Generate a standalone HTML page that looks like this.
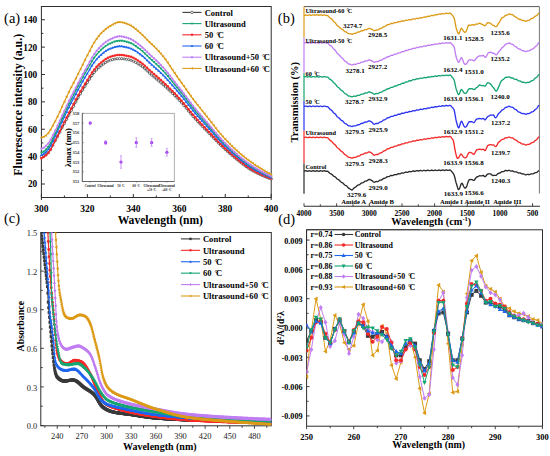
<!DOCTYPE html>
<html><head><meta charset="utf-8"><style>html,body{margin:0;padding:0;background:#fff;width:550px;height:456px;overflow:hidden;position:relative}</style></head><body>
<svg width="550" height="456" viewBox="0 0 550 456" style="position:absolute;left:0;top:0">
<rect width="550" height="456" fill="#fff"/>
<g font-family='"Liberation Serif", serif'>
<rect x="41.4" y="6.5" width="229.80" height="191.00" fill="none" stroke="#2e2e2e" stroke-width="1"/>
<line x1="41.40" y1="184.00" x2="44.90" y2="184.00" stroke="#2e2e2e" stroke-width="1.0"/>
<text x="37.20" y="187.44" font-size="9.3" font-weight="bold" text-anchor="end" fill="#000">20</text>
<line x1="41.40" y1="156.62" x2="44.90" y2="156.62" stroke="#2e2e2e" stroke-width="1.0"/>
<text x="37.20" y="160.06" font-size="9.3" font-weight="bold" text-anchor="end" fill="#000">40</text>
<line x1="41.40" y1="129.24" x2="44.90" y2="129.24" stroke="#2e2e2e" stroke-width="1.0"/>
<text x="37.20" y="132.68" font-size="9.3" font-weight="bold" text-anchor="end" fill="#000">60</text>
<line x1="41.40" y1="101.86" x2="44.90" y2="101.86" stroke="#2e2e2e" stroke-width="1.0"/>
<text x="37.20" y="105.30" font-size="9.3" font-weight="bold" text-anchor="end" fill="#000">80</text>
<line x1="41.40" y1="74.48" x2="44.90" y2="74.48" stroke="#2e2e2e" stroke-width="1.0"/>
<text x="37.20" y="77.92" font-size="9.3" font-weight="bold" text-anchor="end" fill="#000">100</text>
<line x1="41.40" y1="47.10" x2="44.90" y2="47.10" stroke="#2e2e2e" stroke-width="1.0"/>
<text x="37.20" y="50.54" font-size="9.3" font-weight="bold" text-anchor="end" fill="#000">120</text>
<line x1="41.40" y1="19.72" x2="44.90" y2="19.72" stroke="#2e2e2e" stroke-width="1.0"/>
<text x="37.20" y="23.16" font-size="9.3" font-weight="bold" text-anchor="end" fill="#000">140</text>
<line x1="41.40" y1="170.31" x2="43.40" y2="170.31" stroke="#2e2e2e" stroke-width="1.0"/>
<line x1="41.40" y1="142.93" x2="43.40" y2="142.93" stroke="#2e2e2e" stroke-width="1.0"/>
<line x1="41.40" y1="115.55" x2="43.40" y2="115.55" stroke="#2e2e2e" stroke-width="1.0"/>
<line x1="41.40" y1="88.17" x2="43.40" y2="88.17" stroke="#2e2e2e" stroke-width="1.0"/>
<line x1="41.40" y1="60.79" x2="43.40" y2="60.79" stroke="#2e2e2e" stroke-width="1.0"/>
<line x1="41.40" y1="33.41" x2="43.40" y2="33.41" stroke="#2e2e2e" stroke-width="1.0"/>
<line x1="41.40" y1="197.50" x2="41.40" y2="194.00" stroke="#2e2e2e" stroke-width="1.0"/>
<text x="41.40" y="211.81" font-size="9.5" font-weight="bold" text-anchor="middle" fill="#000">300</text>
<line x1="87.36" y1="197.50" x2="87.36" y2="194.00" stroke="#2e2e2e" stroke-width="1.0"/>
<text x="87.36" y="211.81" font-size="9.5" font-weight="bold" text-anchor="middle" fill="#000">320</text>
<line x1="133.32" y1="197.50" x2="133.32" y2="194.00" stroke="#2e2e2e" stroke-width="1.0"/>
<text x="133.32" y="211.81" font-size="9.5" font-weight="bold" text-anchor="middle" fill="#000">340</text>
<line x1="179.28" y1="197.50" x2="179.28" y2="194.00" stroke="#2e2e2e" stroke-width="1.0"/>
<text x="179.28" y="211.81" font-size="9.5" font-weight="bold" text-anchor="middle" fill="#000">360</text>
<line x1="225.24" y1="197.50" x2="225.24" y2="194.00" stroke="#2e2e2e" stroke-width="1.0"/>
<text x="225.24" y="211.81" font-size="9.5" font-weight="bold" text-anchor="middle" fill="#000">380</text>
<line x1="271.20" y1="197.50" x2="271.20" y2="194.00" stroke="#2e2e2e" stroke-width="1.0"/>
<text x="271.20" y="211.81" font-size="9.5" font-weight="bold" text-anchor="middle" fill="#000">400</text>
<line x1="64.38" y1="197.50" x2="64.38" y2="195.50" stroke="#2e2e2e" stroke-width="1.0"/>
<line x1="110.34" y1="197.50" x2="110.34" y2="195.50" stroke="#2e2e2e" stroke-width="1.0"/>
<line x1="156.30" y1="197.50" x2="156.30" y2="195.50" stroke="#2e2e2e" stroke-width="1.0"/>
<line x1="202.26" y1="197.50" x2="202.26" y2="195.50" stroke="#2e2e2e" stroke-width="1.0"/>
<line x1="248.22" y1="197.50" x2="248.22" y2="195.50" stroke="#2e2e2e" stroke-width="1.0"/>
<line x1="41.40" y1="197.50" x2="41.40" y2="200.00" stroke="#2e2e2e" stroke-width="1.0"/>
<line x1="271.20" y1="197.50" x2="271.20" y2="200.00" stroke="#2e2e2e" stroke-width="1.0"/>
<text x="160.30" y="224.31" font-size="11.6" font-weight="bold" text-anchor="middle" fill="#000">Wavelength (nm)</text>
<text x="18.40" y="108.82" font-size="11.9" font-weight="bold" text-anchor="middle" fill="#000" transform="rotate(-90 18.40 104.80)">Fluorescence intensity (a.u.)</text>
<text x="12.10" y="23.19" font-size="14.5" font-weight="normal" text-anchor="middle" fill="#000">(a)</text>
<path d="M41.40,156.62 L43.70,155.95 L46.00,154.45 L48.29,152.51 L50.59,149.51 L52.89,145.26 L55.19,140.88 L57.49,136.64 L59.78,132.24 L62.08,127.87 L64.38,123.59 L66.68,119.34 L68.98,115.08 L71.27,110.75 L73.57,106.32 L75.87,101.94 L78.17,97.75 L80.47,93.80 L82.76,89.98 L85.06,86.28 L87.36,82.69 L89.66,79.08 L91.96,75.54 L94.25,72.41 L96.55,69.88 L98.85,67.68 L101.15,65.76 L103.45,64.06 L105.74,62.45 L108.04,61.11 L110.34,60.25 L112.64,59.62 L114.94,59.10 L117.23,58.73 L119.53,58.60 L121.83,58.69 L124.13,58.93 L126.43,59.28 L128.72,59.69 L131.02,60.31 L133.32,61.26 L135.62,62.44 L137.92,63.78 L140.21,65.18 L142.51,66.83 L144.81,68.79 L147.11,70.93 L149.41,73.10 L151.70,75.16 L154.00,77.10 L156.30,79.01 L158.60,80.91 L160.90,82.84 L163.19,84.82 L165.49,86.88 L167.79,88.99 L170.09,91.14 L172.39,93.34 L174.68,95.60 L176.98,97.92 L179.28,100.31 L181.58,102.80 L183.88,105.44 L186.17,108.19 L188.47,110.98 L190.77,113.77 L193.07,116.48 L195.37,119.07 L197.66,121.56 L199.96,123.99 L202.26,126.38 L204.56,128.74 L206.86,131.09 L209.15,133.46 L211.45,135.85 L213.75,138.26 L216.05,140.66 L218.35,143.00 L220.64,145.23 L222.94,147.39 L225.24,149.51 L227.54,151.57 L229.84,153.59 L232.13,155.56 L234.43,157.47 L236.73,159.36 L239.03,161.25 L241.33,163.10 L243.62,164.89 L245.92,166.60 L248.22,168.19 L250.52,169.63 L252.82,170.96 L255.11,172.19 L257.41,173.33 L259.71,174.42 L262.01,175.45 L264.31,176.44 L266.60,177.38 L268.90,178.26 L271.20,179.07" fill="none" stroke="#3a3a3a" stroke-width="1.2" stroke-linejoin="round" marker-start="url(#ma_black)" marker-mid="url(#ma_black)" marker-end="url(#ma_black)"/>
<path d="M41.40,158.13 L43.70,157.12 L46.00,155.30 L48.29,153.00 L50.59,149.63 L52.89,145.10 L55.19,140.44 L57.49,135.89 L59.78,131.17 L62.08,126.49 L64.38,121.91 L66.68,117.38 L68.98,112.87 L71.27,108.39 L73.57,103.96 L75.87,99.57 L78.17,95.36 L80.47,91.33 L82.76,87.43 L85.06,83.64 L87.36,79.96 L89.66,76.25 L91.96,72.62 L94.25,69.40 L96.55,66.78 L98.85,64.49 L101.15,62.50 L103.45,60.75 L105.74,59.11 L108.04,57.73 L110.34,56.81 L112.64,56.12 L114.94,55.52 L117.23,55.10 L119.53,54.94 L121.83,55.05 L124.13,55.32 L126.43,55.72 L128.72,56.18 L131.02,56.85 L133.32,57.85 L135.62,59.10 L137.92,60.49 L140.21,61.95 L142.51,63.65 L144.81,65.65 L147.11,67.82 L149.41,69.99 L151.70,72.07 L154.00,74.03 L156.30,75.97 L158.60,77.93 L160.90,79.93 L163.19,81.99 L165.49,84.13 L167.79,86.35 L170.09,88.64 L172.39,90.97 L174.68,93.35 L176.98,95.77 L179.28,98.24 L181.58,100.81 L183.88,103.51 L186.17,106.31 L188.47,109.16 L190.77,111.99 L193.07,114.74 L195.37,117.37 L197.66,119.90 L199.96,122.38 L202.26,124.81 L204.56,127.23 L206.86,129.64 L209.15,132.06 L211.45,134.50 L213.75,136.97 L216.05,139.43 L218.35,141.83 L220.64,144.11 L222.94,146.32 L225.24,148.47 L227.54,150.58 L229.84,152.63 L232.13,154.62 L234.43,156.57 L236.73,158.48 L239.03,160.38 L241.33,162.24 L243.62,164.05 L245.92,165.77 L248.22,167.37 L250.52,168.84 L252.82,170.20 L255.11,171.46 L257.41,172.64 L259.71,173.76 L262.01,174.83 L264.31,175.86 L266.60,176.83 L268.90,177.75 L271.20,178.61" fill="none" stroke="#f42a2a" stroke-width="1.2" stroke-linejoin="round" marker-start="url(#ma_red)" marker-mid="url(#ma_red)" marker-end="url(#ma_red)"/>
<path d="M41.40,154.90 L43.70,153.75 L46.00,151.83 L48.29,149.32 L50.59,145.70 L52.89,141.06 L55.19,136.32 L57.49,131.59 L59.78,126.62 L62.08,121.69 L64.38,116.87 L66.68,112.08 L68.98,107.35 L71.27,102.73 L73.57,98.29 L75.87,93.89 L78.17,89.61 L80.47,85.43 L82.76,81.31 L85.06,77.29 L87.36,73.38 L89.66,69.46 L91.96,65.61 L94.25,62.17 L96.55,59.34 L98.85,56.85 L101.15,54.69 L103.45,52.81 L105.74,51.07 L108.04,49.61 L110.34,48.57 L112.64,47.70 L114.94,46.93 L117.23,46.38 L119.53,46.17 L121.83,46.31 L124.13,46.66 L126.43,47.16 L128.72,47.73 L131.02,48.53 L133.32,49.67 L135.62,51.07 L137.92,52.61 L140.21,54.21 L142.51,56.03 L144.81,58.12 L147.11,60.34 L149.41,62.54 L151.70,64.64 L154.00,66.66 L156.30,68.68 L158.60,70.77 L160.90,72.93 L163.19,75.18 L165.49,77.54 L167.79,80.03 L170.09,82.63 L172.39,85.29 L174.68,87.95 L176.98,90.61 L179.28,93.29 L181.58,96.03 L183.88,98.87 L186.17,101.80 L188.47,104.77 L190.77,107.72 L193.07,110.58 L195.37,113.31 L197.66,115.94 L199.96,118.51 L202.26,121.07 L204.56,123.61 L206.86,126.16 L209.15,128.71 L211.45,131.27 L213.75,133.87 L216.05,136.48 L218.35,139.01 L220.64,141.42 L222.94,143.74 L225.24,145.99 L227.54,148.18 L229.84,150.31 L232.13,152.38 L234.43,154.39 L236.73,156.36 L239.03,158.29 L241.33,160.19 L243.62,162.02 L245.92,163.77 L248.22,165.42 L250.52,166.95 L252.82,168.37 L255.11,169.71 L257.41,170.98 L259.71,172.18 L262.01,173.34 L264.31,174.46 L266.60,175.53 L268.90,176.54 L271.20,177.49" fill="none" stroke="#1f66f0" stroke-width="1.2" stroke-linejoin="round" marker-start="url(#ma_blue)" marker-mid="url(#ma_blue)" marker-end="url(#ma_blue)"/>
<path d="M41.40,152.70 L43.70,151.48 L46.00,149.52 L48.29,146.89 L50.59,143.13 L52.89,138.44 L55.19,133.66 L57.49,128.83 L59.78,123.73 L62.08,118.66 L64.38,113.69 L66.68,108.74 L68.98,103.89 L71.27,99.20 L73.57,94.74 L75.87,90.34 L78.17,86.01 L80.47,81.73 L82.76,77.49 L85.06,73.33 L87.36,69.28 L89.66,65.21 L91.96,61.22 L94.25,57.65 L96.55,54.69 L98.85,52.08 L101.15,49.80 L103.45,47.85 L105.74,46.06 L108.04,44.54 L110.34,43.42 L112.64,42.44 L114.94,41.56 L117.23,40.93 L119.53,40.69 L121.83,40.84 L124.13,41.25 L126.43,41.81 L128.72,42.45 L131.02,43.33 L133.32,44.56 L135.62,46.05 L137.92,47.69 L140.21,49.37 L142.51,51.26 L144.81,53.42 L147.11,55.67 L149.41,57.89 L151.70,60.00 L154.00,62.05 L156.30,64.13 L158.60,66.30 L160.90,68.56 L163.19,70.93 L165.49,73.42 L167.79,76.08 L170.09,78.88 L172.39,81.74 L174.68,84.58 L176.98,87.38 L179.28,90.19 L181.58,93.04 L183.88,95.97 L186.17,98.98 L188.47,102.03 L190.77,105.05 L193.07,107.97 L195.37,110.76 L197.66,113.45 L199.96,116.09 L202.26,118.72 L204.56,121.35 L206.86,123.98 L209.15,126.61 L211.45,129.26 L213.75,131.94 L216.05,134.63 L218.35,137.25 L220.64,139.74 L222.94,142.12 L225.24,144.44 L227.54,146.68 L229.84,148.87 L232.13,150.98 L234.43,153.03 L236.73,155.03 L239.03,156.99 L241.33,158.91 L243.62,160.75 L245.92,162.52 L248.22,164.20 L250.52,165.76 L252.82,167.23 L255.11,168.62 L257.41,169.93 L259.71,171.20 L262.01,172.41 L264.31,173.59 L266.60,174.71 L268.90,175.78 L271.20,176.79" fill="none" stroke="#16a571" stroke-width="1.2" stroke-linejoin="round" marker-start="url(#ma_green)" marker-mid="url(#ma_green)" marker-end="url(#ma_green)"/>
<path d="M41.40,148.76 L43.70,147.70 L46.00,145.92 L48.29,143.39 L50.59,139.72 L52.89,135.18 L55.19,130.56 L57.49,125.83 L59.78,120.78 L62.08,115.76 L64.38,110.82 L66.68,105.89 L68.98,101.04 L71.27,96.37 L73.57,91.91 L75.87,87.50 L78.17,83.14 L80.47,78.78 L82.76,74.43 L85.06,70.15 L87.36,65.99 L89.66,61.82 L91.96,57.71 L94.25,54.03 L96.55,50.97 L98.85,48.26 L101.15,45.90 L103.45,43.87 L105.74,42.04 L108.04,40.48 L110.34,39.29 L112.64,38.23 L114.94,37.27 L117.23,36.57 L119.53,36.30 L121.83,36.47 L124.13,36.91 L126.43,37.53 L128.72,38.23 L131.02,39.17 L133.32,40.47 L135.62,42.04 L137.92,43.75 L140.21,45.50 L142.51,47.45 L144.81,49.65 L147.11,51.93 L149.41,54.16 L151.70,56.28 L154.00,58.36 L156.30,60.48 L158.60,62.72 L160.90,65.07 L163.19,67.53 L165.49,70.13 L167.79,72.92 L170.09,75.88 L172.39,78.90 L174.68,81.88 L176.98,84.80 L179.28,87.71 L181.58,90.65 L183.88,93.65 L186.17,96.73 L188.47,99.84 L190.77,102.91 L193.07,105.89 L195.37,108.73 L197.66,111.47 L199.96,114.16 L202.26,116.85 L204.56,119.55 L206.86,122.24 L209.15,124.93 L211.45,127.64 L213.75,130.39 L216.05,133.15 L218.35,135.85 L220.64,138.40 L222.94,140.83 L225.24,143.19 L227.54,145.49 L229.84,147.71 L232.13,149.86 L234.43,151.94 L236.73,153.97 L239.03,155.95 L241.33,157.88 L243.62,159.74 L245.92,161.52 L248.22,163.22 L250.52,164.81 L252.82,166.31 L255.11,167.74 L257.41,169.10 L259.71,170.41 L262.01,171.67 L264.31,172.89 L266.60,174.06 L268.90,175.17 L271.20,176.23" fill="none" stroke="#c07ef2" stroke-width="1.2" stroke-linejoin="round" marker-start="url(#ma_violet)" marker-mid="url(#ma_violet)" marker-end="url(#ma_violet)"/>
<path d="M41.40,137.45 L43.70,136.76 L46.00,135.40 L48.29,133.09 L50.59,129.56 L52.89,125.39 L55.19,121.16 L57.49,116.61 L59.78,111.64 L62.08,106.65 L64.38,101.72 L66.68,96.74 L68.98,91.85 L71.27,87.18 L73.57,82.69 L75.87,78.28 L78.17,73.80 L80.47,69.18 L82.76,64.50 L85.06,59.84 L87.36,55.31 L89.66,50.78 L91.96,46.31 L94.25,42.28 L96.55,38.89 L98.85,35.85 L101.15,33.20 L103.45,30.97 L105.74,28.99 L108.04,27.29 L110.34,25.90 L112.64,24.56 L114.94,23.32 L117.23,22.40 L119.53,22.05 L121.83,22.27 L124.13,22.84 L126.43,23.63 L128.72,24.51 L131.02,25.64 L133.32,27.18 L135.62,28.99 L137.92,30.95 L140.21,32.92 L142.51,35.06 L144.81,37.41 L147.11,39.79 L149.41,42.05 L151.70,44.21 L154.00,46.37 L156.30,48.64 L158.60,51.09 L160.90,53.70 L163.19,56.47 L165.49,59.42 L167.79,62.64 L170.09,66.12 L172.39,69.67 L174.68,73.11 L176.98,76.41 L179.28,79.66 L181.58,82.88 L183.88,86.12 L186.17,89.40 L188.47,92.71 L190.77,95.97 L193.07,99.12 L195.37,102.12 L197.66,105.02 L199.96,107.88 L202.26,110.76 L204.56,113.67 L206.86,116.58 L209.15,119.49 L211.45,122.40 L213.75,125.35 L216.05,128.35 L218.35,131.27 L220.64,134.03 L222.94,136.64 L225.24,139.16 L227.54,141.59 L229.84,143.95 L232.13,146.22 L234.43,148.41 L236.73,150.52 L239.03,152.56 L241.33,154.54 L243.62,156.45 L245.92,158.28 L248.22,160.04 L250.52,161.73 L252.82,163.35 L255.11,164.90 L257.41,166.40 L259.71,167.85 L262.01,169.25 L264.31,170.61 L266.60,171.93 L268.90,173.20 L271.20,174.42" fill="none" stroke="#dc9b18" stroke-width="1.2" stroke-linejoin="round" marker-start="url(#ma_orange)" marker-mid="url(#ma_orange)" marker-end="url(#ma_orange)"/>
<line x1="182.40" y1="12.40" x2="201.50" y2="12.40" stroke="#3a3a3a" stroke-width="1.1"/>
<circle cx="192.00" cy="12.40" r="1.30" fill="#fff" stroke="#444" stroke-width="0.7"/>
<text x="204.70" y="15.57" font-size="8.5" font-weight="bold" text-anchor="start" fill="#000">Control</text>
<line x1="182.40" y1="23.60" x2="201.50" y2="23.60" stroke="#16a571" stroke-width="1.1"/>
<path d="M192.00,25.04 L193.32,22.64 L190.68,22.64Z" fill="#16a571"/>
<text x="204.70" y="26.77" font-size="8.5" font-weight="bold" text-anchor="start" fill="#000">Ultrasound</text>
<line x1="182.40" y1="34.80" x2="201.50" y2="34.80" stroke="#f42a2a" stroke-width="1.1"/>
<circle cx="192.00" cy="34.80" r="1.20" fill="#f42a2a"/>
<text x="204.70" y="37.97" font-size="8.5" font-weight="bold" text-anchor="start" fill="#000">50 <tspan font-weight="normal" dx="0.1em">°</tspan><tspan dx="-0.22em">C</tspan></text>
<line x1="182.40" y1="46.00" x2="201.50" y2="46.00" stroke="#1f66f0" stroke-width="1.1"/>
<path d="M192.00,44.56 L193.32,46.96 L190.68,46.96Z" fill="#1f66f0"/>
<text x="204.70" y="49.17" font-size="8.5" font-weight="bold" text-anchor="start" fill="#000">60 <tspan font-weight="normal" dx="0.1em">°</tspan><tspan dx="-0.22em">C</tspan></text>
<line x1="182.40" y1="57.20" x2="201.50" y2="57.20" stroke="#c07ef2" stroke-width="1.1"/>
<path d="M192.00,55.70 L193.20,57.20 L192.00,58.70 L190.80,57.20Z" fill="#c07ef2"/>
<text x="204.70" y="60.37" font-size="8.5" font-weight="bold" text-anchor="start" fill="#000">Ultrasound+50 <tspan font-weight="normal" dx="0.1em">°</tspan><tspan dx="-0.22em">C</tspan></text>
<line x1="182.40" y1="68.40" x2="201.50" y2="68.40" stroke="#dc9b18" stroke-width="1.1"/>
<path d="M190.56,68.40 L192.96,67.08 L192.96,69.72Z" fill="#dc9b18"/>
<text x="204.70" y="71.57" font-size="8.5" font-weight="bold" text-anchor="start" fill="#000">Ultrasound+60 <tspan font-weight="normal" dx="0.1em">°</tspan><tspan dx="-0.22em">C</tspan></text>
<rect x="82.3" y="113.3" width="92.00" height="68.20" fill="#fff" stroke="#9a9a9a" stroke-width="0.8"/>
<line x1="82.30" y1="113.30" x2="82.30" y2="181.50" stroke="#555" stroke-width="0.8"/>
<line x1="82.30" y1="181.50" x2="174.30" y2="181.50" stroke="#555" stroke-width="0.8"/>
<line x1="82.30" y1="181.50" x2="83.80" y2="181.50" stroke="#444" stroke-width="0.5"/>
<text x="79.30" y="183.05" font-size="4.6" font-weight="bold" text-anchor="end" fill="#333">351</text>
<line x1="82.30" y1="171.76" x2="83.80" y2="171.76" stroke="#444" stroke-width="0.5"/>
<text x="79.30" y="173.31" font-size="4.6" font-weight="bold" text-anchor="end" fill="#333">352</text>
<line x1="82.30" y1="162.01" x2="83.80" y2="162.01" stroke="#444" stroke-width="0.5"/>
<text x="79.30" y="163.57" font-size="4.6" font-weight="bold" text-anchor="end" fill="#333">353</text>
<line x1="82.30" y1="152.27" x2="83.80" y2="152.27" stroke="#444" stroke-width="0.5"/>
<text x="79.30" y="153.82" font-size="4.6" font-weight="bold" text-anchor="end" fill="#333">354</text>
<line x1="82.30" y1="142.53" x2="83.80" y2="142.53" stroke="#444" stroke-width="0.5"/>
<text x="79.30" y="144.08" font-size="4.6" font-weight="bold" text-anchor="end" fill="#333">355</text>
<line x1="82.30" y1="132.79" x2="83.80" y2="132.79" stroke="#444" stroke-width="0.5"/>
<text x="79.30" y="134.34" font-size="4.6" font-weight="bold" text-anchor="end" fill="#333">356</text>
<line x1="82.30" y1="123.04" x2="83.80" y2="123.04" stroke="#444" stroke-width="0.5"/>
<text x="79.30" y="124.60" font-size="4.6" font-weight="bold" text-anchor="end" fill="#333">357</text>
<line x1="82.30" y1="113.30" x2="83.80" y2="113.30" stroke="#444" stroke-width="0.5"/>
<text x="79.30" y="114.85" font-size="4.6" font-weight="bold" text-anchor="end" fill="#333">358</text>
<line x1="90.20" y1="181.50" x2="90.20" y2="182.70" stroke="#444" stroke-width="0.5"/>
<line x1="90.20" y1="122.07" x2="90.20" y2="124.02" stroke="#c58af5" stroke-width="0.9"/>
<line x1="89.00" y1="122.07" x2="91.40" y2="122.07" stroke="#c58af5" stroke-width="0.6"/>
<line x1="89.00" y1="124.02" x2="91.40" y2="124.02" stroke="#c58af5" stroke-width="0.6"/>
<circle cx="90.2" cy="123.04" r="1.6" fill="#9a32f0"/>
<line x1="90.20" y1="122.14" x2="90.20" y2="123.94" stroke="#e6c8ff" stroke-width="0.5"/>
<text x="90.20" y="186.91" font-size="3.3" font-weight="bold" text-anchor="middle" fill="#222">Control</text>
<line x1="105.60" y1="181.50" x2="105.60" y2="182.70" stroke="#444" stroke-width="0.5"/>
<line x1="105.60" y1="140.58" x2="105.60" y2="144.48" stroke="#c58af5" stroke-width="0.9"/>
<line x1="104.40" y1="140.58" x2="106.80" y2="140.58" stroke="#c58af5" stroke-width="0.6"/>
<line x1="104.40" y1="144.48" x2="106.80" y2="144.48" stroke="#c58af5" stroke-width="0.6"/>
<circle cx="105.6" cy="142.53" r="1.6" fill="#9a32f0"/>
<line x1="105.60" y1="141.63" x2="105.60" y2="143.43" stroke="#e6c8ff" stroke-width="0.5"/>
<text x="105.60" y="186.91" font-size="3.3" font-weight="bold" text-anchor="middle" fill="#222">Ultrasound</text>
<line x1="121.00" y1="181.50" x2="121.00" y2="182.70" stroke="#444" stroke-width="0.5"/>
<line x1="121.00" y1="155.68" x2="121.00" y2="168.35" stroke="#c58af5" stroke-width="0.9"/>
<line x1="119.80" y1="155.68" x2="122.20" y2="155.68" stroke="#c58af5" stroke-width="0.6"/>
<line x1="119.80" y1="168.35" x2="122.20" y2="168.35" stroke="#c58af5" stroke-width="0.6"/>
<circle cx="121.0" cy="162.01" r="1.6" fill="#9a32f0"/>
<line x1="121.00" y1="161.11" x2="121.00" y2="162.91" stroke="#e6c8ff" stroke-width="0.5"/>
<text x="121.00" y="186.91" font-size="3.3" font-weight="bold" text-anchor="middle" fill="#222">50 <tspan font-weight="normal" dx="0.1em">°</tspan><tspan dx="-0.22em">C</tspan></text>
<line x1="136.30" y1="181.50" x2="136.30" y2="182.70" stroke="#444" stroke-width="0.5"/>
<line x1="136.30" y1="137.66" x2="136.30" y2="147.40" stroke="#c58af5" stroke-width="0.9"/>
<line x1="135.10" y1="137.66" x2="137.50" y2="137.66" stroke="#c58af5" stroke-width="0.6"/>
<line x1="135.10" y1="147.40" x2="137.50" y2="147.40" stroke="#c58af5" stroke-width="0.6"/>
<circle cx="136.3" cy="142.53" r="1.6" fill="#9a32f0"/>
<line x1="136.30" y1="141.63" x2="136.30" y2="143.43" stroke="#e6c8ff" stroke-width="0.5"/>
<text x="136.30" y="186.91" font-size="3.3" font-weight="bold" text-anchor="middle" fill="#222">60 <tspan font-weight="normal" dx="0.1em">°</tspan><tspan dx="-0.22em">C</tspan></text>
<line x1="151.60" y1="181.50" x2="151.60" y2="182.70" stroke="#444" stroke-width="0.5"/>
<line x1="151.60" y1="138.63" x2="151.60" y2="146.43" stroke="#c58af5" stroke-width="0.9"/>
<line x1="150.40" y1="138.63" x2="152.80" y2="138.63" stroke="#c58af5" stroke-width="0.6"/>
<line x1="150.40" y1="146.43" x2="152.80" y2="146.43" stroke="#c58af5" stroke-width="0.6"/>
<circle cx="151.6" cy="142.53" r="1.6" fill="#9a32f0"/>
<line x1="151.60" y1="141.63" x2="151.60" y2="143.43" stroke="#e6c8ff" stroke-width="0.5"/>
<text x="151.60" y="186.91" font-size="3.3" font-weight="bold" text-anchor="middle" fill="#222">Ultrasound</text>
<text x="151.60" y="191.21" font-size="3.3" font-weight="bold" text-anchor="middle" fill="#222">+50 <tspan font-weight="normal" dx="0.1em">°</tspan><tspan dx="-0.22em">C</tspan></text>
<line x1="166.90" y1="181.50" x2="166.90" y2="182.70" stroke="#444" stroke-width="0.5"/>
<line x1="166.90" y1="148.37" x2="166.90" y2="156.17" stroke="#c58af5" stroke-width="0.9"/>
<line x1="165.70" y1="148.37" x2="168.10" y2="148.37" stroke="#c58af5" stroke-width="0.6"/>
<line x1="165.70" y1="156.17" x2="168.10" y2="156.17" stroke="#c58af5" stroke-width="0.6"/>
<circle cx="166.9" cy="152.27" r="1.6" fill="#9a32f0"/>
<line x1="166.90" y1="151.37" x2="166.90" y2="153.17" stroke="#e6c8ff" stroke-width="0.5"/>
<text x="166.90" y="186.91" font-size="3.3" font-weight="bold" text-anchor="middle" fill="#222">Ultrasound</text>
<text x="166.90" y="191.21" font-size="3.3" font-weight="bold" text-anchor="middle" fill="#222">+60 <tspan font-weight="normal" dx="0.1em">°</tspan><tspan dx="-0.22em">C</tspan></text>
<text x="68.40" y="150.34" font-size="8.4" font-weight="bold" text-anchor="middle" fill="#000" transform="rotate(-90 68.40 147.50)">λmax (nm)</text>
<line x1="304.00" y1="6.60" x2="539.40" y2="6.60" stroke="#555" stroke-width="1.0"/>
<line x1="539.40" y1="6.60" x2="539.40" y2="193.50" stroke="#666" stroke-width="0.9"/>
<line x1="304.00" y1="206.30" x2="540.00" y2="206.30" stroke="#2e2e2e" stroke-width="1.1"/>
<line x1="304.00" y1="206.30" x2="304.00" y2="203.30" stroke="#2e2e2e" stroke-width="0.9"/>
<text x="304.00" y="215.93" font-size="7.5" font-weight="bold" text-anchor="middle" fill="#000">4000</text>
<line x1="336.65" y1="206.30" x2="336.65" y2="203.30" stroke="#2e2e2e" stroke-width="0.9"/>
<text x="336.65" y="215.93" font-size="7.5" font-weight="bold" text-anchor="middle" fill="#000">3500</text>
<line x1="369.31" y1="206.30" x2="369.31" y2="203.30" stroke="#2e2e2e" stroke-width="0.9"/>
<text x="369.31" y="215.93" font-size="7.5" font-weight="bold" text-anchor="middle" fill="#000">3000</text>
<line x1="401.97" y1="206.30" x2="401.97" y2="203.30" stroke="#2e2e2e" stroke-width="0.9"/>
<text x="401.97" y="215.93" font-size="7.5" font-weight="bold" text-anchor="middle" fill="#000">2500</text>
<line x1="434.62" y1="206.30" x2="434.62" y2="203.30" stroke="#2e2e2e" stroke-width="0.9"/>
<text x="434.62" y="215.93" font-size="7.5" font-weight="bold" text-anchor="middle" fill="#000">2000</text>
<line x1="467.27" y1="206.30" x2="467.27" y2="203.30" stroke="#2e2e2e" stroke-width="0.9"/>
<text x="467.27" y="215.93" font-size="7.5" font-weight="bold" text-anchor="middle" fill="#000">1500</text>
<line x1="499.93" y1="206.30" x2="499.93" y2="203.30" stroke="#2e2e2e" stroke-width="0.9"/>
<text x="499.93" y="215.93" font-size="7.5" font-weight="bold" text-anchor="middle" fill="#000">1000</text>
<line x1="532.59" y1="206.30" x2="532.59" y2="203.30" stroke="#2e2e2e" stroke-width="0.9"/>
<text x="532.59" y="215.93" font-size="7.5" font-weight="bold" text-anchor="middle" fill="#000">500</text>
<line x1="320.33" y1="206.30" x2="320.33" y2="204.30" stroke="#2e2e2e" stroke-width="0.9"/>
<line x1="352.98" y1="206.30" x2="352.98" y2="204.30" stroke="#2e2e2e" stroke-width="0.9"/>
<line x1="385.64" y1="206.30" x2="385.64" y2="204.30" stroke="#2e2e2e" stroke-width="0.9"/>
<line x1="418.29" y1="206.30" x2="418.29" y2="204.30" stroke="#2e2e2e" stroke-width="0.9"/>
<line x1="450.95" y1="206.30" x2="450.95" y2="204.30" stroke="#2e2e2e" stroke-width="0.9"/>
<line x1="483.60" y1="206.30" x2="483.60" y2="204.30" stroke="#2e2e2e" stroke-width="0.9"/>
<line x1="516.26" y1="206.30" x2="516.26" y2="204.30" stroke="#2e2e2e" stroke-width="0.9"/>
<text x="431.20" y="225.28" font-size="10.3" font-weight="bold" text-anchor="middle" fill="#000">Wavelength (cm<tspan font-size="6.5" dy="-4">-1</tspan><tspan dy="4">)</tspan></text>
<text x="294.20" y="105.78" font-size="10.6" font-weight="bold" text-anchor="middle" fill="#000" transform="rotate(-90 294.20 102.20)">Transmission (%)</text>
<text x="286.30" y="23.39" font-size="14.5" font-weight="normal" text-anchor="middle" fill="#000">(b)</text>
<path d="M304.00,15.65 L304.50,15.53 L305.00,15.31 L305.50,15.10 L306.00,15.04 L306.50,15.15 L307.00,15.33 L307.50,15.45 L308.00,15.41 L308.50,15.22 L309.00,15.00 L309.50,14.89 L310.00,14.94 L310.50,15.12 L311.00,15.29 L311.50,15.32 L312.00,15.19 L312.50,14.98 L313.00,14.81 L313.50,14.81 L314.00,14.96 L314.50,15.16 L315.00,15.26 L315.50,15.20 L316.00,15.01 L316.50,14.82 L317.00,14.75 L317.50,14.86 L318.00,15.06 L318.50,15.22 L319.00,15.24 L319.50,15.09 L320.00,14.89 L320.50,14.77 L321.00,14.83 L321.50,15.01 L322.00,15.22 L322.50,15.31 L323.00,15.23 L323.50,15.05 L324.00,14.90 L324.50,14.89 L325.00,15.05 L325.50,15.28 L326.00,15.44 L326.50,15.49 L327.00,15.50 L327.50,15.56 L328.00,15.80 L328.50,16.26 L329.00,16.87 L329.50,17.49 L330.00,17.98 L330.50,18.30 L331.00,18.51 L331.50,18.79 L332.00,19.27 L332.50,19.93 L333.00,20.66 L333.50,21.31 L334.00,21.81 L334.50,22.20 L335.00,22.60 L335.50,23.12 L336.00,23.82 L336.50,24.59 L337.00,25.30 L337.50,25.83 L338.00,26.18 L338.50,26.45 L339.00,26.76 L339.50,27.20 L340.00,27.76 L340.50,28.32 L341.00,28.77 L341.50,29.05 L342.00,29.23 L342.50,29.45 L343.00,29.80 L343.50,30.32 L344.00,30.89 L344.50,31.37 L345.00,31.68 L345.50,31.83 L346.00,31.94 L346.50,32.16 L347.00,32.52 L347.50,32.97 L348.00,33.38 L348.50,33.62 L349.00,33.67 L349.50,33.62 L350.00,33.60 L350.50,33.71 L351.00,33.93 L351.50,34.15 L352.00,34.23 L352.50,34.12 L353.00,33.85 L353.50,33.57 L354.00,33.40 L354.50,33.37 L355.00,33.42 L355.50,33.40 L356.00,33.22 L356.50,32.87 L357.00,32.47 L357.50,32.16 L358.00,32.03 L358.50,32.02 L359.00,32.02 L359.50,31.91 L360.00,31.64 L360.50,31.28 L361.00,30.95 L361.50,30.77 L362.00,30.74 L362.50,30.77 L363.00,30.72 L363.50,30.50 L364.00,30.15 L364.50,29.79 L365.00,29.55 L365.50,29.49 L366.00,29.54 L366.50,29.56 L367.00,29.42 L367.50,29.12 L368.00,28.76 L368.50,28.48 L369.00,28.39 L369.50,28.49 L370.00,28.66 L370.50,28.84 L371.00,28.98 L371.50,29.11 L372.00,29.30 L372.50,29.62 L373.00,30.07 L373.50,30.50 L374.00,30.73 L374.50,30.71 L375.00,30.50 L375.50,30.23 L376.00,30.03 L376.50,29.98 L377.00,30.03 L377.50,30.06 L378.00,29.94 L378.50,29.64 L379.00,29.22 L379.50,28.84 L380.00,28.60 L380.50,28.51 L381.00,28.46 L381.50,28.32 L382.00,28.00 L382.50,27.55 L383.00,27.08 L383.50,26.73 L384.00,26.56 L384.50,26.48 L385.00,26.38 L385.50,26.14 L386.00,25.74 L386.50,25.28 L387.00,24.91 L387.50,24.71 L388.00,24.67 L388.50,24.67 L389.00,24.57 L389.50,24.31 L390.00,23.97 L390.50,23.66 L391.00,23.48 L391.50,23.48 L392.00,23.56 L392.50,23.57 L393.00,23.42 L393.50,23.13 L394.00,22.81 L394.50,22.58 L395.00,22.53 L395.50,22.61 L396.00,22.67 L396.50,22.61 L397.00,22.38 L397.50,22.06 L398.00,21.80 L398.50,21.69 L399.00,21.74 L399.50,21.84 L400.00,21.85 L400.50,21.69 L401.00,21.40 L401.50,21.11 L402.00,20.95 L402.50,20.95 L403.00,21.06 L403.50,21.12 L404.00,21.04 L404.50,20.80 L405.00,20.50 L405.50,20.28 L406.00,20.23 L406.50,20.32 L407.00,20.42 L407.50,20.41 L408.00,20.23 L408.50,19.94 L409.00,19.68 L409.50,19.57 L410.00,19.61 L410.50,19.73 L411.00,19.78 L411.50,19.67 L412.00,19.42 L412.50,19.13 L413.00,18.95 L413.50,18.94 L414.00,19.05 L414.50,19.15 L415.00,19.11 L415.50,18.90 L416.00,18.61 L416.50,18.37 L417.00,18.30 L417.50,18.37 L418.00,18.49 L418.50,18.51 L419.00,18.36 L419.50,18.09 L420.00,17.81 L420.50,17.66 L421.00,17.68 L421.50,17.79 L422.00,17.86 L422.50,17.77 L423.00,17.52 L423.50,17.22 L424.00,17.00 L424.50,16.94 L425.00,17.03 L425.50,17.12 L426.00,17.09 L426.50,16.89 L427.00,16.58 L427.50,16.31 L428.00,16.18 L428.50,16.22 L429.00,16.32 L429.50,16.35 L430.00,16.21 L430.50,15.93 L431.00,15.63 L431.50,15.44 L432.00,15.42 L432.50,15.51 L433.00,15.59 L433.50,15.53 L434.00,15.30 L434.50,15.00 L435.00,14.76 L435.50,14.68 L436.00,14.75 L436.50,14.86 L437.00,14.87 L437.50,14.71 L438.00,14.44 L438.50,14.17 L439.00,14.04 L439.50,14.07 L440.00,14.20 L440.50,14.28 L441.00,14.21 L441.50,13.99 L442.00,13.72 L442.50,13.54 L443.00,13.54 L443.50,13.66 L444.00,13.80 L444.50,13.82 L445.00,13.67 L445.50,13.43 L446.00,13.23 L446.50,13.18 L447.00,13.29 L447.50,13.48 L448.00,13.58 L448.50,13.53 L449.00,13.34 L449.50,13.13 L450.00,13.05 L450.50,13.24 L451.00,13.71 L451.50,14.32 L452.00,14.92 L452.50,15.48 L453.00,16.07 L453.50,16.82 L454.00,17.79 L454.50,19.47 L455.00,21.99 L455.50,24.74 L456.00,27.20 L456.50,28.98 L457.00,30.41 L457.50,31.92 L458.00,33.21 L458.50,33.88 L459.00,33.64 L459.50,32.65 L460.00,31.21 L460.50,29.73 L461.00,28.64 L461.50,28.31 L462.00,28.73 L462.50,29.50 L463.00,30.36 L463.50,31.13 L464.00,31.72 L464.50,32.15 L465.00,32.37 L465.50,32.22 L466.00,31.62 L466.50,30.60 L467.00,29.25 L467.50,27.74 L468.00,26.38 L468.50,25.44 L469.00,25.15 L469.50,25.26 L470.00,25.36 L470.50,25.33 L471.00,25.15 L471.50,24.91 L472.00,24.74 L472.50,24.74 L473.00,24.87 L473.50,25.02 L474.00,25.05 L474.50,24.88 L475.00,24.57 L475.50,24.26 L476.00,24.07 L476.50,24.04 L477.00,24.09 L477.50,24.08 L478.00,23.92 L478.50,23.64 L479.00,23.34 L479.50,23.17 L480.00,23.22 L480.50,23.48 L481.00,23.84 L481.50,24.16 L482.00,24.36 L482.50,24.50 L483.00,24.68 L483.50,24.98 L484.00,25.36 L484.50,25.71 L485.00,25.82 L485.50,25.47 L486.00,24.77 L486.50,23.94 L487.00,23.22 L487.50,22.76 L488.00,22.62 L488.50,22.73 L489.00,22.87 L489.50,22.95 L490.00,23.04 L490.50,23.25 L491.00,23.65 L491.50,24.17 L492.00,24.67 L492.50,25.05 L493.00,25.29 L493.50,25.45 L494.00,25.61 L494.50,25.87 L495.00,26.23 L495.50,26.57 L496.00,26.72 L496.50,26.47 L497.00,25.85 L497.50,25.03 L498.00,24.17 L498.50,23.39 L499.00,22.66 L499.50,21.91 L500.00,21.04 L500.50,20.06 L501.00,19.10 L501.50,18.33 L502.00,17.90 L502.50,17.68 L503.00,17.51 L503.50,17.26 L504.00,16.84 L504.50,16.31 L505.00,15.79 L505.50,15.41 L506.00,15.23 L506.50,15.17 L507.00,15.09 L507.50,14.89 L508.00,14.57 L508.50,14.23 L509.00,14.02 L509.50,14.01 L510.00,14.18 L510.50,14.43 L511.00,14.61 L511.50,14.67 L512.00,14.67 L512.50,14.73 L513.00,14.97 L513.50,15.41 L514.00,15.93 L514.50,16.40 L515.00,16.71 L515.50,16.89 L516.00,17.05 L516.50,17.31 L517.00,17.73 L517.50,18.26 L518.00,18.75 L518.50,19.08 L519.00,19.21 L519.50,19.23 L520.00,19.27 L520.50,19.45 L521.00,19.78 L521.50,20.16 L522.00,20.43 L522.50,20.53 L523.00,20.49 L523.50,20.44 L524.00,20.51 L524.50,20.72 L525.00,21.01 L525.50,21.21 L526.00,21.23 L526.50,21.05 L527.00,20.76 L527.50,20.51 L528.00,20.39 L528.50,20.37 L529.00,20.33 L529.50,20.14 L530.00,19.77 L530.50,19.29 L531.00,18.83 L531.50,18.54 L532.00,18.41 L532.50,18.34 L533.00,18.18 L533.50,17.83 L534.00,17.33 L534.50,16.80 L535.00,16.36 L535.50,16.08 L536.00,15.89 L536.50,15.67 L537.00,15.29 L537.50,14.74 L538.00,14.10 L538.50,13.52 L539.00,13.08" fill="none" stroke="#dc9b18" stroke-width="1.35" stroke-linejoin="round"/>
<line x1="304.00" y1="6.60" x2="304.00" y2="37.70" stroke="#dc9b18" stroke-width="1.2"/>
<path d="M304.00,43.05 L304.50,42.96 L305.00,42.77 L305.50,42.59 L306.00,42.56 L306.50,42.69 L307.00,42.90 L307.50,43.04 L308.00,43.02 L308.50,42.85 L309.00,42.65 L309.50,42.55 L310.00,42.62 L310.50,42.82 L311.00,43.00 L311.50,43.05 L312.00,42.93 L312.50,42.72 L313.00,42.57 L313.50,42.57 L314.00,42.73 L314.50,42.94 L315.00,43.05 L315.50,42.99 L316.00,42.80 L316.50,42.61 L317.00,42.55 L317.50,42.66 L318.00,42.86 L318.50,43.02 L319.00,43.03 L319.50,42.88 L320.00,42.68 L320.50,42.56 L321.00,42.60 L321.50,42.78 L322.00,42.97 L322.50,43.05 L323.00,42.96 L323.50,42.76 L324.00,42.59 L324.50,42.56 L325.00,42.70 L325.50,42.90 L326.00,43.04 L326.50,43.07 L327.00,43.05 L327.50,43.08 L328.00,43.30 L328.50,43.73 L329.00,44.33 L329.50,44.93 L330.00,45.40 L330.50,45.71 L331.00,45.91 L331.50,46.19 L332.00,46.66 L332.50,47.32 L333.00,48.05 L333.50,48.71 L334.00,49.23 L334.50,49.64 L335.00,50.06 L335.50,50.62 L336.00,51.36 L336.50,52.18 L337.00,52.95 L337.50,53.56 L338.00,53.99 L338.50,54.35 L339.00,54.77 L339.50,55.33 L340.00,55.99 L340.50,56.64 L341.00,57.19 L341.50,57.58 L342.00,57.89 L342.50,58.23 L343.00,58.72 L343.50,59.37 L344.00,60.08 L344.50,60.71 L345.00,61.16 L345.50,61.46 L346.00,61.71 L346.50,62.06 L347.00,62.55 L347.50,63.13 L348.00,63.65 L348.50,64.00 L349.00,64.14 L349.50,64.17 L350.00,64.21 L350.50,64.37 L351.00,64.62 L351.50,64.85 L352.00,64.94 L352.50,64.84 L353.00,64.61 L353.50,64.37 L354.00,64.25 L354.50,64.29 L355.00,64.40 L355.50,64.44 L356.00,64.32 L356.50,64.04 L357.00,63.70 L357.50,63.44 L358.00,63.35 L358.50,63.38 L359.00,63.41 L359.50,63.31 L360.00,63.04 L360.50,62.67 L361.00,62.34 L361.50,62.15 L362.00,62.13 L362.50,62.17 L363.00,62.13 L363.50,61.93 L364.00,61.59 L364.50,61.24 L365.00,61.02 L365.50,60.97 L366.00,61.04 L366.50,61.07 L367.00,60.94 L367.50,60.64 L368.00,60.27 L368.50,59.99 L369.00,59.90 L369.50,59.99 L370.00,60.16 L370.50,60.34 L371.00,60.48 L371.50,60.61 L372.00,60.80 L372.50,61.12 L373.00,61.57 L373.50,62.00 L374.00,62.23 L374.50,62.21 L375.00,62.01 L375.50,61.75 L376.00,61.57 L376.50,61.53 L377.00,61.60 L377.50,61.66 L378.00,61.56 L378.50,61.29 L379.00,60.90 L379.50,60.55 L380.00,60.35 L380.50,60.28 L381.00,60.27 L381.50,60.16 L382.00,59.87 L382.50,59.45 L383.00,59.01 L383.50,58.69 L384.00,58.54 L384.50,58.49 L385.00,58.41 L385.50,58.18 L386.00,57.79 L386.50,57.35 L387.00,56.98 L387.50,56.79 L388.00,56.74 L388.50,56.73 L389.00,56.61 L389.50,56.34 L390.00,55.97 L390.50,55.62 L391.00,55.42 L391.50,55.38 L392.00,55.41 L392.50,55.39 L393.00,55.20 L393.50,54.86 L394.00,54.49 L394.50,54.22 L395.00,54.11 L395.50,54.13 L396.00,54.15 L396.50,54.02 L397.00,53.74 L397.50,53.36 L398.00,53.04 L398.50,52.87 L399.00,52.85 L399.50,52.89 L400.00,52.83 L400.50,52.61 L401.00,52.26 L401.50,51.90 L402.00,51.67 L402.50,51.61 L403.00,51.64 L403.50,51.64 L404.00,51.49 L404.50,51.19 L405.00,50.82 L405.50,50.54 L406.00,50.42 L406.50,50.44 L407.00,50.48 L407.50,50.41 L408.00,50.17 L408.50,49.82 L409.00,49.50 L409.50,49.32 L410.00,49.31 L410.50,49.38 L411.00,49.37 L411.50,49.21 L412.00,48.90 L412.50,48.57 L413.00,48.34 L413.50,48.29 L414.00,48.35 L414.50,48.41 L415.00,48.33 L415.50,48.09 L416.00,47.76 L416.50,47.50 L417.00,47.39 L417.50,47.45 L418.00,47.54 L418.50,47.54 L419.00,47.38 L419.50,47.09 L420.00,46.81 L420.50,46.66 L421.00,46.67 L421.50,46.78 L422.00,46.85 L422.50,46.76 L423.00,46.51 L423.50,46.21 L424.00,45.99 L424.50,45.94 L425.00,46.03 L425.50,46.12 L426.00,46.10 L426.50,45.91 L427.00,45.61 L427.50,45.35 L428.00,45.24 L428.50,45.28 L429.00,45.40 L429.50,45.43 L430.00,45.31 L430.50,45.05 L431.00,44.76 L431.50,44.58 L432.00,44.58 L432.50,44.69 L433.00,44.78 L433.50,44.73 L434.00,44.52 L434.50,44.23 L435.00,44.01 L435.50,43.95 L436.00,44.04 L436.50,44.16 L437.00,44.19 L437.50,44.05 L438.00,43.79 L438.50,43.54 L439.00,43.42 L439.50,43.48 L440.00,43.62 L440.50,43.72 L441.00,43.66 L441.50,43.45 L442.00,43.19 L442.50,43.03 L443.00,43.04 L443.50,43.18 L444.00,43.33 L444.50,43.36 L445.00,43.22 L445.50,42.99 L446.00,42.79 L446.50,42.75 L447.00,42.87 L447.50,43.06 L448.00,43.17 L448.50,43.12 L449.00,42.93 L449.50,42.73 L450.00,42.65 L450.50,42.82 L451.00,43.25 L451.50,43.79 L452.00,44.32 L452.50,44.79 L453.00,45.28 L453.50,45.92 L454.00,46.79 L454.50,48.43 L455.00,50.98 L455.50,53.79 L456.00,56.27 L456.50,57.98 L457.00,59.25 L457.50,60.56 L458.00,61.68 L458.50,62.28 L459.00,62.11 L459.50,61.31 L460.00,60.11 L460.50,58.88 L461.00,57.97 L461.50,57.71 L462.00,58.27 L462.50,59.42 L463.00,60.78 L463.50,62.10 L464.00,63.21 L464.50,64.00 L465.00,64.37 L465.50,64.38 L466.00,64.21 L466.50,63.79 L467.00,63.07 L467.50,62.17 L468.00,61.25 L468.50,60.51 L469.00,60.06 L469.50,59.88 L470.00,59.92 L470.50,59.97 L471.00,59.92 L471.50,59.84 L472.00,59.84 L472.50,60.02 L473.00,60.32 L473.50,60.62 L474.00,60.75 L474.50,60.57 L475.00,60.01 L475.50,59.28 L476.00,58.57 L476.50,57.98 L477.00,57.51 L477.50,57.09 L478.00,56.70 L478.50,56.37 L479.00,56.04 L479.50,55.82 L480.00,55.77 L480.50,55.87 L481.00,55.97 L481.50,55.95 L482.00,55.79 L482.50,55.55 L483.00,55.37 L483.50,55.44 L484.00,55.94 L484.50,56.63 L485.00,57.20 L485.50,57.39 L486.00,57.01 L486.50,56.12 L487.00,55.05 L487.50,54.05 L488.00,53.25 L488.50,52.72 L489.00,52.54 L489.50,52.42 L490.00,52.27 L490.50,52.22 L491.00,52.36 L491.50,52.66 L492.00,52.99 L492.50,53.21 L493.00,53.26 L493.50,53.26 L494.00,53.38 L494.50,53.68 L495.00,54.13 L495.50,54.60 L496.00,54.91 L496.50,54.88 L497.00,54.39 L497.50,53.60 L498.00,52.74 L498.50,51.98 L499.00,51.38 L499.50,50.91 L500.00,50.43 L500.50,49.78 L501.00,49.03 L501.50,48.33 L502.00,47.78 L502.50,47.39 L503.00,47.06 L503.50,46.64 L504.00,46.08 L504.50,45.41 L505.00,44.78 L505.50,44.31 L506.00,44.05 L506.50,43.94 L507.00,43.84 L507.50,43.64 L508.00,43.36 L508.50,43.08 L509.00,42.97 L509.50,43.07 L510.00,43.36 L510.50,43.71 L511.00,43.98 L511.50,44.12 L512.00,44.19 L512.50,44.31 L513.00,44.60 L513.50,45.08 L514.00,45.64 L514.50,46.13 L515.00,46.47 L515.50,46.66 L516.00,46.83 L516.50,47.10 L517.00,47.52 L517.50,48.05 L518.00,48.53 L518.50,48.85 L519.00,48.98 L519.50,49.00 L520.00,49.08 L520.50,49.33 L521.00,49.74 L521.50,50.19 L522.00,50.53 L522.50,50.69 L523.00,50.72 L523.50,50.73 L524.00,50.84 L524.50,51.09 L525.00,51.39 L525.50,51.61 L526.00,51.63 L526.50,51.45 L527.00,51.17 L527.50,50.96 L528.00,50.87 L528.50,50.90 L529.00,50.90 L529.50,50.76 L530.00,50.44 L530.50,49.99 L531.00,49.57 L531.50,49.30 L532.00,49.17 L532.50,49.11 L533.00,48.95 L533.50,48.58 L534.00,48.03 L534.50,47.42 L535.00,46.89 L535.50,46.49 L536.00,46.17 L536.50,45.80 L537.00,45.26 L537.50,44.54 L538.00,43.72 L538.50,42.94 L539.00,42.32" fill="none" stroke="#c07ef2" stroke-width="1.35" stroke-linejoin="round"/>
<line x1="304.00" y1="37.70" x2="304.00" y2="73.30" stroke="#c07ef2" stroke-width="1.2"/>
<path d="M304.00,77.05 L304.50,76.96 L305.00,76.77 L305.50,76.59 L306.00,76.56 L306.50,76.69 L307.00,76.90 L307.50,77.04 L308.00,77.02 L308.50,76.85 L309.00,76.65 L309.50,76.55 L310.00,76.62 L310.50,76.82 L311.00,77.00 L311.50,77.05 L312.00,76.93 L312.50,76.72 L313.00,76.57 L313.50,76.57 L314.00,76.73 L314.50,76.94 L315.00,77.05 L315.50,76.99 L316.00,76.80 L316.50,76.61 L317.00,76.55 L317.50,76.66 L318.00,76.86 L318.50,77.02 L319.00,77.03 L319.50,76.88 L320.00,76.68 L320.50,76.56 L321.00,76.60 L321.50,76.78 L322.00,76.97 L322.50,77.05 L323.00,76.96 L323.50,76.76 L324.00,76.59 L324.50,76.56 L325.00,76.70 L325.50,76.90 L326.00,77.04 L326.50,77.07 L327.00,77.05 L327.50,77.09 L328.00,77.31 L328.50,77.75 L329.00,78.35 L329.50,78.95 L330.00,79.42 L330.50,79.72 L331.00,79.91 L331.50,80.17 L332.00,80.61 L332.50,81.24 L333.00,81.93 L333.50,82.54 L334.00,83.00 L334.50,83.35 L335.00,83.71 L335.50,84.21 L336.00,84.88 L336.50,85.63 L337.00,86.33 L337.50,86.87 L338.00,87.23 L338.50,87.53 L339.00,87.89 L339.50,88.39 L340.00,88.99 L340.50,89.59 L341.00,90.08 L341.50,90.41 L342.00,90.65 L342.50,90.93 L343.00,91.36 L343.50,91.95 L344.00,92.60 L344.50,93.16 L345.00,93.55 L345.50,93.79 L346.00,93.98 L346.50,94.28 L347.00,94.71 L347.50,95.24 L348.00,95.72 L348.50,96.02 L349.00,96.13 L349.50,96.13 L350.00,96.15 L350.50,96.28 L351.00,96.52 L351.50,96.75 L352.00,96.84 L352.50,96.75 L353.00,96.51 L353.50,96.28 L354.00,96.16 L354.50,96.20 L355.00,96.31 L355.50,96.36 L356.00,96.24 L356.50,95.96 L357.00,95.63 L357.50,95.38 L358.00,95.29 L358.50,95.32 L359.00,95.36 L359.50,95.26 L360.00,95.00 L360.50,94.63 L361.00,94.30 L361.50,94.13 L362.00,94.11 L362.50,94.15 L363.00,94.11 L363.50,93.91 L364.00,93.58 L364.50,93.24 L365.00,93.02 L365.50,92.97 L366.00,93.04 L366.50,93.07 L367.00,92.94 L367.50,92.64 L368.00,92.27 L368.50,91.99 L369.00,91.90 L369.50,91.99 L370.00,92.16 L370.50,92.34 L371.00,92.48 L371.50,92.61 L372.00,92.80 L372.50,93.12 L373.00,93.57 L373.50,94.00 L374.00,94.23 L374.50,94.21 L375.00,94.01 L375.50,93.75 L376.00,93.57 L376.50,93.54 L377.00,93.61 L377.50,93.66 L378.00,93.57 L378.50,93.30 L379.00,92.91 L379.50,92.57 L380.00,92.36 L380.50,92.30 L381.00,92.29 L381.50,92.18 L382.00,91.89 L382.50,91.47 L383.00,91.03 L383.50,90.71 L384.00,90.56 L384.50,90.51 L385.00,90.43 L385.50,90.20 L386.00,89.82 L386.50,89.37 L387.00,89.00 L387.50,88.81 L388.00,88.76 L388.50,88.74 L389.00,88.62 L389.50,88.35 L390.00,87.97 L390.50,87.62 L391.00,87.41 L391.50,87.36 L392.00,87.38 L392.50,87.35 L393.00,87.15 L393.50,86.80 L394.00,86.41 L394.50,86.13 L395.00,86.01 L395.50,86.01 L396.00,86.01 L396.50,85.87 L397.00,85.57 L397.50,85.18 L398.00,84.83 L398.50,84.65 L399.00,84.62 L399.50,84.63 L400.00,84.56 L400.50,84.32 L401.00,83.94 L401.50,83.57 L402.00,83.32 L402.50,83.24 L403.00,83.26 L403.50,83.24 L404.00,83.07 L404.50,82.75 L405.00,82.36 L405.50,82.06 L406.00,81.93 L406.50,81.93 L407.00,81.96 L407.50,81.87 L408.00,81.61 L408.50,81.25 L409.00,80.91 L409.50,80.73 L410.00,80.70 L410.50,80.76 L411.00,80.74 L411.50,80.57 L412.00,80.25 L412.50,79.91 L413.00,79.68 L413.50,79.62 L414.00,79.68 L414.50,79.74 L415.00,79.66 L415.50,79.41 L416.00,79.09 L416.50,78.83 L417.00,78.73 L417.50,78.79 L418.00,78.89 L418.50,78.90 L419.00,78.75 L419.50,78.48 L420.00,78.21 L420.50,78.07 L421.00,78.11 L421.50,78.23 L422.00,78.31 L422.50,78.24 L423.00,78.01 L423.50,77.73 L424.00,77.53 L424.50,77.51 L425.00,77.61 L425.50,77.73 L426.00,77.73 L426.50,77.56 L427.00,77.28 L427.50,77.04 L428.00,76.95 L428.50,77.02 L429.00,77.15 L429.50,77.21 L430.00,77.11 L430.50,76.87 L431.00,76.60 L431.50,76.45 L432.00,76.47 L432.50,76.60 L433.00,76.71 L433.50,76.69 L434.00,76.50 L434.50,76.23 L435.00,76.03 L435.50,75.99 L436.00,76.10 L436.50,76.24 L437.00,76.29 L437.50,76.17 L438.00,75.93 L438.50,75.70 L439.00,75.60 L439.50,75.67 L440.00,75.83 L440.50,75.94 L441.00,75.90 L441.50,75.71 L442.00,75.47 L442.50,75.32 L443.00,75.34 L443.50,75.49 L444.00,75.65 L444.50,75.69 L445.00,75.57 L445.50,75.34 L446.00,75.16 L446.50,75.13 L447.00,75.26 L447.50,75.45 L448.00,75.56 L448.50,75.52 L449.00,75.33 L449.50,75.13 L450.00,75.05 L450.50,75.24 L451.00,75.72 L451.50,76.33 L452.00,76.94 L452.50,77.51 L453.00,78.10 L453.50,78.83 L454.00,79.79 L454.50,81.37 L455.00,83.67 L455.50,86.16 L456.00,88.37 L456.50,89.98 L457.00,91.30 L457.50,92.72 L458.00,93.94 L458.50,94.58 L459.00,94.38 L459.50,93.48 L460.00,92.16 L460.50,90.80 L461.00,89.81 L461.50,89.51 L462.00,89.92 L462.50,90.66 L463.00,91.48 L463.50,92.20 L464.00,92.76 L464.50,93.16 L465.00,93.37 L465.50,93.38 L466.00,93.19 L466.50,92.74 L467.00,92.00 L467.50,91.07 L468.00,90.12 L468.50,89.35 L469.00,88.88 L469.50,88.69 L470.00,88.72 L470.50,88.77 L471.00,88.72 L471.50,88.64 L472.00,88.64 L472.50,88.82 L473.00,89.12 L473.50,89.42 L474.00,89.55 L474.50,89.41 L475.00,89.01 L475.50,88.49 L476.00,88.03 L476.50,87.66 L477.00,87.34 L477.50,86.96 L478.00,86.45 L478.50,85.86 L479.00,85.32 L479.50,85.01 L480.00,85.02 L480.50,85.24 L481.00,85.50 L481.50,85.65 L482.00,85.65 L482.50,85.56 L483.00,85.53 L483.50,85.63 L484.00,85.87 L484.50,86.12 L485.00,86.21 L485.50,85.81 L486.00,85.02 L486.50,84.09 L487.00,83.31 L487.50,82.84 L488.00,82.76 L488.50,82.97 L489.00,83.19 L489.50,83.38 L490.00,83.60 L490.50,83.97 L491.00,84.53 L491.50,85.25 L492.00,85.97 L492.50,86.57 L493.00,87.15 L493.50,87.71 L494.00,88.34 L494.50,89.08 L495.00,89.90 L495.50,90.63 L496.00,91.08 L496.50,91.08 L497.00,90.51 L497.50,89.54 L498.00,88.39 L498.50,87.23 L499.00,86.09 L499.50,84.91 L500.00,83.68 L500.50,82.45 L501.00,81.38 L501.50,80.67 L502.00,80.20 L502.50,79.89 L503.00,79.64 L503.50,79.32 L504.00,78.85 L504.50,78.29 L505.00,77.77 L505.50,77.42 L506.00,77.28 L506.50,77.29 L507.00,77.31 L507.50,77.24 L508.00,77.09 L508.50,76.92 L509.00,76.87 L509.50,77.03 L510.00,77.34 L510.50,77.69 L511.00,77.94 L511.50,78.02 L512.00,78.01 L512.50,78.02 L513.00,78.17 L513.50,78.47 L514.00,78.83 L514.50,79.13 L515.00,79.29 L515.50,79.31 L516.00,79.31 L516.50,79.43 L517.00,79.73 L517.50,80.14 L518.00,80.54 L518.50,80.81 L519.00,80.90 L519.50,80.91 L520.00,80.98 L520.50,81.20 L521.00,81.56 L521.50,81.95 L522.00,82.23 L522.50,82.32 L523.00,82.27 L523.50,82.21 L524.00,82.26 L524.50,82.46 L525.00,82.73 L525.50,82.92 L526.00,82.93 L526.50,82.75 L527.00,82.50 L527.50,82.31 L528.00,82.26 L528.50,82.32 L529.00,82.36 L529.50,82.25 L530.00,81.95 L530.50,81.52 L531.00,81.10 L531.50,80.81 L532.00,80.66 L532.50,80.55 L533.00,80.35 L533.50,79.95 L534.00,79.40 L534.50,78.80 L535.00,78.31 L535.50,77.96 L536.00,77.70 L536.50,77.41 L537.00,76.95 L537.50,76.32 L538.00,75.60 L538.50,74.92 L539.00,74.40" fill="none" stroke="#16a571" stroke-width="1.35" stroke-linejoin="round"/>
<line x1="304.00" y1="73.30" x2="304.00" y2="100.80" stroke="#16a571" stroke-width="1.2"/>
<path d="M304.00,106.55 L304.50,106.46 L305.00,106.27 L305.50,106.09 L306.00,106.06 L306.50,106.19 L307.00,106.40 L307.50,106.54 L308.00,106.52 L308.50,106.35 L309.00,106.15 L309.50,106.05 L310.00,106.12 L310.50,106.32 L311.00,106.50 L311.50,106.55 L312.00,106.43 L312.50,106.22 L313.00,106.07 L313.50,106.07 L314.00,106.23 L314.50,106.44 L315.00,106.55 L315.50,106.49 L316.00,106.30 L316.50,106.11 L317.00,106.05 L317.50,106.16 L318.00,106.36 L318.50,106.52 L319.00,106.53 L319.50,106.38 L320.00,106.18 L320.50,106.06 L321.00,106.10 L321.50,106.28 L322.00,106.47 L322.50,106.55 L323.00,106.46 L323.50,106.26 L324.00,106.09 L324.50,106.06 L325.00,106.20 L325.50,106.40 L326.00,106.54 L326.50,106.58 L327.00,106.59 L327.50,106.68 L328.00,106.95 L328.50,107.45 L329.00,108.12 L329.50,108.79 L330.00,109.32 L330.50,109.68 L331.00,109.91 L331.50,110.20 L332.00,110.67 L332.50,111.32 L333.00,112.02 L333.50,112.65 L334.00,113.11 L334.50,113.46 L335.00,113.82 L335.50,114.31 L336.00,114.97 L336.50,115.72 L337.00,116.41 L337.50,116.93 L338.00,117.28 L338.50,117.56 L339.00,117.91 L339.50,118.40 L340.00,118.99 L340.50,119.58 L341.00,120.06 L341.50,120.38 L342.00,120.60 L342.50,120.87 L343.00,121.28 L343.50,121.85 L344.00,122.48 L344.50,123.03 L345.00,123.40 L345.50,123.62 L346.00,123.80 L346.50,124.07 L347.00,124.50 L347.50,125.01 L348.00,125.47 L348.50,125.76 L349.00,125.86 L349.50,125.84 L350.00,125.86 L350.50,125.99 L351.00,126.23 L351.50,126.45 L352.00,126.54 L352.50,126.44 L353.00,126.19 L353.50,125.94 L354.00,125.81 L354.50,125.83 L355.00,125.92 L355.50,125.94 L356.00,125.80 L356.50,125.49 L357.00,125.12 L357.50,124.84 L358.00,124.72 L358.50,124.72 L359.00,124.72 L359.50,124.59 L360.00,124.29 L360.50,123.89 L361.00,123.53 L361.50,123.32 L362.00,123.27 L362.50,123.29 L363.00,123.22 L363.50,123.00 L364.00,122.64 L364.50,122.28 L365.00,122.04 L365.50,121.98 L366.00,122.04 L366.50,122.07 L367.00,121.93 L367.50,121.63 L368.00,121.26 L368.50,120.98 L369.00,120.89 L369.50,120.99 L370.00,121.16 L370.50,121.38 L371.00,121.64 L371.50,121.93 L372.00,122.30 L372.50,122.81 L373.00,123.41 L373.50,123.96 L374.00,124.23 L374.50,124.21 L375.00,124.00 L375.50,123.73 L376.00,123.52 L376.50,123.46 L377.00,123.51 L377.50,123.53 L378.00,123.40 L378.50,123.08 L379.00,122.66 L379.50,122.26 L380.00,122.01 L380.50,121.90 L381.00,121.84 L381.50,121.68 L382.00,121.35 L382.50,120.87 L383.00,120.39 L383.50,120.02 L384.00,119.82 L384.50,119.73 L385.00,119.61 L385.50,119.34 L386.00,118.92 L386.50,118.44 L387.00,118.05 L387.50,117.83 L388.00,117.76 L388.50,117.74 L389.00,117.61 L389.50,117.34 L390.00,116.97 L390.50,116.63 L391.00,116.44 L391.50,116.41 L392.00,116.45 L392.50,116.44 L393.00,116.27 L393.50,115.95 L394.00,115.60 L394.50,115.35 L395.00,115.27 L395.50,115.31 L396.00,115.35 L396.50,115.25 L397.00,114.99 L397.50,114.64 L398.00,114.35 L398.50,114.21 L399.00,114.23 L399.50,114.29 L400.00,114.27 L400.50,114.08 L401.00,113.76 L401.50,113.44 L402.00,113.24 L402.50,113.22 L403.00,113.29 L403.50,113.33 L404.00,113.21 L404.50,112.94 L405.00,112.61 L405.50,112.37 L406.00,112.29 L406.50,112.34 L407.00,112.42 L407.50,112.38 L408.00,112.18 L408.50,111.86 L409.00,111.58 L409.50,111.44 L410.00,111.46 L410.50,111.56 L411.00,111.59 L411.50,111.45 L412.00,111.18 L412.50,110.87 L413.00,110.68 L413.50,110.65 L414.00,110.74 L414.50,110.82 L415.00,110.77 L415.50,110.55 L416.00,110.25 L416.50,110.00 L417.00,109.92 L417.50,109.99 L418.00,110.10 L418.50,110.11 L419.00,109.96 L419.50,109.69 L420.00,109.41 L420.50,109.27 L421.00,109.29 L421.50,109.40 L422.00,109.47 L422.50,109.39 L423.00,109.15 L423.50,108.85 L424.00,108.64 L424.50,108.60 L425.00,108.69 L425.50,108.79 L426.00,108.77 L426.50,108.58 L427.00,108.29 L427.50,108.03 L428.00,107.92 L428.50,107.97 L429.00,108.08 L429.50,108.12 L430.00,108.00 L430.50,107.74 L431.00,107.45 L431.50,107.28 L432.00,107.28 L432.50,107.39 L433.00,107.48 L433.50,107.43 L434.00,107.22 L434.50,106.94 L435.00,106.72 L435.50,106.65 L436.00,106.74 L436.50,106.87 L437.00,106.90 L437.50,106.76 L438.00,106.50 L438.50,106.25 L439.00,106.13 L439.50,106.18 L440.00,106.33 L440.50,106.42 L441.00,106.36 L441.50,106.15 L442.00,105.90 L442.50,105.73 L443.00,105.74 L443.50,105.88 L444.00,106.03 L444.50,106.06 L445.00,105.92 L445.50,105.69 L446.00,105.49 L446.50,105.45 L447.00,105.58 L447.50,105.76 L448.00,105.87 L448.50,105.82 L449.00,105.63 L449.50,105.43 L450.00,105.35 L450.50,105.53 L451.00,105.97 L451.50,106.54 L452.00,107.10 L452.50,107.61 L453.00,108.16 L453.50,108.85 L454.00,109.79 L454.50,111.52 L455.00,114.20 L455.50,117.19 L456.00,119.93 L456.50,121.98 L457.00,123.71 L457.50,125.55 L458.00,127.11 L458.50,127.88 L459.00,127.56 L459.50,126.39 L460.00,124.71 L460.50,122.99 L461.00,121.72 L461.50,121.31 L462.00,121.82 L462.50,122.84 L463.00,124.03 L463.50,125.16 L464.00,126.09 L464.50,126.75 L465.00,127.07 L465.50,127.06 L466.00,126.82 L466.50,126.29 L467.00,125.46 L467.50,124.42 L468.00,123.37 L468.50,122.50 L469.00,121.95 L469.50,121.71 L470.00,121.72 L470.50,121.78 L471.00,121.76 L471.50,121.72 L472.00,121.76 L472.50,121.97 L473.00,122.28 L473.50,122.55 L474.00,122.58 L474.50,122.15 L475.00,121.37 L475.50,120.49 L476.00,119.73 L476.50,119.22 L477.00,118.97 L477.50,118.93 L478.00,118.92 L478.50,118.76 L479.00,118.55 L479.50,118.45 L480.00,118.52 L480.50,118.71 L481.00,118.89 L481.50,118.95 L482.00,118.83 L482.50,118.63 L483.00,118.47 L483.50,118.59 L484.00,119.08 L484.50,119.62 L485.00,119.84 L485.50,119.58 L486.00,118.94 L486.50,118.14 L487.00,117.40 L487.50,116.83 L488.00,116.45 L488.50,116.21 L489.00,116.03 L489.50,115.71 L490.00,115.35 L490.50,115.08 L491.00,114.99 L491.50,115.06 L492.00,115.17 L492.50,115.19 L493.00,115.07 L493.50,114.95 L494.00,115.55 L494.50,116.60 L495.00,117.51 L495.50,117.75 L496.00,117.60 L496.50,117.08 L497.00,116.26 L497.50,115.31 L498.00,114.42 L498.50,113.69 L499.00,113.14 L499.50,112.69 L500.00,112.26 L500.50,111.72 L501.00,111.09 L501.50,110.52 L502.00,110.10 L502.50,109.85 L503.00,109.64 L503.50,109.36 L504.00,108.92 L504.50,108.37 L505.00,107.84 L505.50,107.47 L506.00,107.29 L506.50,107.24 L507.00,107.19 L507.50,107.01 L508.00,106.73 L508.50,106.43 L509.00,106.26 L509.50,106.31 L510.00,106.55 L510.50,106.84 L511.00,107.06 L511.50,107.15 L512.00,107.17 L512.50,107.26 L513.00,107.51 L513.50,107.95 L514.00,108.49 L514.50,108.96 L515.00,109.29 L515.50,109.48 L516.00,109.65 L516.50,109.94 L517.00,110.39 L517.50,110.95 L518.00,111.48 L518.50,111.87 L519.00,112.07 L519.50,112.17 L520.00,112.30 L520.50,112.57 L521.00,112.96 L521.50,113.35 L522.00,113.60 L522.50,113.65 L523.00,113.57 L523.50,113.49 L524.00,113.54 L524.50,113.74 L525.00,114.01 L525.50,114.21 L526.00,114.23 L526.50,114.06 L527.00,113.80 L527.50,113.59 L528.00,113.53 L528.50,113.56 L529.00,113.59 L529.50,113.46 L530.00,113.15 L530.50,112.71 L531.00,112.30 L531.50,112.02 L532.00,111.90 L532.50,111.82 L533.00,111.67 L533.50,111.35 L534.00,110.85 L534.50,110.27 L535.00,109.76 L535.50,109.37 L536.00,109.05 L536.50,108.67 L537.00,108.11 L537.50,107.36 L538.00,106.51 L538.50,105.70 L539.00,105.04" fill="none" stroke="#2b35f0" stroke-width="1.35" stroke-linejoin="round"/>
<line x1="304.00" y1="100.80" x2="304.00" y2="130.80" stroke="#2b35f0" stroke-width="1.2"/>
<path d="M304.00,137.65 L304.50,137.56 L305.00,137.37 L305.50,137.19 L306.00,137.16 L306.50,137.29 L307.00,137.50 L307.50,137.64 L308.00,137.62 L308.50,137.45 L309.00,137.25 L309.50,137.15 L310.00,137.22 L310.50,137.42 L311.00,137.60 L311.50,137.65 L312.00,137.53 L312.50,137.32 L313.00,137.17 L313.50,137.17 L314.00,137.33 L314.50,137.54 L315.00,137.65 L315.50,137.59 L316.00,137.40 L316.50,137.21 L317.00,137.15 L317.50,137.26 L318.00,137.46 L318.50,137.62 L319.00,137.63 L319.50,137.48 L320.00,137.28 L320.50,137.16 L321.00,137.20 L321.50,137.38 L322.00,137.57 L322.50,137.65 L323.00,137.56 L323.50,137.36 L324.00,137.19 L324.50,137.16 L325.00,137.30 L325.50,137.50 L326.00,137.64 L326.50,137.68 L327.00,137.68 L327.50,137.76 L328.00,138.02 L328.50,138.51 L329.00,139.16 L329.50,139.82 L330.00,140.34 L330.50,140.68 L331.00,140.91 L331.50,141.19 L332.00,141.66 L332.50,142.30 L333.00,142.99 L333.50,143.61 L334.00,144.07 L334.50,144.41 L335.00,144.77 L335.50,145.26 L336.00,145.91 L336.50,146.66 L337.00,147.35 L337.50,147.88 L338.00,148.23 L338.50,148.52 L339.00,148.88 L339.50,149.38 L340.00,149.99 L340.50,150.60 L341.00,151.10 L341.50,151.45 L342.00,151.70 L342.50,152.00 L343.00,152.44 L343.50,153.05 L344.00,153.71 L344.50,154.29 L345.00,154.70 L345.50,154.95 L346.00,155.17 L346.50,155.48 L347.00,155.93 L347.50,156.47 L348.00,156.97 L348.50,157.28 L349.00,157.40 L349.50,157.41 L350.00,157.44 L350.50,157.58 L351.00,157.82 L351.50,158.05 L352.00,158.14 L352.50,158.03 L353.00,157.78 L353.50,157.52 L354.00,157.37 L354.50,157.37 L355.00,157.44 L355.50,157.44 L356.00,157.27 L356.50,156.94 L357.00,156.55 L357.50,156.24 L358.00,156.09 L358.50,156.06 L359.00,156.03 L359.50,155.87 L360.00,155.54 L360.50,155.11 L361.00,154.72 L361.50,154.49 L362.00,154.41 L362.50,154.40 L363.00,154.31 L363.50,154.07 L364.00,153.69 L364.50,153.31 L365.00,153.06 L365.50,152.99 L366.00,153.04 L366.50,153.06 L367.00,152.93 L367.50,152.62 L368.00,152.26 L368.50,151.98 L369.00,151.89 L369.50,151.99 L370.00,152.16 L370.50,152.38 L371.00,152.64 L371.50,152.93 L372.00,153.30 L372.50,153.81 L373.00,154.41 L373.50,154.96 L374.00,155.23 L374.50,155.21 L375.00,155.00 L375.50,154.73 L376.00,154.53 L376.50,154.47 L377.00,154.51 L377.50,154.54 L378.00,154.41 L378.50,154.10 L379.00,153.68 L379.50,153.29 L380.00,153.04 L380.50,152.93 L381.00,152.87 L381.50,152.71 L382.00,152.38 L382.50,151.91 L383.00,151.43 L383.50,151.06 L384.00,150.87 L384.50,150.77 L385.00,150.65 L385.50,150.38 L386.00,149.96 L386.50,149.48 L387.00,149.08 L387.50,148.86 L388.00,148.79 L388.50,148.76 L389.00,148.63 L389.50,148.35 L390.00,147.97 L390.50,147.62 L391.00,147.42 L391.50,147.38 L392.00,147.41 L392.50,147.39 L393.00,147.20 L393.50,146.87 L394.00,146.50 L394.50,146.24 L395.00,146.14 L395.50,146.17 L396.00,146.19 L396.50,146.08 L397.00,145.80 L397.50,145.44 L398.00,145.12 L398.50,144.97 L399.00,144.97 L399.50,145.02 L400.00,144.97 L400.50,144.77 L401.00,144.43 L401.50,144.09 L402.00,143.87 L402.50,143.83 L403.00,143.88 L403.50,143.90 L404.00,143.77 L404.50,143.48 L405.00,143.14 L405.50,142.87 L406.00,142.77 L406.50,142.81 L407.00,142.88 L407.50,142.82 L408.00,142.60 L408.50,142.27 L409.00,141.97 L409.50,141.82 L410.00,141.83 L410.50,141.91 L411.00,141.93 L411.50,141.79 L412.00,141.50 L412.50,141.19 L413.00,140.98 L413.50,140.95 L414.00,141.03 L414.50,141.11 L415.00,141.05 L415.50,140.83 L416.00,140.52 L416.50,140.28 L417.00,140.19 L417.50,140.26 L418.00,140.37 L418.50,140.39 L419.00,140.25 L419.50,139.98 L420.00,139.71 L420.50,139.57 L421.00,139.61 L421.50,139.73 L422.00,139.81 L422.50,139.74 L423.00,139.51 L423.50,139.22 L424.00,139.02 L424.50,138.99 L425.00,139.10 L425.50,139.21 L426.00,139.21 L426.50,139.03 L427.00,138.75 L427.50,138.51 L428.00,138.41 L428.50,138.48 L429.00,138.61 L429.50,138.66 L430.00,138.56 L430.50,138.31 L431.00,138.04 L431.50,137.88 L432.00,137.90 L432.50,138.02 L433.00,138.13 L433.50,138.10 L434.00,137.91 L434.50,137.64 L435.00,137.43 L435.50,137.38 L436.00,137.49 L436.50,137.63 L437.00,137.67 L437.50,137.55 L438.00,137.30 L438.50,137.06 L439.00,136.96 L439.50,137.03 L440.00,137.18 L440.50,137.29 L441.00,137.24 L441.50,137.05 L442.00,136.80 L442.50,136.65 L443.00,136.67 L443.50,136.82 L444.00,136.98 L444.50,137.01 L445.00,136.88 L445.50,136.65 L446.00,136.47 L446.50,136.43 L447.00,136.56 L447.50,136.75 L448.00,136.87 L448.50,136.82 L449.00,136.63 L449.50,136.43 L450.00,136.35 L450.50,136.56 L451.00,137.10 L451.50,137.81 L452.00,138.53 L452.50,139.21 L453.00,139.90 L453.50,141.30 L454.00,143.75 L454.50,146.78 L455.00,149.81 L455.50,152.25 L456.00,154.30 L456.50,156.25 L457.00,157.73 L457.50,158.36 L458.00,158.24 L458.50,157.83 L459.00,157.14 L459.50,156.22 L460.00,155.22 L460.50,154.40 L461.00,154.05 L461.50,154.28 L462.00,154.89 L462.50,155.69 L463.00,156.45 L463.50,157.04 L464.00,157.44 L464.50,157.71 L465.00,157.87 L465.50,157.85 L466.00,157.61 L466.50,157.07 L467.00,156.22 L467.50,155.17 L468.00,154.10 L468.50,153.22 L469.00,152.66 L469.50,152.41 L470.00,152.42 L470.50,152.53 L471.00,152.64 L471.50,152.78 L472.00,153.02 L472.50,153.42 L473.00,153.88 L473.50,154.25 L474.00,154.27 L474.50,153.73 L475.00,152.80 L475.50,151.73 L476.00,150.78 L476.50,150.09 L477.00,149.71 L477.50,149.63 L478.00,149.62 L478.50,149.46 L479.00,149.25 L479.50,149.15 L480.00,149.22 L480.50,149.41 L481.00,149.59 L481.50,149.65 L482.00,149.53 L482.50,149.33 L483.00,149.17 L483.50,149.30 L484.00,149.83 L484.50,150.41 L485.00,150.64 L485.50,150.22 L486.00,149.27 L486.50,148.08 L487.00,146.91 L487.50,145.98 L488.00,145.35 L488.50,145.06 L489.00,145.03 L489.50,144.89 L490.00,144.69 L490.50,144.56 L491.00,144.59 L491.50,144.77 L492.00,144.97 L492.50,145.05 L493.00,144.96 L493.50,144.82 L494.00,145.14 L494.50,145.81 L495.00,146.44 L495.50,146.64 L496.00,146.48 L496.50,145.93 L497.00,145.08 L497.50,144.10 L498.00,143.18 L498.50,142.45 L499.00,141.93 L499.50,141.52 L500.00,141.18 L500.50,140.75 L501.00,140.24 L501.50,139.79 L502.00,139.50 L502.50,139.38 L503.00,139.31 L503.50,139.16 L504.00,138.86 L504.50,138.44 L505.00,138.04 L505.50,137.78 L506.00,137.72 L506.50,137.77 L507.00,137.80 L507.50,137.70 L508.00,137.47 L508.50,137.21 L509.00,137.06 L509.50,137.11 L510.00,137.34 L510.50,137.62 L511.00,137.82 L511.50,137.88 L512.00,137.88 L512.50,137.93 L513.00,138.15 L513.50,138.55 L514.00,139.05 L514.50,139.48 L515.00,139.77 L515.50,139.92 L516.00,140.06 L516.50,140.31 L517.00,140.73 L517.50,141.27 L518.00,141.78 L518.50,142.15 L519.00,142.34 L519.50,142.43 L520.00,142.57 L520.50,142.86 L521.00,143.26 L521.50,143.69 L522.00,143.98 L522.50,144.08 L523.00,144.07 L523.50,144.06 L524.00,144.18 L524.50,144.44 L525.00,144.76 L525.50,145.00 L526.00,145.03 L526.50,144.86 L527.00,144.59 L527.50,144.39 L528.00,144.32 L528.50,144.35 L529.00,144.37 L529.50,144.24 L530.00,143.92 L530.50,143.49 L531.00,143.07 L531.50,142.80 L532.00,142.67 L532.50,142.61 L533.00,142.46 L533.50,142.15 L534.00,141.67 L534.50,141.13 L535.00,140.67 L535.50,140.34 L536.00,140.09 L536.50,139.79 L537.00,139.32 L537.50,138.66 L538.00,137.91 L538.50,137.21 L539.00,136.65" fill="none" stroke="#f42a2a" stroke-width="1.35" stroke-linejoin="round"/>
<line x1="304.00" y1="130.80" x2="304.00" y2="163.50" stroke="#f42a2a" stroke-width="1.2"/>
<path d="M304.00,171.25 L304.50,171.16 L305.00,170.97 L305.50,170.79 L306.00,170.76 L306.50,170.89 L307.00,171.10 L307.50,171.24 L308.00,171.22 L308.50,171.05 L309.00,170.85 L309.50,170.75 L310.00,170.82 L310.50,171.02 L311.00,171.20 L311.50,171.25 L312.00,171.13 L312.50,170.92 L313.00,170.77 L313.50,170.77 L314.00,170.93 L314.50,171.14 L315.00,171.25 L315.50,171.19 L316.00,171.00 L316.50,170.81 L317.00,170.75 L317.50,170.86 L318.00,171.06 L318.50,171.22 L319.00,171.23 L319.50,171.08 L320.00,170.88 L320.50,170.76 L321.00,170.80 L321.50,170.98 L322.00,171.17 L322.50,171.25 L323.00,171.16 L323.50,170.96 L324.00,170.79 L324.50,170.76 L325.00,170.90 L325.50,171.10 L326.00,171.24 L326.50,171.27 L327.00,171.25 L327.50,171.28 L328.00,171.48 L328.50,171.91 L329.00,172.49 L329.50,173.06 L330.00,173.50 L330.50,173.76 L331.00,173.91 L331.50,174.11 L332.00,174.47 L332.50,174.99 L333.00,175.57 L333.50,176.05 L334.00,176.37 L334.50,176.57 L335.00,176.78 L335.50,177.13 L336.00,177.64 L336.50,178.25 L337.00,178.81 L337.50,179.23 L338.00,179.48 L338.50,179.68 L339.00,179.96 L339.50,180.41 L340.00,180.99 L340.50,181.57 L341.00,182.04 L341.50,182.33 L342.00,182.53 L342.50,182.76 L343.00,183.14 L343.50,183.68 L344.00,184.28 L344.50,184.81 L345.00,185.16 L345.50,185.38 L346.00,185.57 L346.50,185.87 L347.00,186.34 L347.50,186.94 L348.00,187.58 L348.50,188.10 L349.00,188.45 L349.50,188.70 L350.00,188.96 L350.50,189.30 L351.00,189.67 L351.50,189.95 L352.00,189.97 L352.50,189.67 L353.00,189.14 L353.50,188.54 L354.00,188.03 L354.50,187.65 L355.00,187.38 L355.50,187.10 L356.00,186.73 L356.50,186.25 L357.00,185.73 L357.50,185.31 L358.00,185.06 L358.50,184.94 L359.00,184.83 L359.50,184.60 L360.00,184.20 L360.50,183.71 L361.00,183.27 L361.50,182.98 L362.00,182.86 L362.50,182.80 L363.00,182.67 L363.50,182.37 L364.00,181.95 L364.50,181.51 L365.00,181.20 L365.50,181.06 L366.00,181.04 L366.50,180.98 L367.00,180.76 L367.50,180.37 L368.00,179.93 L368.50,179.58 L369.00,179.44 L369.50,179.50 L370.00,179.66 L370.50,179.86 L371.00,180.06 L371.50,180.27 L372.00,180.55 L372.50,180.96 L373.00,181.49 L373.50,181.98 L374.00,182.23 L374.50,182.21 L375.00,182.01 L375.50,181.74 L376.00,181.55 L376.50,181.50 L377.00,181.56 L377.50,181.60 L378.00,181.50 L378.50,181.21 L379.00,180.81 L379.50,180.44 L380.00,180.22 L380.50,180.15 L381.00,180.12 L381.50,179.99 L382.00,179.70 L382.50,179.26 L383.00,178.81 L383.50,178.49 L384.00,178.33 L384.50,178.28 L385.00,178.20 L385.50,177.97 L386.00,177.59 L386.50,177.16 L387.00,176.81 L387.50,176.63 L388.00,176.61 L388.50,176.62 L389.00,176.54 L389.50,176.30 L390.00,175.97 L390.50,175.67 L391.00,175.51 L391.50,175.51 L392.00,175.60 L392.50,175.61 L393.00,175.47 L393.50,175.18 L394.00,174.86 L394.50,174.64 L395.00,174.58 L395.50,174.65 L396.00,174.72 L396.50,174.65 L397.00,174.41 L397.50,174.09 L398.00,173.82 L398.50,173.70 L399.00,173.74 L399.50,173.83 L400.00,173.83 L400.50,173.67 L401.00,173.37 L401.50,173.07 L402.00,172.90 L402.50,172.89 L403.00,172.99 L403.50,173.05 L404.00,172.96 L404.50,172.72 L405.00,172.41 L405.50,172.19 L406.00,172.13 L406.50,172.22 L407.00,172.32 L407.50,172.32 L408.00,172.14 L408.50,171.86 L409.00,171.60 L409.50,171.49 L410.00,171.55 L410.50,171.68 L411.00,171.75 L411.50,171.65 L412.00,171.41 L412.50,171.15 L413.00,170.99 L413.50,171.01 L414.00,171.15 L414.50,171.28 L415.00,171.27 L415.50,171.10 L416.00,170.85 L416.50,170.66 L417.00,170.63 L417.50,170.76 L418.00,170.93 L418.50,171.01 L419.00,170.92 L419.50,170.71 L420.00,170.51 L420.50,170.44 L421.00,170.53 L421.50,170.72 L422.00,170.87 L422.50,170.86 L423.00,170.69 L423.50,170.47 L424.00,170.34 L424.50,170.37 L425.00,170.54 L425.50,170.72 L426.00,170.78 L426.50,170.67 L427.00,170.46 L427.50,170.28 L428.00,170.24 L428.50,170.37 L429.00,170.57 L429.50,170.69 L430.00,170.64 L430.50,170.46 L431.00,170.25 L431.50,170.15 L432.00,170.23 L432.50,170.41 L433.00,170.58 L433.50,170.61 L434.00,170.47 L434.50,170.25 L435.00,170.10 L435.50,170.11 L436.00,170.27 L436.50,170.46 L437.00,170.55 L437.50,170.48 L438.00,170.28 L438.50,170.09 L439.00,170.03 L439.50,170.14 L440.00,170.34 L440.50,170.48 L441.00,170.48 L441.50,170.32 L442.00,170.11 L442.50,169.99 L443.00,170.04 L443.50,170.22 L444.00,170.41 L444.50,170.47 L445.00,170.36 L445.50,170.16 L446.00,169.99 L446.50,169.97 L447.00,170.12 L447.50,170.32 L448.00,170.45 L448.50,170.41 L449.00,170.23 L449.50,170.03 L450.00,169.95 L450.50,170.14 L451.00,170.64 L451.50,171.27 L452.00,171.90 L452.50,172.49 L453.00,173.10 L453.50,173.84 L454.00,174.79 L454.50,176.24 L455.00,178.24 L455.50,180.40 L456.00,182.39 L456.50,183.98 L457.00,185.56 L457.50,187.34 L458.00,188.90 L458.50,189.68 L459.00,189.48 L459.50,188.57 L460.00,187.18 L460.50,185.64 L461.00,184.30 L461.50,183.46 L462.00,183.30 L462.50,183.87 L463.00,184.87 L463.50,185.99 L464.00,187.01 L464.50,187.80 L465.00,188.17 L465.50,188.06 L466.00,187.58 L466.50,186.68 L467.00,185.40 L467.50,183.87 L468.00,182.33 L468.50,181.02 L469.00,180.09 L469.50,179.60 L470.00,179.52 L470.50,179.58 L471.00,179.56 L471.50,179.52 L472.00,179.56 L472.50,179.77 L473.00,180.08 L473.50,180.35 L474.00,180.39 L474.50,179.98 L475.00,179.25 L475.50,178.42 L476.00,177.69 L476.50,177.18 L477.00,176.87 L477.50,176.73 L478.00,176.58 L478.50,176.28 L479.00,175.96 L479.50,175.75 L480.00,175.72 L480.50,175.82 L481.00,175.94 L481.50,175.93 L482.00,175.77 L482.50,175.54 L483.00,175.37 L483.50,175.49 L484.00,175.98 L484.50,176.52 L485.00,176.74 L485.50,176.51 L486.00,175.94 L486.50,175.25 L487.00,174.63 L487.50,174.21 L488.00,174.00 L488.50,173.94 L489.00,173.95 L489.50,173.90 L490.00,173.84 L490.50,173.92 L491.00,174.19 L491.50,174.62 L492.00,175.07 L492.50,175.39 L493.00,175.50 L493.50,175.46 L494.00,175.37 L494.50,175.35 L495.00,175.40 L495.50,175.45 L496.00,175.36 L496.50,175.06 L497.00,174.58 L497.50,174.05 L498.00,173.62 L498.50,173.37 L499.00,173.26 L499.50,173.17 L500.00,173.01 L500.50,172.69 L501.00,172.27 L501.50,171.91 L502.00,171.71 L502.50,171.66 L503.00,171.66 L503.50,171.58 L504.00,171.34 L504.50,170.98 L505.00,170.65 L505.50,170.47 L506.00,170.47 L506.50,170.61 L507.00,170.73 L507.50,170.73 L508.00,170.60 L508.50,170.42 L509.00,170.33 L509.50,170.43 L510.00,170.67 L510.50,170.93 L511.00,171.09 L511.50,171.08 L512.00,170.98 L512.50,170.91 L513.00,171.00 L513.50,171.26 L514.00,171.59 L514.50,171.85 L515.00,171.95 L515.50,171.92 L516.00,171.86 L516.50,171.91 L517.00,172.13 L517.50,172.47 L518.00,172.79 L518.50,172.97 L519.00,172.99 L519.50,172.92 L520.00,172.91 L520.50,173.06 L521.00,173.35 L521.50,173.68 L522.00,173.90 L522.50,173.96 L523.00,173.91 L523.50,173.88 L524.00,173.98 L524.50,174.24 L525.00,174.56 L525.50,174.80 L526.00,174.83 L526.50,174.67 L527.00,174.46 L527.50,174.32 L528.00,174.34 L528.50,174.49 L529.00,174.64 L529.50,174.65 L530.00,174.48 L530.50,174.20 L531.00,173.95 L531.50,173.83 L532.00,173.86 L532.50,173.94 L533.00,173.93 L533.50,173.74 L534.00,173.39 L534.50,173.01 L535.00,172.73 L535.50,172.61 L536.00,172.57 L536.50,172.50 L537.00,172.27 L537.50,171.85 L538.00,171.35 L538.50,170.89 L539.00,170.57" fill="none" stroke="#2a2a2a" stroke-width="1.35" stroke-linejoin="round"/>
<line x1="304.00" y1="163.50" x2="304.00" y2="193.80" stroke="#2a2a2a" stroke-width="1.2"/>
<text x="305.50" y="12.63" font-size="6.3" font-weight="bold" text-anchor="start" fill="#000">Ultrasound-60 <tspan font-weight="normal" dx="0.1em">°</tspan><tspan dx="-0.22em">C</tspan></text>
<text x="352.60" y="28.26" font-size="7.0" font-weight="bold" text-anchor="middle" fill="#000">3274.7</text>
<text x="377.60" y="37.46" font-size="7.0" font-weight="bold" text-anchor="middle" fill="#000">2928.5</text>
<text x="452.80" y="39.76" font-size="7.0" font-weight="bold" text-anchor="middle" fill="#000">1631.1</text>
<text x="474.20" y="40.96" font-size="7.0" font-weight="bold" text-anchor="middle" fill="#000">1528.5</text>
<text x="500.20" y="34.96" font-size="7.0" font-weight="bold" text-anchor="middle" fill="#000">1235.6</text>
<text x="305.50" y="42.73" font-size="6.3" font-weight="bold" text-anchor="start" fill="#000">Ultrasound-50 <tspan font-weight="normal" dx="0.1em">°</tspan><tspan dx="-0.22em">C</tspan></text>
<text x="355.00" y="72.96" font-size="7.0" font-weight="bold" text-anchor="middle" fill="#000">3278.1</text>
<text x="377.60" y="69.26" font-size="7.0" font-weight="bold" text-anchor="middle" fill="#000">2927.2</text>
<text x="452.80" y="72.36" font-size="7.0" font-weight="bold" text-anchor="middle" fill="#000">1632.4</text>
<text x="474.20" y="73.56" font-size="7.0" font-weight="bold" text-anchor="middle" fill="#000">1531.0</text>
<text x="500.20" y="61.46" font-size="7.0" font-weight="bold" text-anchor="middle" fill="#000">1235.2</text>
<text x="305.50" y="76.33" font-size="6.3" font-weight="bold" text-anchor="start" fill="#000">60 <tspan font-weight="normal" dx="0.1em">°</tspan><tspan dx="-0.22em">C</tspan></text>
<text x="354.50" y="104.16" font-size="7.0" font-weight="bold" text-anchor="middle" fill="#000">3278.7</text>
<text x="377.90" y="100.76" font-size="7.0" font-weight="bold" text-anchor="middle" fill="#000">2932.9</text>
<text x="452.80" y="101.26" font-size="7.0" font-weight="bold" text-anchor="middle" fill="#000">1633.0</text>
<text x="474.20" y="101.26" font-size="7.0" font-weight="bold" text-anchor="middle" fill="#000">1536.1</text>
<text x="500.20" y="98.86" font-size="7.0" font-weight="bold" text-anchor="middle" fill="#000">1240.0</text>
<text x="305.50" y="103.93" font-size="6.3" font-weight="bold" text-anchor="start" fill="#000">50 <tspan font-weight="normal" dx="0.1em">°</tspan><tspan dx="-0.22em">C</tspan></text>
<text x="354.50" y="133.96" font-size="7.0" font-weight="bold" text-anchor="middle" fill="#000">3279.5</text>
<text x="378.00" y="131.86" font-size="7.0" font-weight="bold" text-anchor="middle" fill="#000">2925.9</text>
<text x="452.80" y="133.96" font-size="7.0" font-weight="bold" text-anchor="middle" fill="#000">1632.9</text>
<text x="474.20" y="133.96" font-size="7.0" font-weight="bold" text-anchor="middle" fill="#000">1531.2</text>
<text x="500.70" y="124.66" font-size="7.0" font-weight="bold" text-anchor="middle" fill="#000">1237.2</text>
<text x="305.50" y="135.03" font-size="6.3" font-weight="bold" text-anchor="start" fill="#000">Ultrasound</text>
<text x="354.50" y="165.56" font-size="7.0" font-weight="bold" text-anchor="middle" fill="#000">3279.5</text>
<text x="378.00" y="162.86" font-size="7.0" font-weight="bold" text-anchor="middle" fill="#000">2928.3</text>
<text x="452.80" y="165.46" font-size="7.0" font-weight="bold" text-anchor="middle" fill="#000">1633.9</text>
<text x="474.20" y="165.46" font-size="7.0" font-weight="bold" text-anchor="middle" fill="#000">1536.8</text>
<text x="500.70" y="154.86" font-size="7.0" font-weight="bold" text-anchor="middle" fill="#000">1239.7</text>
<text x="305.50" y="168.93" font-size="6.3" font-weight="bold" text-anchor="start" fill="#000">Control</text>
<text x="356.50" y="196.86" font-size="7.0" font-weight="bold" text-anchor="middle" fill="#000">3279.6</text>
<text x="378.00" y="190.26" font-size="7.0" font-weight="bold" text-anchor="middle" fill="#000">2929.0</text>
<text x="453.40" y="196.36" font-size="7.0" font-weight="bold" text-anchor="middle" fill="#000">1633.9</text>
<text x="474.20" y="194.56" font-size="7.0" font-weight="bold" text-anchor="middle" fill="#000">1536.6</text>
<text x="500.70" y="183.16" font-size="7.0" font-weight="bold" text-anchor="middle" fill="#000">1240.3</text>
<text x="367.60" y="204.13" font-size="6.6" font-weight="bold" text-anchor="middle" fill="#000">Amide A&#160;&#160;Amide B</text>
<text x="480.60" y="203.83" font-size="6.6" font-weight="bold" text-anchor="middle" fill="#000">Amide I&#160;Amide II&#160;&#160;Amide III</text>
<rect x="40.8" y="232.5" width="230.50" height="193.30" fill="none" stroke="#2e2e2e" stroke-width="1"/>
<line x1="40.80" y1="425.50" x2="43.80" y2="425.50" stroke="#2e2e2e" stroke-width="0.9"/>
<text x="37.30" y="429.13" font-size="8.4" font-weight="normal" text-anchor="end" fill="#222">0.0</text>
<line x1="40.80" y1="386.90" x2="43.80" y2="386.90" stroke="#2e2e2e" stroke-width="0.9"/>
<text x="37.30" y="390.53" font-size="8.4" font-weight="normal" text-anchor="end" fill="#222">0.3</text>
<line x1="40.80" y1="348.30" x2="43.80" y2="348.30" stroke="#2e2e2e" stroke-width="0.9"/>
<text x="37.30" y="351.93" font-size="8.4" font-weight="normal" text-anchor="end" fill="#222">0.6</text>
<line x1="40.80" y1="309.70" x2="43.80" y2="309.70" stroke="#2e2e2e" stroke-width="0.9"/>
<text x="37.30" y="313.33" font-size="8.4" font-weight="normal" text-anchor="end" fill="#222">0.9</text>
<line x1="40.80" y1="271.10" x2="43.80" y2="271.10" stroke="#2e2e2e" stroke-width="0.9"/>
<text x="37.30" y="274.73" font-size="8.4" font-weight="normal" text-anchor="end" fill="#222">1.2</text>
<line x1="40.80" y1="232.50" x2="43.80" y2="232.50" stroke="#2e2e2e" stroke-width="0.9"/>
<text x="37.30" y="236.13" font-size="8.4" font-weight="normal" text-anchor="end" fill="#222">1.5</text>
<line x1="40.80" y1="406.20" x2="42.80" y2="406.20" stroke="#2e2e2e" stroke-width="0.9"/>
<line x1="40.80" y1="367.60" x2="42.80" y2="367.60" stroke="#2e2e2e" stroke-width="0.9"/>
<line x1="40.80" y1="329.00" x2="42.80" y2="329.00" stroke="#2e2e2e" stroke-width="0.9"/>
<line x1="40.80" y1="290.40" x2="42.80" y2="290.40" stroke="#2e2e2e" stroke-width="0.9"/>
<line x1="40.80" y1="251.80" x2="42.80" y2="251.80" stroke="#2e2e2e" stroke-width="0.9"/>
<line x1="57.23" y1="425.80" x2="57.23" y2="428.80" stroke="#2e2e2e" stroke-width="0.9"/>
<text x="57.23" y="439.23" font-size="8.4" font-weight="normal" text-anchor="middle" fill="#222">240</text>
<line x1="81.88" y1="425.80" x2="81.88" y2="428.80" stroke="#2e2e2e" stroke-width="0.9"/>
<text x="81.88" y="439.23" font-size="8.4" font-weight="normal" text-anchor="middle" fill="#222">270</text>
<line x1="106.54" y1="425.80" x2="106.54" y2="428.80" stroke="#2e2e2e" stroke-width="0.9"/>
<text x="106.54" y="439.23" font-size="8.4" font-weight="normal" text-anchor="middle" fill="#222">300</text>
<line x1="131.19" y1="425.80" x2="131.19" y2="428.80" stroke="#2e2e2e" stroke-width="0.9"/>
<text x="131.19" y="439.23" font-size="8.4" font-weight="normal" text-anchor="middle" fill="#222">330</text>
<line x1="155.84" y1="425.80" x2="155.84" y2="428.80" stroke="#2e2e2e" stroke-width="0.9"/>
<text x="155.84" y="439.23" font-size="8.4" font-weight="normal" text-anchor="middle" fill="#222">360</text>
<line x1="180.49" y1="425.80" x2="180.49" y2="428.80" stroke="#2e2e2e" stroke-width="0.9"/>
<text x="180.49" y="439.23" font-size="8.4" font-weight="normal" text-anchor="middle" fill="#222">390</text>
<line x1="205.14" y1="425.80" x2="205.14" y2="428.80" stroke="#2e2e2e" stroke-width="0.9"/>
<text x="205.14" y="439.23" font-size="8.4" font-weight="normal" text-anchor="middle" fill="#222">420</text>
<line x1="229.79" y1="425.80" x2="229.79" y2="428.80" stroke="#2e2e2e" stroke-width="0.9"/>
<text x="229.79" y="439.23" font-size="8.4" font-weight="normal" text-anchor="middle" fill="#222">450</text>
<line x1="254.44" y1="425.80" x2="254.44" y2="428.80" stroke="#2e2e2e" stroke-width="0.9"/>
<text x="254.44" y="439.23" font-size="8.4" font-weight="normal" text-anchor="middle" fill="#222">480</text>
<line x1="44.91" y1="425.80" x2="44.91" y2="427.80" stroke="#2e2e2e" stroke-width="0.9"/>
<line x1="69.56" y1="425.80" x2="69.56" y2="427.80" stroke="#2e2e2e" stroke-width="0.9"/>
<line x1="94.21" y1="425.80" x2="94.21" y2="427.80" stroke="#2e2e2e" stroke-width="0.9"/>
<line x1="118.86" y1="425.80" x2="118.86" y2="427.80" stroke="#2e2e2e" stroke-width="0.9"/>
<line x1="143.51" y1="425.80" x2="143.51" y2="427.80" stroke="#2e2e2e" stroke-width="0.9"/>
<line x1="168.16" y1="425.80" x2="168.16" y2="427.80" stroke="#2e2e2e" stroke-width="0.9"/>
<line x1="192.81" y1="425.80" x2="192.81" y2="427.80" stroke="#2e2e2e" stroke-width="0.9"/>
<line x1="217.47" y1="425.80" x2="217.47" y2="427.80" stroke="#2e2e2e" stroke-width="0.9"/>
<line x1="242.12" y1="425.80" x2="242.12" y2="427.80" stroke="#2e2e2e" stroke-width="0.9"/>
<line x1="266.77" y1="425.80" x2="266.77" y2="427.80" stroke="#2e2e2e" stroke-width="0.9"/>
<text x="159.80" y="450.38" font-size="10.0" font-weight="bold" text-anchor="middle" fill="#000">Wavelength (nm)</text>
<text x="20.20" y="329.54" font-size="9.9" font-weight="bold" text-anchor="middle" fill="#000" transform="rotate(-90 20.20 326.20)">Absorbance</text>
<text x="12.00" y="223.09" font-size="14.5" font-weight="normal" text-anchor="middle" fill="#000">(c)</text>
<clipPath id="cc"><rect x="40.8" y="232.5" width="230.5" height="193.3"/></clipPath>
<g clip-path="url(#cc)">
<path d="M41.30,232.50 L41.71,235.92 L42.12,239.38 L42.53,242.88 L42.94,246.40 L43.35,249.96 L43.76,253.56 L44.17,257.19 L44.58,260.85 L44.99,264.54 L45.40,268.26 L45.81,271.99 L46.22,275.50 L46.63,278.93 L47.04,282.52 L47.45,286.66 L47.86,293.12 L48.27,302.17 L48.68,307.79 L49.09,312.59 L49.50,317.30 L49.91,322.25 L50.32,327.15 L50.73,331.94 L51.14,336.59 L51.55,341.33 L51.96,345.88 L52.37,349.95 L52.78,353.61 L53.19,357.62 L53.60,361.61 L54.01,365.08 L54.42,367.91 L54.83,370.20 L55.24,372.06 L55.65,373.57 L56.06,374.83 L56.47,375.86 L56.88,376.56 L57.29,377.11 L57.70,377.58 L58.11,378.01 L58.52,378.39 L58.93,378.74 L59.34,379.07 L59.75,379.37 L60.16,379.65 L60.57,379.91 L60.98,380.14 L61.39,380.36 L61.80,380.55 L62.21,380.71 L62.62,380.85 L63.03,380.97 L63.44,381.05 L63.85,381.09 L64.26,381.10 L64.67,381.08 L65.08,381.06 L65.49,381.02 L65.90,380.97 L66.31,380.91 L66.72,380.85 L67.13,380.79 L67.54,380.72 L67.95,380.65 L68.36,380.57 L68.77,380.50 L69.18,380.43 L69.59,380.36 L70.00,380.29 L70.41,380.22 L70.82,380.16 L71.23,380.11 L71.64,380.07 L72.05,380.03 L72.46,380.01 L72.87,380.00 L73.28,380.01 L73.69,380.06 L74.10,380.14 L74.51,380.25 L74.92,380.38 L75.33,380.55 L75.74,380.74 L76.15,380.96 L76.56,381.20 L76.97,381.47 L77.38,381.76 L77.79,382.06 L78.20,382.39 L78.61,382.73 L79.02,383.08 L79.43,383.44 L79.84,383.80 L80.25,384.18 L80.66,384.55 L81.07,384.93 L81.48,385.30 L81.89,385.67 L82.30,386.03 L82.71,386.38 L83.12,386.72 L83.53,387.04 L83.94,387.35 L84.35,387.63 L84.76,387.91 L85.17,388.18 L85.58,388.44 L85.99,388.70 L86.40,388.96 L86.81,389.21 L87.22,389.47 L87.63,389.72 L88.04,389.97 L88.45,390.23 L88.86,390.49 L89.27,390.75 L89.68,391.01 L90.09,391.28 L90.50,391.56 L90.91,391.84 L91.32,392.14 L91.73,392.44 L92.14,392.75 L92.55,393.08 L92.96,393.42 L93.37,393.79 L93.78,394.18 L94.19,394.60 L94.60,395.07 L95.01,395.58 L95.42,396.12 L95.83,396.71 L96.24,397.34 L96.65,398.00 L97.06,398.69 L97.47,399.40 L97.88,400.12 L98.29,400.85 L98.70,401.57 L99.11,402.27 L99.52,402.96 L99.93,403.61 L100.34,404.22 L100.75,404.80 L101.16,405.33 L101.57,405.82 L101.98,406.27 L102.39,406.68 L102.80,407.04 L103.21,407.36 L103.62,407.67 L104.03,407.96 L104.44,408.24 L104.85,408.51 L105.26,408.76 L105.67,409.01 L106.08,409.24 L106.49,409.47 L106.90,409.69 L107.31,409.90 L107.72,410.10 L108.13,410.30 L108.54,410.48 L108.95,410.66 L109.36,410.83 L109.77,410.99 L110.18,411.15 L110.59,411.29 L111.00,411.43 L111.41,411.55 L111.82,411.67 L112.23,411.78 L112.64,411.88 L113.05,411.98 L113.46,412.07 L113.87,412.16 L114.28,412.25 L114.69,412.34 L115.10,412.42 L115.51,412.49 L115.92,412.57 L116.33,412.64 L116.74,412.71 L117.15,412.78 L117.56,412.85 L117.97,412.91 L118.38,412.98 L118.79,413.04 L119.20,413.10 L119.61,413.16 L120.02,413.21 L120.43,413.27 L120.84,413.32 L121.25,413.38 L121.66,413.43 L122.07,413.48 L122.48,413.53 L122.89,413.58 L123.30,413.63 L123.71,413.68 L124.12,413.73 L124.53,413.78 L124.94,413.83 L125.35,413.88 L125.76,413.92 L126.17,413.97 L126.58,414.02 L126.99,414.07 L127.40,414.12 L127.81,414.17 L128.22,414.22 L128.63,414.28 L129.04,414.33 L129.45,414.38 L129.86,414.44 L130.27,414.50 L130.68,414.55 L131.09,414.61 L131.50,414.67 L131.91,414.73 L132.32,414.80 L132.73,414.86 L133.14,414.92 L133.55,414.98 L133.96,415.05 L134.37,415.11 L134.78,415.17 L135.19,415.24 L135.60,415.30 L136.01,415.37 L136.42,415.43 L136.83,415.50 L137.24,415.57 L137.65,415.63 L138.06,415.70 L138.47,415.76 L138.88,415.83 L139.29,415.90 L139.70,415.96 L140.11,416.03 L140.52,416.09 L140.93,416.16 L141.34,416.22 L141.75,416.29 L142.16,416.35 L142.57,416.42 L142.98,416.48 L143.39,416.54 L143.80,416.61 L144.21,416.67 L144.62,416.73 L145.03,416.79 L145.44,416.85 L145.85,416.91 L146.26,416.97 L146.67,417.03 L147.08,417.09 L147.49,417.14 L147.90,417.20 L148.31,417.25 L148.72,417.31 L149.13,417.36 L149.54,417.41 L149.95,417.47 L150.36,417.52 L150.77,417.57 L151.18,417.61 L151.59,417.66 L152.00,417.71 L152.41,417.75 L152.82,417.79 L153.23,417.84 L153.64,417.88 L154.05,417.92 L154.46,417.95 L154.87,417.99 L155.28,418.02 L155.69,418.06 L156.10,418.09 L156.51,418.13 L156.92,418.16 L157.33,418.19 L157.74,418.23 L158.15,418.26 L158.56,418.29 L158.97,418.33 L159.38,418.36 L159.79,418.39 L160.20,418.42 L160.61,418.45 L161.02,418.48 L161.43,418.51 L161.84,418.54 L162.25,418.57 L162.66,418.60 L163.07,418.63 L163.48,418.66 L163.89,418.69 L164.30,418.72 L164.71,418.75 L165.12,418.78 L165.53,418.81 L165.94,418.83 L166.35,418.86 L166.76,418.89 L167.17,418.91 L167.58,418.94 L167.99,418.97 L168.40,418.99 L168.81,419.02 L169.22,419.05 L169.63,419.07 L170.04,419.10 L170.45,419.12 L170.86,419.15 L171.27,419.17 L171.68,419.19 L172.09,419.22 L172.50,419.24 L172.91,419.27 L173.32,419.29 L173.73,419.31 L174.14,419.33 L174.55,419.36 L174.96,419.38 L175.37,419.40 L175.78,419.42 L176.19,419.44 L176.60,419.47 L177.01,419.49 L177.42,419.51 L177.83,419.53 L178.24,419.55 L178.65,419.57 L179.06,419.59 L179.47,419.61 L179.88,419.63 L180.29,419.65 L180.70,419.67 L181.11,419.68 L181.52,419.70 L181.93,419.72 L182.34,419.74 L182.75,419.76 L183.16,419.77 L183.57,419.79 L183.98,419.81 L184.39,419.83 L184.80,419.84 L185.21,419.86 L185.62,419.87 L186.03,419.89 L186.44,419.91 L186.85,419.92 L187.26,419.94 L187.67,419.95 L188.08,419.97 L188.49,419.98 L188.90,420.00 L189.31,420.01 L189.72,420.03 L190.13,420.04 L190.54,420.05 L190.95,420.07 L191.36,420.08 L191.77,420.09 L192.18,420.11 L192.59,420.12 L193.00,420.14 L193.41,420.15 L193.82,420.16 L194.23,420.18 L194.64,420.19 L195.05,420.20 L195.46,420.21 L195.87,420.23 L196.28,420.24 L196.69,420.25 L197.10,420.27 L197.51,420.28 L197.92,420.29 L198.33,420.30 L198.74,420.32 L199.15,420.33 L199.56,420.34 L199.97,420.35 L200.38,420.36 L200.79,420.38 L201.20,420.39 L201.61,420.40 L202.02,420.41 L202.43,420.42 L202.84,420.43 L203.25,420.45 L203.66,420.46 L204.07,420.47 L204.48,420.48 L204.89,420.49 L205.30,420.50 L205.71,420.51 L206.12,420.52 L206.53,420.53 L206.94,420.54 L207.35,420.55 L207.76,420.56 L208.17,420.57 L208.58,420.58 L208.99,420.60 L209.40,420.61 L209.81,420.62 L210.22,420.63 L210.63,420.63 L211.04,420.64 L211.45,420.65 L211.86,420.66 L212.27,420.67 L212.68,420.68 L213.09,420.69 L213.50,420.70 L213.91,420.71 L214.32,420.72 L214.73,420.73 L215.14,420.74 L215.55,420.75 L215.96,420.75 L216.37,420.76 L216.78,420.77 L217.19,420.78 L217.60,420.79 L218.01,420.80 L218.42,420.80 L218.83,420.81 L219.24,420.82 L219.65,420.83 L220.06,420.84 L220.47,420.84 L220.88,420.85 L221.29,420.86 L221.70,420.87 L222.11,420.87 L222.52,420.88 L222.93,420.89 L223.34,420.90 L223.75,420.90 L224.16,420.91 L224.57,420.92 L224.98,420.92 L225.39,420.93 L225.80,420.94 L226.21,420.94 L226.62,420.95 L227.03,420.96 L227.44,420.96 L227.85,420.97 L228.26,420.97 L228.67,420.98 L229.08,420.99 L229.49,420.99 L229.90,421.00 L230.31,421.00 L230.72,421.01 L231.13,421.02 L231.54,421.02 L231.95,421.03 L232.36,421.03 L232.77,421.04 L233.18,421.04 L233.59,421.05 L234.00,421.06 L234.41,421.06 L234.82,421.07 L235.23,421.07 L235.64,421.08 L236.05,421.08 L236.46,421.09 L236.87,421.09 L237.28,421.10 L237.69,421.10 L238.10,421.11 L238.51,421.12 L238.92,421.12 L239.33,421.13 L239.74,421.13 L240.15,421.14 L240.56,421.14 L240.97,421.15 L241.38,421.15 L241.79,421.16 L242.20,421.16 L242.61,421.17 L243.02,421.17 L243.43,421.18 L243.84,421.18 L244.25,421.19 L244.66,421.19 L245.07,421.20 L245.48,421.20 L245.89,421.21 L246.30,421.21 L246.71,421.22 L247.12,421.22 L247.53,421.23 L247.94,421.23 L248.35,421.24 L248.76,421.24 L249.17,421.24 L249.58,421.25 L249.99,421.25 L250.40,421.26 L250.81,421.26 L251.22,421.27 L251.63,421.27 L252.04,421.27 L252.45,421.28 L252.86,421.28 L253.27,421.29 L253.68,421.29 L254.09,421.29 L254.50,421.30 L254.91,421.30 L255.32,421.31 L255.73,421.31 L256.14,421.31 L256.55,421.32 L256.96,421.32 L257.37,421.32 L257.78,421.33 L258.19,421.33 L258.60,421.33 L259.01,421.34 L259.42,421.34 L259.83,421.34 L260.24,421.35 L260.65,421.35 L261.06,421.35 L261.47,421.36 L261.88,421.36 L262.29,421.36 L262.70,421.36 L263.11,421.37 L263.52,421.37 L263.93,421.37 L264.34,421.37 L264.75,421.38 L265.16,421.38 L265.57,421.38 L265.98,421.38 L266.39,421.38 L266.80,421.39 L267.21,421.39 L267.62,421.39 L268.03,421.39 L268.44,421.39 L268.85,421.39 L269.26,421.39 L269.67,421.40 L270.08,421.40 L270.49,421.40 L270.90,421.40" fill="none" stroke="#3a3a3a" stroke-width="1.2" stroke-linejoin="round" marker-start="url(#mc_black)" marker-mid="url(#mc_black)" marker-end="url(#mc_black)"/>
<path d="M47.90,232.50 L48.31,241.47 L48.72,249.43 L49.13,256.76 L49.54,263.65 L49.95,270.22 L50.36,276.46 L50.77,282.30 L51.18,287.77 L51.59,292.90 L52.00,297.74 L52.41,302.18 L52.82,306.01 L53.23,310.02 L53.64,314.57 L54.05,319.42 L54.46,324.37 L54.87,329.23 L55.28,334.81 L55.69,340.41 L56.10,344.78 L56.51,348.07 L56.92,350.62 L57.33,352.67 L57.74,354.38 L58.15,355.82 L58.56,357.04 L58.97,358.08 L59.38,358.95 L59.79,359.68 L60.20,360.27 L60.61,360.74 L61.02,361.14 L61.43,361.50 L61.84,361.82 L62.25,362.12 L62.66,362.40 L63.07,362.66 L63.48,362.89 L63.89,363.11 L64.30,363.31 L64.71,363.48 L65.12,363.64 L65.53,363.77 L65.94,363.87 L66.35,363.95 L66.76,363.99 L67.17,363.99 L67.58,363.94 L67.99,363.84 L68.40,363.69 L68.81,363.51 L69.22,363.29 L69.63,363.05 L70.04,362.79 L70.45,362.52 L70.86,362.24 L71.27,361.96 L71.68,361.68 L72.09,361.41 L72.50,361.16 L72.91,360.94 L73.32,360.74 L73.73,360.57 L74.14,360.44 L74.55,360.35 L74.96,360.30 L75.37,360.30 L75.78,360.33 L76.19,360.37 L76.60,360.42 L77.01,360.49 L77.42,360.56 L77.83,360.65 L78.24,360.75 L78.65,360.86 L79.06,360.97 L79.47,361.10 L79.88,361.24 L80.29,361.38 L80.70,361.54 L81.11,361.73 L81.52,361.95 L81.93,362.21 L82.34,362.51 L82.75,362.84 L83.16,363.21 L83.57,363.62 L83.98,364.06 L84.39,364.54 L84.80,365.05 L85.21,365.59 L85.62,366.17 L86.03,366.78 L86.44,367.41 L86.85,368.08 L87.26,368.76 L87.67,369.46 L88.08,370.18 L88.49,370.91 L88.90,371.65 L89.31,372.38 L89.72,373.11 L90.13,373.83 L90.54,374.57 L90.95,375.36 L91.36,376.18 L91.77,377.06 L92.18,377.97 L92.59,378.93 L93.00,379.91 L93.41,380.93 L93.82,381.96 L94.23,383.01 L94.64,384.05 L95.05,385.08 L95.46,386.09 L95.87,387.07 L96.28,388.02 L96.69,388.93 L97.10,389.79 L97.51,390.62 L97.92,391.46 L98.33,392.34 L98.74,393.23 L99.15,394.13 L99.56,395.03 L99.97,395.91 L100.38,396.77 L100.79,397.61 L101.20,398.40 L101.61,399.15 L102.02,399.86 L102.43,400.51 L102.84,401.12 L103.25,401.67 L103.66,402.18 L104.07,402.63 L104.48,403.03 L104.89,403.39 L105.30,403.71 L105.71,404.01 L106.12,404.28 L106.53,404.54 L106.94,404.79 L107.35,405.02 L107.76,405.24 L108.17,405.45 L108.58,405.65 L108.99,405.85 L109.40,406.03 L109.81,406.21 L110.22,406.39 L110.63,406.56 L111.04,406.72 L111.45,406.88 L111.86,407.03 L112.27,407.19 L112.68,407.33 L113.09,407.48 L113.50,407.62 L113.91,407.75 L114.32,407.89 L114.73,408.02 L115.14,408.15 L115.55,408.28 L115.96,408.40 L116.37,408.53 L116.78,408.65 L117.19,408.77 L117.60,408.89 L118.01,409.01 L118.42,409.12 L118.83,409.24 L119.24,409.35 L119.65,409.47 L120.06,409.58 L120.47,409.69 L120.88,409.80 L121.29,409.92 L121.70,410.03 L122.11,410.14 L122.52,410.25 L122.93,410.36 L123.34,410.47 L123.75,410.57 L124.16,410.68 L124.57,410.78 L124.98,410.89 L125.39,410.99 L125.80,411.09 L126.21,411.20 L126.62,411.30 L127.03,411.40 L127.44,411.49 L127.85,411.59 L128.26,411.69 L128.67,411.79 L129.08,411.88 L129.49,411.98 L129.90,412.07 L130.31,412.16 L130.72,412.25 L131.13,412.35 L131.54,412.44 L131.95,412.52 L132.36,412.61 L132.77,412.70 L133.18,412.79 L133.59,412.88 L134.00,412.96 L134.41,413.05 L134.82,413.13 L135.23,413.21 L135.64,413.30 L136.05,413.38 L136.46,413.46 L136.87,413.54 L137.28,413.62 L137.69,413.70 L138.10,413.78 L138.51,413.86 L138.92,413.93 L139.33,414.01 L139.74,414.09 L140.15,414.16 L140.56,414.24 L140.97,414.31 L141.38,414.38 L141.79,414.46 L142.20,414.53 L142.61,414.60 L143.02,414.67 L143.43,414.74 L143.84,414.81 L144.25,414.88 L144.66,414.95 L145.07,415.02 L145.48,415.08 L145.89,415.15 L146.30,415.22 L146.71,415.28 L147.12,415.35 L147.53,415.41 L147.94,415.48 L148.35,415.54 L148.76,415.60 L149.17,415.67 L149.58,415.73 L149.99,415.79 L150.40,415.85 L150.81,415.91 L151.22,415.97 L151.63,416.03 L152.04,416.09 L152.45,416.15 L152.86,416.20 L153.27,416.26 L153.68,416.32 L154.09,416.38 L154.50,416.43 L154.91,416.49 L155.32,416.54 L155.73,416.60 L156.14,416.65 L156.55,416.71 L156.96,416.76 L157.37,416.82 L157.78,416.87 L158.19,416.92 L158.60,416.97 L159.01,417.03 L159.42,417.08 L159.83,417.13 L160.24,417.18 L160.65,417.24 L161.06,417.29 L161.47,417.34 L161.88,417.39 L162.29,417.44 L162.70,417.49 L163.11,417.54 L163.52,417.59 L163.93,417.64 L164.34,417.69 L164.75,417.73 L165.16,417.78 L165.57,417.83 L165.98,417.88 L166.39,417.92 L166.80,417.97 L167.21,418.02 L167.62,418.06 L168.03,418.11 L168.44,418.16 L168.85,418.20 L169.26,418.25 L169.67,418.29 L170.08,418.34 L170.49,418.38 L170.90,418.42 L171.31,418.47 L171.72,418.51 L172.13,418.55 L172.54,418.59 L172.95,418.64 L173.36,418.68 L173.77,418.72 L174.18,418.76 L174.59,418.80 L175.00,418.84 L175.41,418.88 L175.82,418.92 L176.23,418.96 L176.64,419.00 L177.05,419.04 L177.46,419.08 L177.87,419.11 L178.28,419.15 L178.69,419.19 L179.10,419.22 L179.51,419.26 L179.92,419.30 L180.33,419.33 L180.74,419.37 L181.15,419.40 L181.56,419.44 L181.97,419.47 L182.38,419.51 L182.79,419.54 L183.20,419.57 L183.61,419.61 L184.02,419.64 L184.43,419.67 L184.84,419.70 L185.25,419.73 L185.66,419.76 L186.07,419.79 L186.48,419.82 L186.89,419.85 L187.30,419.88 L187.71,419.91 L188.12,419.94 L188.53,419.97 L188.94,420.00 L189.35,420.02 L189.76,420.05 L190.17,420.08 L190.58,420.10 L190.99,420.13 L191.40,420.16 L191.81,420.18 L192.22,420.21 L192.63,420.24 L193.04,420.26 L193.45,420.29 L193.86,420.31 L194.27,420.34 L194.68,420.36 L195.09,420.39 L195.50,420.41 L195.91,420.44 L196.32,420.46 L196.73,420.49 L197.14,420.51 L197.55,420.54 L197.96,420.56 L198.37,420.59 L198.78,420.61 L199.19,420.63 L199.60,420.66 L200.01,420.68 L200.42,420.70 L200.83,420.73 L201.24,420.75 L201.65,420.77 L202.06,420.79 L202.47,420.82 L202.88,420.84 L203.29,420.86 L203.70,420.88 L204.11,420.90 L204.52,420.93 L204.93,420.95 L205.34,420.97 L205.75,420.99 L206.16,421.01 L206.57,421.03 L206.98,421.05 L207.39,421.07 L207.80,421.09 L208.21,421.11 L208.62,421.13 L209.03,421.15 L209.44,421.17 L209.85,421.19 L210.26,421.21 L210.67,421.23 L211.08,421.25 L211.49,421.27 L211.90,421.29 L212.31,421.31 L212.72,421.33 L213.13,421.35 L213.54,421.36 L213.95,421.38 L214.36,421.40 L214.77,421.42 L215.18,421.44 L215.59,421.46 L216.00,421.47 L216.41,421.49 L216.82,421.51 L217.23,421.53 L217.64,421.54 L218.05,421.56 L218.46,421.58 L218.87,421.59 L219.28,421.61 L219.69,421.63 L220.10,421.64 L220.51,421.66 L220.92,421.67 L221.33,421.69 L221.74,421.71 L222.15,421.72 L222.56,421.74 L222.97,421.75 L223.38,421.77 L223.79,421.78 L224.20,421.80 L224.61,421.81 L225.02,421.83 L225.43,421.84 L225.84,421.86 L226.25,421.87 L226.66,421.89 L227.07,421.90 L227.48,421.92 L227.89,421.93 L228.30,421.94 L228.71,421.96 L229.12,421.97 L229.53,421.98 L229.94,422.00 L230.35,422.01 L230.76,422.02 L231.17,422.04 L231.58,422.05 L231.99,422.06 L232.40,422.08 L232.81,422.09 L233.22,422.10 L233.63,422.12 L234.04,422.13 L234.45,422.14 L234.86,422.16 L235.27,422.17 L235.68,422.18 L236.09,422.19 L236.50,422.21 L236.91,422.22 L237.32,422.23 L237.73,422.24 L238.14,422.26 L238.55,422.27 L238.96,422.28 L239.37,422.29 L239.78,422.31 L240.19,422.32 L240.60,422.33 L241.01,422.34 L241.42,422.35 L241.83,422.37 L242.24,422.38 L242.65,422.39 L243.06,422.40 L243.47,422.41 L243.88,422.43 L244.29,422.44 L244.70,422.45 L245.11,422.46 L245.52,422.47 L245.93,422.48 L246.34,422.49 L246.75,422.51 L247.16,422.52 L247.57,422.53 L247.98,422.54 L248.39,422.55 L248.80,422.56 L249.21,422.57 L249.62,422.58 L250.03,422.59 L250.44,422.60 L250.85,422.61 L251.26,422.62 L251.67,422.63 L252.08,422.64 L252.49,422.65 L252.90,422.66 L253.31,422.67 L253.72,422.68 L254.13,422.69 L254.54,422.70 L254.95,422.71 L255.36,422.72 L255.77,422.73 L256.18,422.74 L256.59,422.75 L257.00,422.76 L257.41,422.77 L257.82,422.78 L258.23,422.78 L258.64,422.79 L259.05,422.80 L259.46,422.81 L259.87,422.82 L260.28,422.83 L260.69,422.83 L261.10,422.84 L261.51,422.85 L261.92,422.86 L262.33,422.87 L262.74,422.87 L263.15,422.88 L263.56,422.89 L263.97,422.90 L264.38,422.90 L264.79,422.91 L265.20,422.92 L265.61,422.92 L266.02,422.93 L266.43,422.94 L266.84,422.94 L267.25,422.95 L267.66,422.95 L268.07,422.96 L268.48,422.97 L268.89,422.97 L269.30,422.98 L269.71,422.98 L270.12,422.99 L270.53,422.99 L270.94,423.00" fill="none" stroke="#f42a2a" stroke-width="1.2" stroke-linejoin="round" marker-start="url(#mc_red)" marker-mid="url(#mc_red)" marker-end="url(#mc_red)"/>
<path d="M44.10,232.50 L44.51,237.33 L44.92,242.25 L45.33,247.24 L45.74,252.31 L46.15,257.46 L46.56,262.68 L46.97,267.99 L47.38,273.36 L47.79,278.72 L48.20,284.21 L48.61,290.06 L49.02,296.92 L49.43,305.49 L49.84,312.22 L50.25,316.46 L50.66,319.53 L51.07,322.29 L51.48,325.00 L51.89,327.86 L52.30,331.17 L52.71,334.72 L53.12,338.43 L53.53,342.29 L53.94,347.27 L54.35,353.12 L54.76,357.35 L55.17,360.18 L55.58,362.11 L55.99,363.23 L56.40,364.09 L56.81,364.84 L57.22,365.49 L57.63,366.08 L58.04,366.62 L58.45,367.11 L58.86,367.56 L59.27,367.96 L59.68,368.33 L60.09,368.65 L60.50,368.93 L60.91,369.16 L61.32,369.36 L61.73,369.55 L62.14,369.72 L62.55,369.88 L62.96,370.02 L63.37,370.14 L63.78,370.25 L64.19,370.35 L64.60,370.42 L65.01,370.47 L65.42,370.50 L65.83,370.50 L66.24,370.47 L66.65,370.44 L67.06,370.38 L67.47,370.31 L67.88,370.24 L68.29,370.15 L68.70,370.05 L69.11,369.95 L69.52,369.85 L69.93,369.74 L70.34,369.64 L70.75,369.53 L71.16,369.43 L71.57,369.33 L71.98,369.24 L72.39,369.16 L72.80,369.10 L73.21,369.04 L73.62,369.01 L74.03,369.00 L74.44,369.02 L74.85,369.08 L75.26,369.18 L75.67,369.32 L76.08,369.49 L76.49,369.70 L76.90,369.94 L77.31,370.22 L77.72,370.52 L78.13,370.85 L78.54,371.20 L78.95,371.58 L79.36,371.98 L79.77,372.40 L80.18,372.84 L80.59,373.28 L81.00,373.74 L81.41,374.20 L81.82,374.66 L82.23,375.13 L82.64,375.58 L83.05,376.03 L83.46,376.47 L83.87,376.88 L84.28,377.28 L84.69,377.67 L85.10,378.06 L85.51,378.45 L85.92,378.85 L86.33,379.25 L86.74,379.66 L87.15,380.07 L87.56,380.49 L87.97,380.91 L88.38,381.34 L88.79,381.77 L89.20,382.21 L89.61,382.66 L90.02,383.12 L90.43,383.58 L90.84,384.05 L91.25,384.53 L91.66,385.01 L92.07,385.51 L92.48,386.02 L92.89,386.54 L93.30,387.07 L93.71,387.61 L94.12,388.19 L94.53,388.81 L94.94,389.47 L95.35,390.17 L95.76,390.91 L96.17,391.67 L96.58,392.46 L96.99,393.25 L97.40,394.04 L97.81,394.82 L98.22,395.57 L98.63,396.29 L99.04,396.97 L99.45,397.60 L99.86,398.19 L100.27,398.74 L100.68,399.23 L101.09,399.69 L101.50,400.11 L101.91,400.51 L102.32,400.89 L102.73,401.25 L103.14,401.60 L103.55,401.93 L103.96,402.24 L104.37,402.54 L104.78,402.83 L105.19,403.10 L105.60,403.36 L106.01,403.60 L106.42,403.83 L106.83,404.04 L107.24,404.24 L107.65,404.42 L108.06,404.59 L108.47,404.75 L108.88,404.90 L109.29,405.05 L109.70,405.19 L110.11,405.33 L110.52,405.46 L110.93,405.59 L111.34,405.71 L111.75,405.83 L112.16,405.94 L112.57,406.05 L112.98,406.16 L113.39,406.26 L113.80,406.37 L114.21,406.47 L114.62,406.56 L115.03,406.66 L115.44,406.75 L115.85,406.84 L116.26,406.94 L116.67,407.03 L117.08,407.12 L117.49,407.20 L117.90,407.29 L118.31,407.38 L118.72,407.47 L119.13,407.56 L119.54,407.64 L119.95,407.73 L120.36,407.82 L120.77,407.91 L121.18,408.00 L121.59,408.10 L122.00,408.19 L122.41,408.29 L122.82,408.38 L123.23,408.47 L123.64,408.57 L124.05,408.66 L124.46,408.75 L124.87,408.85 L125.28,408.94 L125.69,409.03 L126.10,409.12 L126.51,409.22 L126.92,409.31 L127.33,409.40 L127.74,409.49 L128.15,409.59 L128.56,409.68 L128.97,409.77 L129.38,409.86 L129.79,409.95 L130.20,410.04 L130.61,410.13 L131.02,410.22 L131.43,410.31 L131.84,410.40 L132.25,410.49 L132.66,410.58 L133.07,410.66 L133.48,410.75 L133.89,410.84 L134.30,410.93 L134.71,411.01 L135.12,411.10 L135.53,411.19 L135.94,411.27 L136.35,411.36 L136.76,411.44 L137.17,411.52 L137.58,411.61 L137.99,411.69 L138.40,411.77 L138.81,411.86 L139.22,411.94 L139.63,412.02 L140.04,412.10 L140.45,412.18 L140.86,412.26 L141.27,412.34 L141.68,412.42 L142.09,412.50 L142.50,412.57 L142.91,412.65 L143.32,412.73 L143.73,412.80 L144.14,412.88 L144.55,412.95 L144.96,413.02 L145.37,413.10 L145.78,413.17 L146.19,413.24 L146.60,413.31 L147.01,413.38 L147.42,413.45 L147.83,413.52 L148.24,413.59 L148.65,413.66 L149.06,413.72 L149.47,413.79 L149.88,413.85 L150.29,413.92 L150.70,413.98 L151.11,414.05 L151.52,414.11 L151.93,414.17 L152.34,414.23 L152.75,414.29 L153.16,414.35 L153.57,414.41 L153.98,414.46 L154.39,414.52 L154.80,414.57 L155.21,414.63 L155.62,414.68 L156.03,414.74 L156.44,414.79 L156.85,414.84 L157.26,414.89 L157.67,414.95 L158.08,415.00 L158.49,415.05 L158.90,415.10 L159.31,415.15 L159.72,415.20 L160.13,415.25 L160.54,415.30 L160.95,415.35 L161.36,415.39 L161.77,415.44 L162.18,415.49 L162.59,415.54 L163.00,415.59 L163.41,415.63 L163.82,415.68 L164.23,415.72 L164.64,415.77 L165.05,415.82 L165.46,415.86 L165.87,415.91 L166.28,415.95 L166.69,415.99 L167.10,416.04 L167.51,416.08 L167.92,416.12 L168.33,416.17 L168.74,416.21 L169.15,416.25 L169.56,416.29 L169.97,416.34 L170.38,416.38 L170.79,416.42 L171.20,416.46 L171.61,416.50 L172.02,416.54 L172.43,416.58 L172.84,416.62 L173.25,416.66 L173.66,416.70 L174.07,416.74 L174.48,416.78 L174.89,416.81 L175.30,416.85 L175.71,416.89 L176.12,416.93 L176.53,416.96 L176.94,417.00 L177.35,417.04 L177.76,417.08 L178.17,417.11 L178.58,417.15 L178.99,417.18 L179.40,417.22 L179.81,417.26 L180.22,417.29 L180.63,417.33 L181.04,417.36 L181.45,417.39 L181.86,417.43 L182.27,417.46 L182.68,417.50 L183.09,417.53 L183.50,417.57 L183.91,417.60 L184.32,417.63 L184.73,417.67 L185.14,417.70 L185.55,417.73 L185.96,417.76 L186.37,417.80 L186.78,417.83 L187.19,417.86 L187.60,417.89 L188.01,417.92 L188.42,417.96 L188.83,417.99 L189.24,418.02 L189.65,418.05 L190.06,418.08 L190.47,418.11 L190.88,418.14 L191.29,418.17 L191.70,418.20 L192.11,418.23 L192.52,418.26 L192.93,418.29 L193.34,418.32 L193.75,418.35 L194.16,418.38 L194.57,418.41 L194.98,418.44 L195.39,418.47 L195.80,418.50 L196.21,418.53 L196.62,418.56 L197.03,418.59 L197.44,418.62 L197.85,418.65 L198.26,418.67 L198.67,418.70 L199.08,418.73 L199.49,418.76 L199.90,418.79 L200.31,418.82 L200.72,418.84 L201.13,418.87 L201.54,418.90 L201.95,418.93 L202.36,418.95 L202.77,418.98 L203.18,419.01 L203.59,419.03 L204.00,419.06 L204.41,419.09 L204.82,419.11 L205.23,419.14 L205.64,419.17 L206.05,419.19 L206.46,419.22 L206.87,419.24 L207.28,419.27 L207.69,419.30 L208.10,419.32 L208.51,419.35 L208.92,419.37 L209.33,419.40 L209.74,419.42 L210.15,419.45 L210.56,419.47 L210.97,419.50 L211.38,419.52 L211.79,419.54 L212.20,419.57 L212.61,419.59 L213.02,419.62 L213.43,419.64 L213.84,419.66 L214.25,419.69 L214.66,419.71 L215.07,419.73 L215.48,419.76 L215.89,419.78 L216.30,419.80 L216.71,419.83 L217.12,419.85 L217.53,419.87 L217.94,419.89 L218.35,419.92 L218.76,419.94 L219.17,419.96 L219.58,419.98 L219.99,420.01 L220.40,420.03 L220.81,420.05 L221.22,420.07 L221.63,420.09 L222.04,420.11 L222.45,420.13 L222.86,420.15 L223.27,420.18 L223.68,420.20 L224.09,420.22 L224.50,420.24 L224.91,420.26 L225.32,420.28 L225.73,420.30 L226.14,420.32 L226.55,420.34 L226.96,420.36 L227.37,420.38 L227.78,420.40 L228.19,420.42 L228.60,420.44 L229.01,420.45 L229.42,420.47 L229.83,420.49 L230.24,420.51 L230.65,420.53 L231.06,420.55 L231.47,420.57 L231.88,420.59 L232.29,420.60 L232.70,420.62 L233.11,420.64 L233.52,420.66 L233.93,420.68 L234.34,420.70 L234.75,420.71 L235.16,420.73 L235.57,420.75 L235.98,420.77 L236.39,420.79 L236.80,420.80 L237.21,420.82 L237.62,420.84 L238.03,420.86 L238.44,420.87 L238.85,420.89 L239.26,420.91 L239.67,420.93 L240.08,420.94 L240.49,420.96 L240.90,420.98 L241.31,421.00 L241.72,421.01 L242.13,421.03 L242.54,421.05 L242.95,421.06 L243.36,421.08 L243.77,421.10 L244.18,421.11 L244.59,421.13 L245.00,421.15 L245.41,421.16 L245.82,421.18 L246.23,421.20 L246.64,421.21 L247.05,421.23 L247.46,421.24 L247.87,421.26 L248.28,421.28 L248.69,421.29 L249.10,421.31 L249.51,421.32 L249.92,421.34 L250.33,421.35 L250.74,421.37 L251.15,421.38 L251.56,421.40 L251.97,421.41 L252.38,421.43 L252.79,421.44 L253.20,421.46 L253.61,421.47 L254.02,421.49 L254.43,421.50 L254.84,421.52 L255.25,421.53 L255.66,421.54 L256.07,421.56 L256.48,421.57 L256.89,421.59 L257.30,421.60 L257.71,421.61 L258.12,421.63 L258.53,421.64 L258.94,421.65 L259.35,421.67 L259.76,421.68 L260.17,421.69 L260.58,421.71 L260.99,421.72 L261.40,421.73 L261.81,421.75 L262.22,421.76 L262.63,421.77 L263.04,421.78 L263.45,421.80 L263.86,421.81 L264.27,421.82 L264.68,421.83 L265.09,421.84 L265.50,421.85 L265.91,421.87 L266.32,421.88 L266.73,421.89 L267.14,421.90 L267.55,421.91 L267.96,421.92 L268.37,421.93 L268.78,421.94 L269.19,421.95 L269.60,421.97 L270.01,421.98 L270.42,421.99 L270.83,422.00" fill="none" stroke="#1f66f0" stroke-width="1.2" stroke-linejoin="round" marker-start="url(#mc_blue)" marker-mid="url(#mc_blue)" marker-end="url(#mc_blue)"/>
<path d="M50.00,232.50 L50.41,242.27 L50.82,254.19 L51.23,273.29 L51.64,295.47 L52.05,300.52 L52.46,304.66 L52.87,308.63 L53.28,312.86 L53.69,317.18 L54.10,321.33 L54.51,325.26 L54.92,328.98 L55.33,332.48 L55.74,335.77 L56.15,338.89 L56.56,341.87 L56.97,344.66 L57.38,347.20 L57.79,349.51 L58.20,351.60 L58.61,353.51 L59.02,355.56 L59.43,357.59 L59.84,359.36 L60.25,360.80 L60.66,361.90 L61.07,362.71 L61.48,363.27 L61.89,363.59 L62.30,363.78 L62.71,363.92 L63.12,364.03 L63.53,364.13 L63.94,364.22 L64.35,364.30 L64.76,364.37 L65.17,364.43 L65.58,364.49 L65.99,364.54 L66.40,364.58 L66.81,364.62 L67.22,364.65 L67.63,364.68 L68.04,364.69 L68.45,364.70 L68.86,364.69 L69.27,364.68 L69.68,364.65 L70.09,364.61 L70.50,364.56 L70.91,364.50 L71.32,364.44 L71.73,364.37 L72.14,364.30 L72.55,364.23 L72.96,364.15 L73.37,364.08 L73.78,364.00 L74.19,363.93 L74.60,363.86 L75.01,363.80 L75.42,363.74 L75.83,363.69 L76.24,363.65 L76.65,363.62 L77.06,363.60 L77.47,363.60 L77.88,363.65 L78.29,363.73 L78.70,363.86 L79.11,364.02 L79.52,364.21 L79.93,364.44 L80.34,364.70 L80.75,364.98 L81.16,365.28 L81.57,365.61 L81.98,365.95 L82.39,366.30 L82.80,366.66 L83.21,367.03 L83.62,367.40 L84.03,367.76 L84.44,368.12 L84.85,368.49 L85.26,368.87 L85.67,369.27 L86.08,369.69 L86.49,370.13 L86.90,370.58 L87.31,371.05 L87.72,371.54 L88.13,372.04 L88.54,372.56 L88.95,373.09 L89.36,373.63 L89.77,374.19 L90.18,374.77 L90.59,375.35 L91.00,375.94 L91.41,376.54 L91.82,377.15 L92.23,377.77 L92.64,378.39 L93.05,379.01 L93.46,379.64 L93.87,380.26 L94.28,380.91 L94.69,381.60 L95.10,382.31 L95.51,383.06 L95.92,383.83 L96.33,384.61 L96.74,385.42 L97.15,386.23 L97.56,387.04 L97.97,387.84 L98.38,388.63 L98.79,389.40 L99.20,390.14 L99.61,390.86 L100.02,391.55 L100.43,392.20 L100.84,392.82 L101.25,393.41 L101.66,394.00 L102.07,394.59 L102.48,395.16 L102.89,395.73 L103.30,396.27 L103.71,396.80 L104.12,397.29 L104.53,397.76 L104.94,398.20 L105.35,398.61 L105.76,398.98 L106.17,399.32 L106.58,399.62 L106.99,399.89 L107.40,400.14 L107.81,400.38 L108.22,400.61 L108.63,400.83 L109.04,401.04 L109.45,401.24 L109.86,401.43 L110.27,401.62 L110.68,401.80 L111.09,401.97 L111.50,402.14 L111.91,402.30 L112.32,402.46 L112.73,402.62 L113.14,402.76 L113.55,402.91 L113.96,403.05 L114.37,403.19 L114.78,403.33 L115.19,403.46 L115.60,403.59 L116.01,403.72 L116.42,403.84 L116.83,403.97 L117.24,404.09 L117.65,404.21 L118.06,404.33 L118.47,404.44 L118.88,404.56 L119.29,404.67 L119.70,404.79 L120.11,404.90 L120.52,405.01 L120.93,405.12 L121.34,405.23 L121.75,405.34 L122.16,405.45 L122.57,405.56 L122.98,405.66 L123.39,405.77 L123.80,405.87 L124.21,405.98 L124.62,406.08 L125.03,406.18 L125.44,406.28 L125.85,406.38 L126.26,406.47 L126.67,406.57 L127.08,406.66 L127.49,406.76 L127.90,406.85 L128.31,406.94 L128.72,407.03 L129.13,407.13 L129.54,407.21 L129.95,407.30 L130.36,407.39 L130.77,407.48 L131.18,407.56 L131.59,407.65 L132.00,407.73 L132.41,407.82 L132.82,407.90 L133.23,407.98 L133.64,408.06 L134.05,408.14 L134.46,408.22 L134.87,408.30 L135.28,408.38 L135.69,408.46 L136.10,408.54 L136.51,408.62 L136.92,408.69 L137.33,408.77 L137.74,408.84 L138.15,408.92 L138.56,408.99 L138.97,409.07 L139.38,409.14 L139.79,409.22 L140.20,409.29 L140.61,409.36 L141.02,409.43 L141.43,409.50 L141.84,409.58 L142.25,409.65 L142.66,409.72 L143.07,409.79 L143.48,409.86 L143.89,409.93 L144.30,410.00 L144.71,410.07 L145.12,410.14 L145.53,410.21 L145.94,410.28 L146.35,410.35 L146.76,410.41 L147.17,410.48 L147.58,410.55 L147.99,410.62 L148.40,410.69 L148.81,410.76 L149.22,410.83 L149.63,410.89 L150.04,410.96 L150.45,411.03 L150.86,411.10 L151.27,411.17 L151.68,411.24 L152.09,411.31 L152.50,411.38 L152.91,411.44 L153.32,411.51 L153.73,411.58 L154.14,411.65 L154.55,411.72 L154.96,411.79 L155.37,411.86 L155.78,411.93 L156.19,412.01 L156.60,412.08 L157.01,412.15 L157.42,412.22 L157.83,412.29 L158.24,412.36 L158.65,412.43 L159.06,412.51 L159.47,412.58 L159.88,412.65 L160.29,412.72 L160.70,412.80 L161.11,412.87 L161.52,412.94 L161.93,413.01 L162.34,413.09 L162.75,413.16 L163.16,413.23 L163.57,413.30 L163.98,413.38 L164.39,413.45 L164.80,413.52 L165.21,413.59 L165.62,413.66 L166.03,413.74 L166.44,413.81 L166.85,413.88 L167.26,413.95 L167.67,414.02 L168.08,414.09 L168.49,414.16 L168.90,414.23 L169.31,414.30 L169.72,414.37 L170.13,414.44 L170.54,414.51 L170.95,414.58 L171.36,414.65 L171.77,414.72 L172.18,414.78 L172.59,414.85 L173.00,414.92 L173.41,414.98 L173.82,415.05 L174.23,415.11 L174.64,415.18 L175.05,415.24 L175.46,415.31 L175.87,415.37 L176.28,415.43 L176.69,415.49 L177.10,415.56 L177.51,415.62 L177.92,415.68 L178.33,415.74 L178.74,415.79 L179.15,415.85 L179.56,415.91 L179.97,415.97 L180.38,416.02 L180.79,416.08 L181.20,416.13 L181.61,416.19 L182.02,416.24 L182.43,416.29 L182.84,416.34 L183.25,416.39 L183.66,416.44 L184.07,416.49 L184.48,416.54 L184.89,416.58 L185.30,416.63 L185.71,416.68 L186.12,416.72 L186.53,416.76 L186.94,416.80 L187.35,416.85 L187.76,416.89 L188.17,416.92 L188.58,416.96 L188.99,417.00 L189.40,417.04 L189.81,417.07 L190.22,417.11 L190.63,417.14 L191.04,417.18 L191.45,417.21 L191.86,417.25 L192.27,417.28 L192.68,417.31 L193.09,417.35 L193.50,417.38 L193.91,417.41 L194.32,417.44 L194.73,417.48 L195.14,417.51 L195.55,417.54 L195.96,417.57 L196.37,417.60 L196.78,417.63 L197.19,417.66 L197.60,417.69 L198.01,417.72 L198.42,417.75 L198.83,417.78 L199.24,417.81 L199.65,417.84 L200.06,417.87 L200.47,417.90 L200.88,417.93 L201.29,417.95 L201.70,417.98 L202.11,418.01 L202.52,418.04 L202.93,418.06 L203.34,418.09 L203.75,418.12 L204.16,418.14 L204.57,418.17 L204.98,418.20 L205.39,418.22 L205.80,418.25 L206.21,418.27 L206.62,418.30 L207.03,418.32 L207.44,418.35 L207.85,418.37 L208.26,418.40 L208.67,418.42 L209.08,418.44 L209.49,418.47 L209.90,418.49 L210.31,418.51 L210.72,418.54 L211.13,418.56 L211.54,418.58 L211.95,418.61 L212.36,418.63 L212.77,418.65 L213.18,418.67 L213.59,418.70 L214.00,418.72 L214.41,418.74 L214.82,418.76 L215.23,418.78 L215.64,418.81 L216.05,418.83 L216.46,418.85 L216.87,418.87 L217.28,418.89 L217.69,418.91 L218.10,418.93 L218.51,418.95 L218.92,418.97 L219.33,418.99 L219.74,419.01 L220.15,419.04 L220.56,419.06 L220.97,419.08 L221.38,419.10 L221.79,419.12 L222.20,419.14 L222.61,419.15 L223.02,419.17 L223.43,419.19 L223.84,419.21 L224.25,419.23 L224.66,419.25 L225.07,419.27 L225.48,419.29 L225.89,419.31 L226.30,419.33 L226.71,419.35 L227.12,419.37 L227.53,419.39 L227.94,419.41 L228.35,419.42 L228.76,419.44 L229.17,419.46 L229.58,419.48 L229.99,419.50 L230.40,419.52 L230.81,419.54 L231.22,419.56 L231.63,419.57 L232.04,419.59 L232.45,419.61 L232.86,419.63 L233.27,419.65 L233.68,419.67 L234.09,419.68 L234.50,419.70 L234.91,419.72 L235.32,419.74 L235.73,419.76 L236.14,419.77 L236.55,419.79 L236.96,419.81 L237.37,419.83 L237.78,419.85 L238.19,419.86 L238.60,419.88 L239.01,419.90 L239.42,419.92 L239.83,419.93 L240.24,419.95 L240.65,419.97 L241.06,419.99 L241.47,420.00 L241.88,420.02 L242.29,420.04 L242.70,420.05 L243.11,420.07 L243.52,420.09 L243.93,420.10 L244.34,420.12 L244.75,420.14 L245.16,420.15 L245.57,420.17 L245.98,420.19 L246.39,420.20 L246.80,420.22 L247.21,420.23 L247.62,420.25 L248.03,420.27 L248.44,420.28 L248.85,420.30 L249.26,420.31 L249.67,420.33 L250.08,420.34 L250.49,420.36 L250.90,420.37 L251.31,420.39 L251.72,420.40 L252.13,420.42 L252.54,420.43 L252.95,420.45 L253.36,420.46 L253.77,420.48 L254.18,420.49 L254.59,420.51 L255.00,420.52 L255.41,420.54 L255.82,420.55 L256.23,420.56 L256.64,420.58 L257.05,420.59 L257.46,420.61 L257.87,420.62 L258.28,420.63 L258.69,420.65 L259.10,420.66 L259.51,420.67 L259.92,420.69 L260.33,420.70 L260.74,420.71 L261.15,420.73 L261.56,420.74 L261.97,420.75 L262.38,420.76 L262.79,420.78 L263.20,420.79 L263.61,420.80 L264.02,420.81 L264.43,420.82 L264.84,420.84 L265.25,420.85 L265.66,420.86 L266.07,420.87 L266.48,420.88 L266.89,420.89 L267.30,420.90 L267.71,420.92 L268.12,420.93 L268.53,420.94 L268.94,420.95 L269.35,420.96 L269.76,420.97 L270.17,420.98 L270.58,420.99 L270.99,421.00" fill="none" stroke="#16a571" stroke-width="1.2" stroke-linejoin="round" marker-start="url(#mc_green)" marker-mid="url(#mc_green)" marker-end="url(#mc_green)"/>
<path d="M51.60,232.50 L52.01,239.56 L52.42,246.68 L52.83,253.84 L53.24,261.06 L53.65,268.33 L54.06,275.68 L54.47,283.19 L54.88,290.71 L55.29,298.07 L55.70,305.77 L56.11,314.34 L56.52,321.40 L56.93,326.68 L57.34,330.63 L57.75,333.43 L58.16,335.67 L58.57,337.57 L58.98,339.22 L59.39,340.69 L59.80,342.00 L60.21,343.09 L60.62,344.02 L61.03,344.82 L61.44,345.53 L61.85,346.15 L62.26,346.70 L62.67,347.17 L63.08,347.57 L63.49,347.93 L63.90,348.25 L64.31,348.54 L64.72,348.80 L65.13,349.01 L65.54,349.17 L65.95,349.27 L66.36,349.30 L66.77,349.27 L67.18,349.21 L67.59,349.12 L68.00,349.00 L68.41,348.86 L68.82,348.71 L69.23,348.55 L69.64,348.38 L70.05,348.21 L70.46,348.04 L70.87,347.88 L71.28,347.73 L71.69,347.59 L72.10,347.47 L72.51,347.36 L72.92,347.23 L73.33,347.11 L73.74,346.98 L74.15,346.85 L74.56,346.73 L74.97,346.61 L75.38,346.49 L75.79,346.38 L76.20,346.28 L76.61,346.20 L77.02,346.12 L77.43,346.06 L77.84,346.02 L78.25,346.00 L78.66,346.01 L79.07,346.06 L79.48,346.14 L79.89,346.26 L80.30,346.41 L80.71,346.58 L81.12,346.78 L81.53,346.99 L81.94,347.22 L82.35,347.47 L82.76,347.72 L83.17,347.98 L83.58,348.24 L83.99,348.49 L84.40,348.75 L84.81,349.02 L85.22,349.31 L85.63,349.60 L86.04,349.91 L86.45,350.24 L86.86,350.58 L87.27,350.93 L87.68,351.31 L88.09,351.71 L88.50,352.13 L88.91,352.58 L89.32,353.07 L89.73,353.61 L90.14,354.22 L90.55,354.90 L90.96,355.64 L91.37,356.46 L91.78,357.36 L92.19,358.34 L92.60,359.40 L93.01,360.53 L93.42,361.73 L93.83,362.98 L94.24,364.25 L94.65,365.51 L95.06,366.74 L95.47,367.92 L95.88,369.08 L96.29,370.32 L96.70,371.62 L97.11,372.97 L97.52,374.36 L97.93,375.75 L98.34,377.12 L98.75,378.46 L99.16,379.73 L99.57,380.94 L99.98,382.08 L100.39,383.14 L100.80,384.12 L101.21,385.04 L101.62,385.92 L102.03,386.78 L102.44,387.61 L102.85,388.41 L103.26,389.17 L103.67,389.90 L104.08,390.59 L104.49,391.24 L104.90,391.86 L105.31,392.44 L105.72,392.99 L106.13,393.49 L106.54,393.96 L106.95,394.39 L107.36,394.79 L107.77,395.14 L108.18,395.47 L108.59,395.78 L109.00,396.08 L109.41,396.35 L109.82,396.62 L110.23,396.87 L110.64,397.11 L111.05,397.34 L111.46,397.56 L111.87,397.78 L112.28,397.99 L112.69,398.19 L113.10,398.38 L113.51,398.57 L113.92,398.76 L114.33,398.94 L114.74,399.12 L115.15,399.29 L115.56,399.45 L115.97,399.62 L116.38,399.78 L116.79,399.94 L117.20,400.09 L117.61,400.24 L118.02,400.39 L118.43,400.54 L118.84,400.68 L119.25,400.82 L119.66,400.96 L120.07,401.10 L120.48,401.24 L120.89,401.37 L121.30,401.50 L121.71,401.64 L122.12,401.77 L122.53,401.89 L122.94,402.02 L123.35,402.14 L123.76,402.27 L124.17,402.39 L124.58,402.51 L124.99,402.63 L125.40,402.75 L125.81,402.86 L126.22,402.98 L126.63,403.09 L127.04,403.20 L127.45,403.31 L127.86,403.42 L128.27,403.53 L128.68,403.63 L129.09,403.74 L129.50,403.84 L129.91,403.94 L130.32,404.05 L130.73,404.15 L131.14,404.25 L131.55,404.34 L131.96,404.44 L132.37,404.54 L132.78,404.63 L133.19,404.73 L133.60,404.82 L134.01,404.91 L134.42,405.01 L134.83,405.10 L135.24,405.19 L135.65,405.28 L136.06,405.36 L136.47,405.45 L136.88,405.54 L137.29,405.63 L137.70,405.71 L138.11,405.80 L138.52,405.88 L138.93,405.96 L139.34,406.05 L139.75,406.13 L140.16,406.21 L140.57,406.29 L140.98,406.38 L141.39,406.46 L141.80,406.54 L142.21,406.62 L142.62,406.70 L143.03,406.77 L143.44,406.85 L143.85,406.93 L144.26,407.01 L144.67,407.09 L145.08,407.16 L145.49,407.24 L145.90,407.32 L146.31,407.39 L146.72,407.47 L147.13,407.55 L147.54,407.62 L147.95,407.70 L148.36,407.77 L148.77,407.85 L149.18,407.92 L149.59,408.00 L150.00,408.08 L150.41,408.15 L150.82,408.23 L151.23,408.30 L151.64,408.38 L152.05,408.45 L152.46,408.53 L152.87,408.60 L153.28,408.68 L153.69,408.76 L154.10,408.83 L154.51,408.91 L154.92,408.99 L155.33,409.06 L155.74,409.14 L156.15,409.22 L156.56,409.29 L156.97,409.37 L157.38,409.45 L157.79,409.52 L158.20,409.60 L158.61,409.68 L159.02,409.75 L159.43,409.83 L159.84,409.91 L160.25,409.99 L160.66,410.06 L161.07,410.14 L161.48,410.22 L161.89,410.29 L162.30,410.37 L162.71,410.45 L163.12,410.52 L163.53,410.60 L163.94,410.67 L164.35,410.75 L164.76,410.82 L165.17,410.90 L165.58,410.98 L165.99,411.05 L166.40,411.12 L166.81,411.20 L167.22,411.27 L167.63,411.35 L168.04,411.42 L168.45,411.49 L168.86,411.57 L169.27,411.64 L169.68,411.71 L170.09,411.78 L170.50,411.85 L170.91,411.93 L171.32,412.00 L171.73,412.07 L172.14,412.14 L172.55,412.21 L172.96,412.28 L173.37,412.34 L173.78,412.41 L174.19,412.48 L174.60,412.55 L175.01,412.61 L175.42,412.68 L175.83,412.74 L176.24,412.81 L176.65,412.87 L177.06,412.94 L177.47,413.00 L177.88,413.06 L178.29,413.13 L178.70,413.19 L179.11,413.25 L179.52,413.31 L179.93,413.37 L180.34,413.43 L180.75,413.49 L181.16,413.54 L181.57,413.60 L181.98,413.66 L182.39,413.71 L182.80,413.77 L183.21,413.82 L183.62,413.88 L184.03,413.93 L184.44,413.98 L184.85,414.03 L185.26,414.08 L185.67,414.13 L186.08,414.18 L186.49,414.23 L186.90,414.27 L187.31,414.32 L187.72,414.36 L188.13,414.41 L188.54,414.45 L188.95,414.49 L189.36,414.54 L189.77,414.58 L190.18,414.62 L190.59,414.66 L191.00,414.70 L191.41,414.74 L191.82,414.78 L192.23,414.82 L192.64,414.86 L193.05,414.90 L193.46,414.94 L193.87,414.97 L194.28,415.01 L194.69,415.05 L195.10,415.09 L195.51,415.12 L195.92,415.16 L196.33,415.20 L196.74,415.23 L197.15,415.27 L197.56,415.30 L197.97,415.34 L198.38,415.37 L198.79,415.41 L199.20,415.44 L199.61,415.48 L200.02,415.51 L200.43,415.55 L200.84,415.58 L201.25,415.61 L201.66,415.64 L202.07,415.68 L202.48,415.71 L202.89,415.74 L203.30,415.77 L203.71,415.81 L204.12,415.84 L204.53,415.87 L204.94,415.90 L205.35,415.93 L205.76,415.96 L206.17,415.99 L206.58,416.02 L206.99,416.05 L207.40,416.08 L207.81,416.11 L208.22,416.14 L208.63,416.17 L209.04,416.20 L209.45,416.23 L209.86,416.26 L210.27,416.29 L210.68,416.31 L211.09,416.34 L211.50,416.37 L211.91,416.40 L212.32,416.42 L212.73,416.45 L213.14,416.48 L213.55,416.51 L213.96,416.53 L214.37,416.56 L214.78,416.59 L215.19,416.61 L215.60,416.64 L216.01,416.67 L216.42,416.69 L216.83,416.72 L217.24,416.74 L217.65,416.77 L218.06,416.80 L218.47,416.82 L218.88,416.85 L219.29,416.87 L219.70,416.90 L220.11,416.92 L220.52,416.95 L220.93,416.97 L221.34,417.00 L221.75,417.02 L222.16,417.05 L222.57,417.07 L222.98,417.09 L223.39,417.12 L223.80,417.14 L224.21,417.17 L224.62,417.19 L225.03,417.21 L225.44,417.24 L225.85,417.26 L226.26,417.29 L226.67,417.31 L227.08,417.33 L227.49,417.36 L227.90,417.38 L228.31,417.40 L228.72,417.43 L229.13,417.45 L229.54,417.47 L229.95,417.50 L230.36,417.52 L230.77,417.54 L231.18,417.57 L231.59,417.59 L232.00,417.61 L232.41,417.64 L232.82,417.66 L233.23,417.68 L233.64,417.70 L234.05,417.73 L234.46,417.75 L234.87,417.77 L235.28,417.79 L235.69,417.82 L236.10,417.84 L236.51,417.86 L236.92,417.88 L237.33,417.91 L237.74,417.93 L238.15,417.95 L238.56,417.97 L238.97,417.99 L239.38,418.01 L239.79,418.04 L240.20,418.06 L240.61,418.08 L241.02,418.10 L241.43,418.12 L241.84,418.14 L242.25,418.16 L242.66,418.19 L243.07,418.21 L243.48,418.23 L243.89,418.25 L244.30,418.27 L244.71,418.29 L245.12,418.31 L245.53,418.33 L245.94,418.35 L246.35,418.37 L246.76,418.39 L247.17,418.41 L247.58,418.43 L247.99,418.45 L248.40,418.47 L248.81,418.49 L249.22,418.51 L249.63,418.53 L250.04,418.55 L250.45,418.57 L250.86,418.59 L251.27,418.61 L251.68,418.63 L252.09,418.65 L252.50,418.66 L252.91,418.68 L253.32,418.70 L253.73,418.72 L254.14,418.74 L254.55,418.76 L254.96,418.78 L255.37,418.79 L255.78,418.81 L256.19,418.83 L256.60,418.85 L257.01,418.87 L257.42,418.88 L257.83,418.90 L258.24,418.92 L258.65,418.94 L259.06,418.95 L259.47,418.97 L259.88,418.99 L260.29,419.00 L260.70,419.02 L261.11,419.04 L261.52,419.05 L261.93,419.07 L262.34,419.09 L262.75,419.10 L263.16,419.12 L263.57,419.13 L263.98,419.15 L264.39,419.17 L264.80,419.18 L265.21,419.20 L265.62,419.21 L266.03,419.23 L266.44,419.24 L266.85,419.26 L267.26,419.27 L267.67,419.29 L268.08,419.30 L268.49,419.31 L268.90,419.33 L269.31,419.34 L269.72,419.36 L270.13,419.37 L270.54,419.38 L270.95,419.40" fill="none" stroke="#c07ef2" stroke-width="1.2" stroke-linejoin="round" marker-start="url(#mc_violet)" marker-mid="url(#mc_violet)" marker-end="url(#mc_violet)"/>
<path d="M55.50,232.50 L55.91,239.92 L56.32,247.16 L56.73,254.25 L57.14,261.55 L57.55,268.69 L57.96,275.19 L58.37,280.93 L58.78,285.91 L59.19,289.91 L59.60,293.00 L60.01,295.56 L60.42,297.88 L60.83,300.07 L61.24,302.21 L61.65,304.46 L62.06,306.72 L62.47,308.77 L62.88,310.52 L63.29,311.99 L63.70,313.23 L64.11,314.27 L64.52,315.15 L64.93,315.89 L65.34,316.51 L65.75,317.01 L66.16,317.38 L66.57,317.63 L66.98,317.82 L67.39,317.97 L67.80,318.11 L68.21,318.23 L68.62,318.33 L69.03,318.42 L69.44,318.49 L69.85,318.55 L70.26,318.58 L70.67,318.60 L71.08,318.58 L71.49,318.52 L71.90,318.42 L72.31,318.28 L72.72,318.12 L73.13,317.92 L73.54,317.71 L73.95,317.47 L74.36,317.22 L74.77,316.97 L75.18,316.70 L75.59,316.44 L76.00,316.19 L76.41,315.94 L76.82,315.71 L77.23,315.50 L77.64,315.32 L78.05,315.16 L78.46,315.04 L78.87,314.95 L79.28,314.91 L79.69,314.90 L80.10,314.93 L80.51,314.98 L80.92,315.04 L81.33,315.13 L81.74,315.23 L82.15,315.34 L82.56,315.47 L82.97,315.61 L83.38,315.76 L83.79,315.93 L84.20,316.11 L84.61,316.30 L85.02,316.51 L85.43,316.76 L85.84,317.07 L86.25,317.44 L86.66,317.86 L87.07,318.33 L87.48,318.86 L87.89,319.44 L88.30,320.07 L88.71,320.77 L89.12,321.54 L89.53,322.39 L89.94,323.32 L90.35,324.34 L90.76,325.46 L91.17,326.68 L91.58,328.03 L91.99,329.48 L92.40,331.05 L92.81,332.71 L93.22,334.42 L93.63,336.15 L94.04,337.83 L94.45,339.44 L94.86,340.96 L95.27,342.49 L95.68,344.03 L96.09,345.58 L96.50,347.15 L96.91,348.75 L97.32,350.37 L97.73,352.01 L98.14,353.70 L98.55,355.42 L98.96,357.19 L99.37,359.02 L99.78,361.02 L100.19,363.23 L100.60,365.61 L101.01,368.03 L101.42,370.34 L101.83,372.46 L102.24,374.35 L102.65,376.02 L103.06,377.51 L103.47,378.84 L103.88,380.05 L104.29,381.16 L104.70,382.19 L105.11,383.14 L105.52,384.02 L105.93,384.84 L106.34,385.60 L106.75,386.31 L107.16,386.96 L107.57,387.56 L107.98,388.10 L108.39,388.59 L108.80,389.04 L109.21,389.46 L109.62,389.85 L110.03,390.22 L110.44,390.57 L110.85,390.91 L111.26,391.23 L111.67,391.54 L112.08,391.84 L112.49,392.12 L112.90,392.40 L113.31,392.66 L113.72,392.92 L114.13,393.16 L114.54,393.39 L114.95,393.62 L115.36,393.83 L115.77,394.04 L116.18,394.24 L116.59,394.44 L117.00,394.63 L117.41,394.81 L117.82,394.99 L118.23,395.16 L118.64,395.33 L119.05,395.50 L119.46,395.66 L119.87,395.81 L120.28,395.97 L120.69,396.12 L121.10,396.27 L121.51,396.42 L121.92,396.56 L122.33,396.70 L122.74,396.84 L123.15,396.98 L123.56,397.12 L123.97,397.26 L124.38,397.40 L124.79,397.53 L125.20,397.67 L125.61,397.81 L126.02,397.94 L126.43,398.08 L126.84,398.22 L127.25,398.36 L127.66,398.49 L128.07,398.64 L128.48,398.78 L128.89,398.92 L129.30,399.07 L129.71,399.22 L130.12,399.37 L130.53,399.52 L130.94,399.68 L131.35,399.84 L131.76,400.00 L132.17,400.16 L132.58,400.32 L132.99,400.48 L133.40,400.65 L133.81,400.81 L134.22,400.98 L134.63,401.14 L135.04,401.31 L135.45,401.47 L135.86,401.64 L136.27,401.81 L136.68,401.98 L137.09,402.15 L137.50,402.32 L137.91,402.49 L138.32,402.65 L138.73,402.82 L139.14,402.99 L139.55,403.16 L139.96,403.33 L140.37,403.50 L140.78,403.67 L141.19,403.84 L141.60,404.01 L142.01,404.17 L142.42,404.34 L142.83,404.51 L143.24,404.68 L143.65,404.84 L144.06,405.01 L144.47,405.17 L144.88,405.34 L145.29,405.50 L145.70,405.66 L146.11,405.82 L146.52,405.98 L146.93,406.14 L147.34,406.30 L147.75,406.46 L148.16,406.61 L148.57,406.77 L148.98,406.92 L149.39,407.08 L149.80,407.23 L150.21,407.38 L150.62,407.52 L151.03,407.67 L151.44,407.82 L151.85,407.96 L152.26,408.10 L152.67,408.24 L153.08,408.38 L153.49,408.51 L153.90,408.65 L154.31,408.78 L154.72,408.91 L155.13,409.04 L155.54,409.17 L155.95,409.30 L156.36,409.43 L156.77,409.55 L157.18,409.68 L157.59,409.81 L158.00,409.94 L158.41,410.07 L158.82,410.19 L159.23,410.32 L159.64,410.45 L160.05,410.58 L160.46,410.70 L160.87,410.83 L161.28,410.96 L161.69,411.08 L162.10,411.21 L162.51,411.33 L162.92,411.46 L163.33,411.58 L163.74,411.71 L164.15,411.83 L164.56,411.96 L164.97,412.08 L165.38,412.20 L165.79,412.32 L166.20,412.45 L166.61,412.57 L167.02,412.69 L167.43,412.81 L167.84,412.93 L168.25,413.04 L168.66,413.16 L169.07,413.28 L169.48,413.40 L169.89,413.51 L170.30,413.63 L170.71,413.74 L171.12,413.85 L171.53,413.97 L171.94,414.08 L172.35,414.19 L172.76,414.30 L173.17,414.41 L173.58,414.51 L173.99,414.62 L174.40,414.73 L174.81,414.83 L175.22,414.94 L175.63,415.04 L176.04,415.14 L176.45,415.24 L176.86,415.34 L177.27,415.44 L177.68,415.54 L178.09,415.64 L178.50,415.73 L178.91,415.82 L179.32,415.92 L179.73,416.01 L180.14,416.10 L180.55,416.19 L180.96,416.28 L181.37,416.36 L181.78,416.45 L182.19,416.53 L182.60,416.61 L183.01,416.69 L183.42,416.77 L183.83,416.85 L184.24,416.93 L184.65,417.00 L185.06,417.08 L185.47,417.15 L185.88,417.22 L186.29,417.29 L186.70,417.35 L187.11,417.42 L187.52,417.48 L187.93,417.55 L188.34,417.61 L188.75,417.66 L189.16,417.72 L189.57,417.78 L189.98,417.83 L190.39,417.89 L190.80,417.94 L191.21,418.00 L191.62,418.05 L192.03,418.10 L192.44,418.15 L192.85,418.21 L193.26,418.26 L193.67,418.31 L194.08,418.36 L194.49,418.41 L194.90,418.45 L195.31,418.50 L195.72,418.55 L196.13,418.60 L196.54,418.64 L196.95,418.69 L197.36,418.74 L197.77,418.78 L198.18,418.83 L198.59,418.87 L199.00,418.91 L199.41,418.96 L199.82,419.00 L200.23,419.04 L200.64,419.08 L201.05,419.13 L201.46,419.17 L201.87,419.21 L202.28,419.25 L202.69,419.29 L203.10,419.33 L203.51,419.37 L203.92,419.41 L204.33,419.44 L204.74,419.48 L205.15,419.52 L205.56,419.56 L205.97,419.59 L206.38,419.63 L206.79,419.67 L207.20,419.70 L207.61,419.74 L208.02,419.78 L208.43,419.81 L208.84,419.85 L209.25,419.88 L209.66,419.92 L210.07,419.95 L210.48,419.99 L210.89,420.02 L211.30,420.05 L211.71,420.09 L212.12,420.12 L212.53,420.15 L212.94,420.19 L213.35,420.22 L213.76,420.25 L214.17,420.29 L214.58,420.32 L214.99,420.35 L215.40,420.38 L215.81,420.41 L216.22,420.45 L216.63,420.48 L217.04,420.51 L217.45,420.54 L217.86,420.57 L218.27,420.60 L218.68,420.64 L219.09,420.67 L219.50,420.70 L219.91,420.73 L220.32,420.76 L220.73,420.79 L221.14,420.82 L221.55,420.85 L221.96,420.88 L222.37,420.92 L222.78,420.95 L223.19,420.98 L223.60,421.01 L224.01,421.04 L224.42,421.07 L224.83,421.10 L225.24,421.13 L225.65,421.16 L226.06,421.20 L226.47,421.23 L226.88,421.26 L227.29,421.29 L227.70,421.32 L228.11,421.35 L228.52,421.38 L228.93,421.42 L229.34,421.45 L229.75,421.48 L230.16,421.51 L230.57,421.54 L230.98,421.58 L231.39,421.61 L231.80,421.64 L232.21,421.67 L232.62,421.70 L233.03,421.74 L233.44,421.77 L233.85,421.80 L234.26,421.83 L234.67,421.86 L235.08,421.89 L235.49,421.93 L235.90,421.96 L236.31,421.99 L236.72,422.02 L237.13,422.05 L237.54,422.08 L237.95,422.11 L238.36,422.14 L238.77,422.17 L239.18,422.20 L239.59,422.23 L240.00,422.26 L240.41,422.29 L240.82,422.33 L241.23,422.36 L241.64,422.39 L242.05,422.42 L242.46,422.45 L242.87,422.48 L243.28,422.51 L243.69,422.53 L244.10,422.56 L244.51,422.59 L244.92,422.62 L245.33,422.65 L245.74,422.68 L246.15,422.71 L246.56,422.74 L246.97,422.77 L247.38,422.80 L247.79,422.83 L248.20,422.86 L248.61,422.88 L249.02,422.91 L249.43,422.94 L249.84,422.97 L250.25,423.00 L250.66,423.03 L251.07,423.05 L251.48,423.08 L251.89,423.11 L252.30,423.14 L252.71,423.17 L253.12,423.19 L253.53,423.22 L253.94,423.25 L254.35,423.28 L254.76,423.30 L255.17,423.33 L255.58,423.36 L255.99,423.38 L256.40,423.41 L256.81,423.44 L257.22,423.46 L257.63,423.49 L258.04,423.52 L258.45,423.54 L258.86,423.57 L259.27,423.60 L259.68,423.62 L260.09,423.65 L260.50,423.67 L260.91,423.70 L261.32,423.73 L261.73,423.75 L262.14,423.78 L262.55,423.80 L262.96,423.83 L263.37,423.85 L263.78,423.88 L264.19,423.90 L264.60,423.93 L265.01,423.95 L265.42,423.98 L265.83,424.00 L266.24,424.03 L266.65,424.05 L267.06,424.07 L267.47,424.10 L267.88,424.12 L268.29,424.15 L268.70,424.17 L269.11,424.19 L269.52,424.22 L269.93,424.24 L270.34,424.26 L270.75,424.29" fill="none" stroke="#dc9b18" stroke-width="1.2" stroke-linejoin="round" marker-start="url(#mc_orange)" marker-mid="url(#mc_orange)" marker-end="url(#mc_orange)"/>
</g>
<line x1="180.90" y1="238.90" x2="200.10" y2="238.90" stroke="#3a3a3a" stroke-width="1.1"/>
<rect x="189.30" y="237.70" width="2.40" height="2.40" fill="#3a3a3a"/>
<text x="202.90" y="242.10" font-size="8.6" font-weight="bold" text-anchor="start" fill="#000">Control</text>
<line x1="180.90" y1="250.32" x2="200.10" y2="250.32" stroke="#f42a2a" stroke-width="1.1"/>
<circle cx="190.50" cy="250.32" r="1.20" fill="#f42a2a"/>
<text x="202.90" y="253.52" font-size="8.6" font-weight="bold" text-anchor="start" fill="#000">Ultrasound</text>
<line x1="180.90" y1="261.74" x2="200.10" y2="261.74" stroke="#1f66f0" stroke-width="1.1"/>
<path d="M190.50,260.30 L191.82,262.70 L189.18,262.70Z" fill="#1f66f0"/>
<text x="202.90" y="264.94" font-size="8.6" font-weight="bold" text-anchor="start" fill="#000">50 <tspan font-weight="normal" dx="0.1em">°</tspan><tspan dx="-0.22em">C</tspan></text>
<line x1="180.90" y1="273.16" x2="200.10" y2="273.16" stroke="#16a571" stroke-width="1.1"/>
<path d="M190.50,274.60 L191.82,272.20 L189.18,272.20Z" fill="#16a571"/>
<text x="202.90" y="276.36" font-size="8.6" font-weight="bold" text-anchor="start" fill="#000">60 <tspan font-weight="normal" dx="0.1em">°</tspan><tspan dx="-0.22em">C</tspan></text>
<line x1="180.90" y1="284.58" x2="200.10" y2="284.58" stroke="#c07ef2" stroke-width="1.1"/>
<path d="M190.50,283.08 L191.70,284.58 L190.50,286.08 L189.30,284.58Z" fill="#c07ef2"/>
<text x="202.90" y="287.78" font-size="8.6" font-weight="bold" text-anchor="start" fill="#000">Ultrasound+50 <tspan font-weight="normal" dx="0.1em">°</tspan><tspan dx="-0.22em">C</tspan></text>
<line x1="180.90" y1="296.00" x2="200.10" y2="296.00" stroke="#dc9b18" stroke-width="1.1"/>
<path d="M189.06,296.00 L191.46,294.68 L191.46,297.32Z" fill="#dc9b18"/>
<text x="202.90" y="299.20" font-size="8.6" font-weight="bold" text-anchor="start" fill="#000">Ultrasound+60 <tspan font-weight="normal" dx="0.1em">°</tspan><tspan dx="-0.22em">C</tspan></text>
<rect x="306.6" y="229.8" width="235.90" height="196.40" fill="none" stroke="#2e2e2e" stroke-width="1"/>
<line x1="306.60" y1="415.93" x2="309.60" y2="415.93" stroke="#2e2e2e" stroke-width="0.9"/>
<text x="302.60" y="419.40" font-size="8.2" font-weight="bold" text-anchor="end" fill="#000">-0.009</text>
<line x1="306.60" y1="386.62" x2="309.60" y2="386.62" stroke="#2e2e2e" stroke-width="0.9"/>
<text x="302.60" y="390.09" font-size="8.2" font-weight="bold" text-anchor="end" fill="#000">-0.006</text>
<line x1="306.60" y1="357.31" x2="309.60" y2="357.31" stroke="#2e2e2e" stroke-width="0.9"/>
<text x="302.60" y="360.78" font-size="8.2" font-weight="bold" text-anchor="end" fill="#000">-0.003</text>
<line x1="306.60" y1="328.00" x2="309.60" y2="328.00" stroke="#2e2e2e" stroke-width="0.9"/>
<text x="302.60" y="331.47" font-size="8.2" font-weight="bold" text-anchor="end" fill="#000">0.000</text>
<line x1="306.60" y1="298.69" x2="309.60" y2="298.69" stroke="#2e2e2e" stroke-width="0.9"/>
<text x="302.60" y="302.16" font-size="8.2" font-weight="bold" text-anchor="end" fill="#000">0.003</text>
<line x1="306.60" y1="269.38" x2="309.60" y2="269.38" stroke="#2e2e2e" stroke-width="0.9"/>
<text x="302.60" y="272.85" font-size="8.2" font-weight="bold" text-anchor="end" fill="#000">0.006</text>
<line x1="306.60" y1="240.07" x2="309.60" y2="240.07" stroke="#2e2e2e" stroke-width="0.9"/>
<text x="302.60" y="243.54" font-size="8.2" font-weight="bold" text-anchor="end" fill="#000">0.009</text>
<line x1="306.60" y1="401.27" x2="308.60" y2="401.27" stroke="#2e2e2e" stroke-width="0.9"/>
<line x1="306.60" y1="371.96" x2="308.60" y2="371.96" stroke="#2e2e2e" stroke-width="0.9"/>
<line x1="306.60" y1="342.65" x2="308.60" y2="342.65" stroke="#2e2e2e" stroke-width="0.9"/>
<line x1="306.60" y1="313.35" x2="308.60" y2="313.35" stroke="#2e2e2e" stroke-width="0.9"/>
<line x1="306.60" y1="284.04" x2="308.60" y2="284.04" stroke="#2e2e2e" stroke-width="0.9"/>
<line x1="306.60" y1="254.73" x2="308.60" y2="254.73" stroke="#2e2e2e" stroke-width="0.9"/>
<line x1="306.60" y1="426.20" x2="306.60" y2="429.20" stroke="#2e2e2e" stroke-width="0.9"/>
<text x="306.60" y="439.57" font-size="8.5" font-weight="bold" text-anchor="middle" fill="#000">250</text>
<line x1="353.76" y1="426.20" x2="353.76" y2="429.20" stroke="#2e2e2e" stroke-width="0.9"/>
<text x="353.76" y="439.57" font-size="8.5" font-weight="bold" text-anchor="middle" fill="#000">260</text>
<line x1="400.92" y1="426.20" x2="400.92" y2="429.20" stroke="#2e2e2e" stroke-width="0.9"/>
<text x="400.92" y="439.57" font-size="8.5" font-weight="bold" text-anchor="middle" fill="#000">270</text>
<line x1="448.08" y1="426.20" x2="448.08" y2="429.20" stroke="#2e2e2e" stroke-width="0.9"/>
<text x="448.08" y="439.57" font-size="8.5" font-weight="bold" text-anchor="middle" fill="#000">280</text>
<line x1="495.24" y1="426.20" x2="495.24" y2="429.20" stroke="#2e2e2e" stroke-width="0.9"/>
<text x="495.24" y="439.57" font-size="8.5" font-weight="bold" text-anchor="middle" fill="#000">290</text>
<line x1="542.40" y1="426.20" x2="542.40" y2="429.20" stroke="#2e2e2e" stroke-width="0.9"/>
<text x="542.40" y="439.57" font-size="8.5" font-weight="bold" text-anchor="middle" fill="#000">300</text>
<line x1="330.18" y1="426.20" x2="330.18" y2="428.20" stroke="#2e2e2e" stroke-width="0.9"/>
<line x1="377.34" y1="426.20" x2="377.34" y2="428.20" stroke="#2e2e2e" stroke-width="0.9"/>
<line x1="424.50" y1="426.20" x2="424.50" y2="428.20" stroke="#2e2e2e" stroke-width="0.9"/>
<line x1="471.66" y1="426.20" x2="471.66" y2="428.20" stroke="#2e2e2e" stroke-width="0.9"/>
<line x1="518.82" y1="426.20" x2="518.82" y2="428.20" stroke="#2e2e2e" stroke-width="0.9"/>
<text x="428.70" y="448.24" font-size="9.9" font-weight="bold" text-anchor="middle" fill="#000">Wavelength (nm)</text>
<text x="281.20" y="331.21" font-size="9.5" font-weight="bold" text-anchor="middle" fill="#000" transform="rotate(-90 281.20 328.00)">d<tspan font-size="6" dy="-3">2</tspan><tspan dy="3">A/(d</tspan><tspan font-size="6" dy="-3">2</tspan><tspan dy="3">λ</tspan></text>
<text x="286.60" y="224.29" font-size="14.5" font-weight="normal" text-anchor="middle" fill="#000">(d)</text>
<clipPath id="cd"><rect x="306.6" y="229.8" width="235.89999999999998" height="196.39999999999998"/></clipPath>
<g clip-path="url(#cd)">
<path d="M306.60,376.85 L311.32,330.93 L316.03,298.69 L320.75,319.21 L325.46,351.45 L330.18,340.70 L334.90,315.30 L339.61,324.09 L344.33,342.65 L349.04,349.49 L353.76,345.59 L358.48,324.09 L363.19,304.55 L367.91,321.16 L372.62,355.36 L377.34,350.47 L382.06,326.05 L386.77,332.88 L391.49,365.13 L396.20,378.80 L400.92,362.19 L405.64,345.59 L410.35,340.70 L415.07,357.31 L419.78,388.57 L424.50,413.00 L429.22,393.46 L433.93,332.88 L438.65,285.01 L443.36,291.85 L448.08,343.63 L452.80,392.48 L457.51,391.50 L462.23,344.61 L466.94,293.81 L471.66,260.59 L476.38,255.70 L481.09,272.31 L485.81,285.99 L490.52,288.92 L495.24,291.85 L499.96,298.69 L504.67,306.51 L509.39,308.46 L514.10,311.39 L518.82,313.35 L523.54,314.32 L528.25,316.28 L532.97,319.21 L537.68,320.18 L542.40,323.12" fill="none" stroke="#dc9b18" stroke-width="1.0" stroke-linejoin="round" marker-start="url(#md_orange)" marker-mid="url(#md_orange)" marker-end="url(#md_orange)"/>
<path d="M306.60,371.96 L311.32,349.49 L316.03,322.14 L320.75,307.48 L325.46,322.14 L330.18,346.56 L334.90,340.70 L339.61,323.12 L344.33,334.84 L349.04,353.40 L353.76,336.79 L358.48,314.32 L363.19,318.23 L367.91,328.98 L372.62,331.91 L377.34,339.72 L382.06,341.68 L386.77,335.82 L391.49,341.68 L396.20,363.17 L400.92,361.22 L405.64,349.49 L410.35,345.59 L415.07,347.54 L419.78,376.85 L424.50,398.34 L429.22,394.44 L433.93,349.49 L438.65,300.64 L443.36,292.83 L448.08,331.91 L452.80,377.83 L457.51,384.67 L462.23,355.36 L466.94,297.71 L471.66,270.36 L476.38,266.45 L481.09,276.22 L485.81,286.97 L490.52,292.83 L495.24,294.78 L499.96,299.67 L504.67,308.46 L509.39,312.37 L514.10,315.30 L518.82,315.30 L523.54,313.35 L528.25,317.25 L532.97,322.14 L537.68,324.09 L542.40,324.09" fill="none" stroke="#c07ef2" stroke-width="1.0" stroke-linejoin="round" marker-start="url(#md_violet)" marker-mid="url(#md_violet)" marker-end="url(#md_violet)"/>
<path d="M306.60,340.70 L311.32,330.93 L316.03,320.18 L320.75,322.14 L325.46,337.77 L330.18,342.65 L334.90,328.98 L339.61,320.18 L344.33,330.93 L349.04,341.68 L353.76,331.91 L358.48,323.12 L363.19,326.05 L367.91,335.82 L372.62,336.79 L377.34,333.86 L382.06,331.91 L386.77,336.79 L391.49,347.54 L396.20,355.36 L400.92,355.36 L405.64,347.54 L410.35,340.70 L415.07,343.63 L419.78,360.24 L424.50,369.03 L429.22,361.22 L433.93,330.93 L438.65,313.35 L443.36,312.37 L448.08,333.86 L452.80,360.24 L457.51,360.24 L462.23,338.75 L466.94,312.37 L471.66,294.78 L476.38,290.87 L481.09,295.76 L485.81,302.60 L490.52,302.60 L495.24,304.55 L499.96,306.51 L504.67,309.44 L509.39,315.30 L514.10,317.25 L518.82,319.21 L523.54,320.18 L528.25,321.16 L532.97,323.12 L537.68,324.09 L542.40,326.05" fill="none" stroke="#3a3a3a" stroke-width="1.0" stroke-linejoin="round" marker-start="url(#md_black)" marker-mid="url(#md_black)" marker-end="url(#md_black)"/>
<path d="M306.60,350.47 L311.32,337.77 L316.03,322.14 L320.75,321.16 L325.46,333.86 L330.18,342.65 L334.90,329.95 L339.61,319.21 L344.33,330.93 L349.04,341.68 L353.76,329.95 L358.48,321.16 L363.19,322.14 L367.91,333.86 L372.62,341.68 L377.34,336.79 L382.06,327.02 L386.77,328.98 L391.49,342.65 L396.20,360.24 L400.92,360.24 L405.64,349.49 L410.35,342.65 L415.07,349.49 L419.78,367.08 L424.50,374.90 L429.22,367.08 L433.93,332.88 L438.65,300.64 L443.36,300.64 L448.08,334.84 L452.80,370.01 L457.51,367.08 L462.23,337.77 L466.94,303.57 L471.66,284.04 L476.38,285.01 L481.09,290.87 L485.81,300.64 L490.52,298.69 L495.24,303.57 L499.96,304.55 L504.67,306.51 L509.39,312.37 L514.10,316.28 L518.82,318.23 L523.54,319.21 L528.25,321.16 L532.97,323.12 L537.68,324.09 L542.40,326.05" fill="none" stroke="#f42a2a" stroke-width="1.0" stroke-linejoin="round" marker-start="url(#md_red)" marker-mid="url(#md_red)" marker-end="url(#md_red)"/>
<path d="M306.60,325.07 L311.32,331.91 L316.03,321.16 L320.75,323.12 L325.46,337.77 L330.18,343.63 L334.90,328.98 L339.61,319.21 L344.33,331.91 L349.04,342.65 L353.76,332.88 L358.48,323.12 L363.19,326.05 L367.91,330.93 L372.62,332.88 L377.34,332.88 L382.06,333.86 L386.77,336.79 L391.49,345.59 L396.20,351.45 L400.92,353.40 L405.64,343.63 L410.35,339.72 L415.07,345.59 L419.78,362.19 L424.50,370.99 L429.22,363.17 L433.93,329.95 L438.65,311.39 L443.36,308.46 L448.08,333.86 L452.80,360.24 L457.51,362.19 L462.23,337.77 L466.94,311.39 L471.66,289.90 L476.38,285.99 L481.09,292.83 L485.81,301.62 L490.52,304.55 L495.24,306.51 L499.96,309.44 L504.67,311.39 L509.39,315.30 L514.10,317.25 L518.82,319.21 L523.54,320.18 L528.25,321.16 L532.97,323.12 L537.68,325.07 L542.40,327.02" fill="none" stroke="#1f66f0" stroke-width="1.0" stroke-linejoin="round" marker-start="url(#md_blue)" marker-mid="url(#md_blue)" marker-end="url(#md_blue)"/>
<path d="M306.60,347.54 L311.32,329.95 L316.03,317.25 L320.75,319.21 L325.46,337.77 L330.18,342.65 L334.90,329.95 L339.61,319.21 L344.33,330.93 L349.04,342.65 L353.76,330.93 L358.48,323.12 L363.19,328.00 L367.91,327.02 L372.62,328.00 L377.34,330.93 L382.06,334.84 L386.77,339.72 L391.49,348.52 L396.20,355.36 L400.92,351.45 L405.64,340.70 L410.35,338.75 L415.07,347.54 L419.78,365.13 L424.50,382.71 L429.22,367.08 L433.93,331.91 L438.65,302.60 L443.36,302.60 L448.08,334.84 L452.80,365.13 L457.51,367.08 L462.23,339.72 L466.94,306.51 L471.66,285.99 L476.38,282.08 L481.09,290.87 L485.81,302.60 L490.52,301.62 L495.24,306.51 L499.96,305.53 L504.67,308.46 L509.39,313.35 L514.10,316.28 L518.82,318.23 L523.54,320.18 L528.25,322.14 L532.97,323.12 L537.68,325.07 L542.40,325.07" fill="none" stroke="#16a571" stroke-width="1.0" stroke-linejoin="round" marker-start="url(#md_green)" marker-mid="url(#md_green)" marker-end="url(#md_green)"/>
</g>
<rect x="307.1" y="230.3" width="112" height="61" fill="#fff"/>
<text x="310.60" y="237.47" font-size="7.9" font-weight="bold" text-anchor="start" fill="#000">r=0.74</text>
<line x1="334.50" y1="234.50" x2="353.10" y2="234.50" stroke="#3a3a3a" stroke-width="1.1"/>
<circle cx="343.60" cy="234.50" r="1.80" fill="#3a3a3a"/>
<text x="354.70" y="237.47" font-size="7.9" font-weight="bold" text-anchor="start" fill="#000">Control</text>
<text x="310.60" y="247.97" font-size="7.9" font-weight="bold" text-anchor="start" fill="#000">r=0.86</text>
<line x1="334.50" y1="245.00" x2="353.10" y2="245.00" stroke="#f42a2a" stroke-width="1.1"/>
<circle cx="343.60" cy="245.00" r="1.80" fill="#f42a2a"/>
<text x="354.70" y="247.97" font-size="7.9" font-weight="bold" text-anchor="start" fill="#000">Ultrasound</text>
<text x="310.60" y="258.47" font-size="7.9" font-weight="bold" text-anchor="start" fill="#000">r=0.75</text>
<line x1="334.50" y1="255.50" x2="353.10" y2="255.50" stroke="#1f66f0" stroke-width="1.1"/>
<path d="M343.60,253.34 L345.58,256.94 L341.62,256.94Z" fill="#1f66f0"/>
<text x="354.70" y="258.47" font-size="7.9" font-weight="bold" text-anchor="start" fill="#000">50 <tspan font-weight="normal" dx="0.1em">°</tspan><tspan dx="-0.22em">C</tspan></text>
<text x="310.60" y="268.97" font-size="7.9" font-weight="bold" text-anchor="start" fill="#000">r=0.86</text>
<line x1="334.50" y1="266.00" x2="353.10" y2="266.00" stroke="#16a571" stroke-width="1.1"/>
<path d="M343.60,268.16 L345.58,264.56 L341.62,264.56Z" fill="#16a571"/>
<text x="354.70" y="268.97" font-size="7.9" font-weight="bold" text-anchor="start" fill="#000">60 <tspan font-weight="normal" dx="0.1em">°</tspan><tspan dx="-0.22em">C</tspan></text>
<text x="310.60" y="279.47" font-size="7.9" font-weight="bold" text-anchor="start" fill="#000">r=0.88</text>
<line x1="334.50" y1="276.50" x2="353.10" y2="276.50" stroke="#c07ef2" stroke-width="1.1"/>
<path d="M343.60,274.25 L345.40,276.50 L343.60,278.75 L341.80,276.50Z" fill="#c07ef2"/>
<text x="354.70" y="279.47" font-size="7.9" font-weight="bold" text-anchor="start" fill="#000">Ultrasound+50 <tspan font-weight="normal" dx="0.1em">°</tspan><tspan dx="-0.22em">C</tspan></text>
<text x="310.60" y="289.97" font-size="7.9" font-weight="bold" text-anchor="start" fill="#000">r=0.93</text>
<line x1="334.50" y1="287.00" x2="353.10" y2="287.00" stroke="#dc9b18" stroke-width="1.1"/>
<path d="M341.44,287.00 L345.04,285.02 L345.04,288.98Z" fill="#dc9b18"/>
<text x="354.70" y="289.97" font-size="7.9" font-weight="bold" text-anchor="start" fill="#000">Ultrasound+60 <tspan font-weight="normal" dx="0.1em">°</tspan><tspan dx="-0.22em">C</tspan></text>
<line x1="306.60" y1="229.80" x2="419.60" y2="229.80" stroke="#2e2e2e" stroke-width="1.0"/>
<line x1="306.60" y1="229.80" x2="306.60" y2="291.80" stroke="#2e2e2e" stroke-width="1.0"/>
<line x1="306.60" y1="269.38" x2="309.60" y2="269.38" stroke="#2e2e2e" stroke-width="0.9"/>
<line x1="306.60" y1="240.07" x2="309.60" y2="240.07" stroke="#2e2e2e" stroke-width="0.9"/>
<line x1="306.60" y1="254.73" x2="308.60" y2="254.73" stroke="#2e2e2e" stroke-width="0.9"/>
<defs><marker id="ma_black" markerUnits="userSpaceOnUse" markerWidth="4.20" markerHeight="4.20" refX="2.10" refY="2.10" overflow="visible"><circle cx="2.10" cy="2.10" r="1.10" fill="#fff" stroke="#444" stroke-width="0.7"/></marker><marker id="ma_red" markerUnits="userSpaceOnUse" markerWidth="4.50" markerHeight="4.50" refX="2.25" refY="2.25" overflow="visible"><circle cx="2.25" cy="2.25" r="1.25" fill="#f42a2a"/></marker><marker id="ma_blue" markerUnits="userSpaceOnUse" markerWidth="4.50" markerHeight="4.50" refX="2.25" refY="2.25" overflow="visible"><path d="M2.25,0.75 L3.62,3.25 L0.88,3.25Z" fill="#1f66f0"/></marker><marker id="ma_green" markerUnits="userSpaceOnUse" markerWidth="4.50" markerHeight="4.50" refX="2.25" refY="2.25" overflow="visible"><path d="M2.25,3.75 L3.62,1.25 L0.88,1.25Z" fill="#16a571"/></marker><marker id="ma_violet" markerUnits="userSpaceOnUse" markerWidth="4.50" markerHeight="4.50" refX="2.25" refY="2.25" overflow="visible"><path d="M2.25,0.69 L3.50,2.25 L2.25,3.81 L1.00,2.25Z" fill="#c07ef2"/></marker><marker id="ma_orange" markerUnits="userSpaceOnUse" markerWidth="4.50" markerHeight="4.50" refX="2.25" refY="2.25" overflow="visible"><path d="M0.75,2.25 L3.25,0.88 L3.25,3.62Z" fill="#dc9b18"/></marker><marker id="mc_black" markerUnits="userSpaceOnUse" markerWidth="4.90" markerHeight="4.90" refX="2.45" refY="2.45" overflow="visible"><rect x="1.00" y="1.00" width="2.90" height="2.90" fill="#3a3a3a"/></marker><marker id="mc_red" markerUnits="userSpaceOnUse" markerWidth="4.90" markerHeight="4.90" refX="2.45" refY="2.45" overflow="visible"><circle cx="2.45" cy="2.45" r="1.45" fill="#f42a2a"/></marker><marker id="mc_blue" markerUnits="userSpaceOnUse" markerWidth="4.90" markerHeight="4.90" refX="2.45" refY="2.45" overflow="visible"><path d="M2.45,0.71 L4.04,3.61 L0.86,3.61Z" fill="#1f66f0"/></marker><marker id="mc_green" markerUnits="userSpaceOnUse" markerWidth="4.90" markerHeight="4.90" refX="2.45" refY="2.45" overflow="visible"><path d="M2.45,4.19 L4.04,1.29 L0.86,1.29Z" fill="#16a571"/></marker><marker id="mc_violet" markerUnits="userSpaceOnUse" markerWidth="4.90" markerHeight="4.90" refX="2.45" refY="2.45" overflow="visible"><path d="M2.45,0.64 L3.90,2.45 L2.45,4.26 L1.00,2.45Z" fill="#c07ef2"/></marker><marker id="mc_orange" markerUnits="userSpaceOnUse" markerWidth="4.90" markerHeight="4.90" refX="2.45" refY="2.45" overflow="visible"><path d="M0.71,2.45 L3.61,0.86 L3.61,4.04Z" fill="#dc9b18"/></marker><marker id="md_orange" markerUnits="userSpaceOnUse" markerWidth="6.00" markerHeight="6.00" refX="3.00" refY="3.00" overflow="visible"><path d="M0.60,3.00 L4.60,0.80 L4.60,5.20Z" fill="#dc9b18"/></marker><marker id="md_violet" markerUnits="userSpaceOnUse" markerWidth="6.00" markerHeight="6.00" refX="3.00" refY="3.00" overflow="visible"><path d="M3.00,0.50 L5.00,3.00 L3.00,5.50 L1.00,3.00Z" fill="#c07ef2"/></marker><marker id="md_black" markerUnits="userSpaceOnUse" markerWidth="6.00" markerHeight="6.00" refX="3.00" refY="3.00" overflow="visible"><rect x="1.00" y="1.00" width="4.00" height="4.00" fill="#3a3a3a"/></marker><marker id="md_red" markerUnits="userSpaceOnUse" markerWidth="6.00" markerHeight="6.00" refX="3.00" refY="3.00" overflow="visible"><circle cx="3.00" cy="3.00" r="2.00" fill="#f42a2a"/></marker><marker id="md_blue" markerUnits="userSpaceOnUse" markerWidth="6.00" markerHeight="6.00" refX="3.00" refY="3.00" overflow="visible"><path d="M3.00,0.60 L5.20,4.60 L0.80,4.60Z" fill="#1f66f0"/></marker><marker id="md_green" markerUnits="userSpaceOnUse" markerWidth="6.00" markerHeight="6.00" refX="3.00" refY="3.00" overflow="visible"><path d="M3.00,5.40 L5.20,1.40 L0.80,1.40Z" fill="#16a571"/></marker></defs>
</g></svg>
</body></html>
